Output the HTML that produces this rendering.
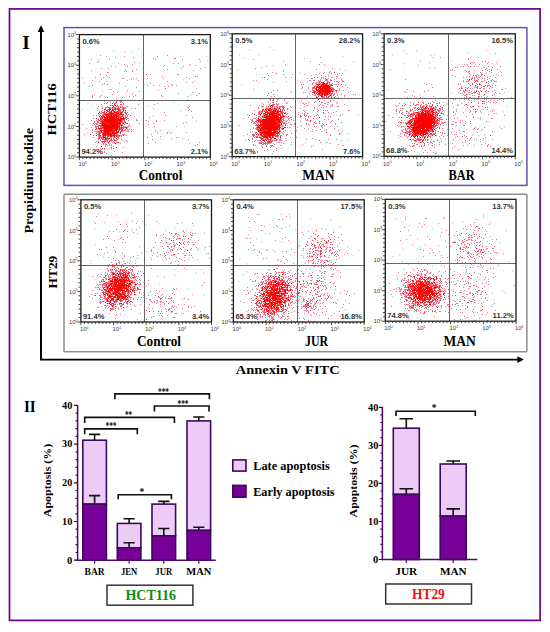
<!DOCTYPE html>
<html><head><meta charset="utf-8"><title>Apoptosis figure</title>
<style>html,body{margin:0;padding:0;background:#fff;}svg{display:block;}</style>
</head><body>
<svg width="550" height="632" viewBox="0 0 550 632"><defs><filter id="bl" x="-5%" y="-5%" width="110%" height="110%"><feGaussianBlur stdDeviation="0.35"/></filter></defs>
<rect x="9.5" y="8.9" width="530.6" height="611.5" fill="none" stroke="#6a0094" stroke-width="1.7"/>
<rect x="64" y="27.6" width="462.9" height="157.8" fill="none" stroke="#6650b5" stroke-width="1.5"/>
<rect x="64" y="194.3" width="462.9" height="157.5" fill="none" stroke="#8e8e8e" stroke-width="1.5" rx="0.8"/>
<line x1="41" y1="30" x2="41" y2="359.5" stroke="#000" stroke-width="2"/>
<polygon points="41,25.3 37.7,31.9 44.3,31.9" fill="#000"/>
<line x1="40" y1="359.6" x2="518" y2="359.6" stroke="#000" stroke-width="1.9"/>
<polygon points="523.9,359.6 517.3,356.3 517.3,362.9" fill="#000"/>
<text x="26.1" y="48.9" font-size="19.5" font-family="Liberation Serif" font-weight="bold" fill="#000" text-anchor="middle" >I</text>
<text transform="translate(33.2,180.8) rotate(-90)" x="0" y="0" font-size="13.5" font-family="Liberation Serif" font-weight="bold" fill="#000" text-anchor="middle" textLength="105.6" lengthAdjust="spacingAndGlyphs">Propidium iodide</text>
<text transform="translate(55.6,109.4) rotate(-90)" x="0" y="0" font-size="13.3" font-family="Liberation Serif" font-weight="bold" fill="#000" text-anchor="middle" textLength="52.0" lengthAdjust="spacingAndGlyphs">HCT116</text>
<text transform="translate(57.0,272.1) rotate(-90)" x="0" y="0" font-size="13.5" font-family="Liberation Serif" font-weight="bold" fill="#000" text-anchor="middle" textLength="32.8" lengthAdjust="spacingAndGlyphs">HT29</text>
<text x="287.7" y="373.5" font-size="13.2" font-family="Liberation Serif" font-weight="bold" fill="#000" text-anchor="middle" textLength="103.8" lengthAdjust="spacingAndGlyphs" >Annexin V FITC</text>
<path fill="#e8183c" fill-opacity="0.6" filter="url(#bl)" d="M100 55h1v1h-1zM167 55h1v1h-1zM106 56h1v1h-1zM124 56h1v1h-1zM157 56h1v1h-1zM115 57h1v1h-1zM133 57h1v1h-1zM153 58h1v1h-1zM174 58h2v1h-2zM91 59h1v1h-1zM109 59h1v1h-1zM155 59h1v1h-1zM182 59h1v1h-1zM199 59h1v1h-1zM98 61h1v1h-1zM200 61h1v1h-1zM97 62h1v1h-1zM134 62h1v1h-1zM139 62h1v1h-1zM89 63h1v1h-1zM118 63h1v1h-1zM173 63h1v1h-1zM178 63h1v1h-1zM124 64h1v1h-1zM132 64h1v1h-1zM190 64h1v1h-1zM164 65h1v1h-1zM189 65h1v1h-1zM195 65h1v1h-1zM111 66h1v1h-1zM115 66h1v1h-1zM127 66h1v1h-1zM163 66h1v1h-1zM183 66h1v1h-1zM205 67h1v1h-1zM101 68h1v1h-1zM108 68h1v1h-1zM181 68h1v1h-1zM200 68h1v1h-1zM136 69h1v1h-1zM167 69h1v1h-1zM91 70h1v1h-1zM125 70h1v1h-1zM132 70h1v1h-1zM193 70h1v1h-1zM124 71h1v1h-1zM126 71h1v1h-1zM132 71h1v1h-1zM107 72h2v1h-2zM100 74h1v1h-1zM146 74h1v1h-1zM150 74h1v1h-1zM177 74h2v1h-2zM106 75h1v1h-1zM162 76h1v1h-1zM195 76h1v1h-1zM197 76h1v1h-1zM95 77h1v1h-1zM103 77h1v1h-1zM109 77h1v1h-1zM186 77h1v1h-1zM122 78h2v1h-2zM133 78h1v1h-1zM136 78h1v1h-1zM147 78h1v1h-1zM163 78h1v1h-1zM189 78h1v1h-1zM101 79h1v1h-1zM131 79h1v1h-1zM92 80h1v1h-1zM127 80h1v1h-1zM138 80h1v1h-1zM99 81h1v1h-1zM106 81h1v1h-1zM167 81h1v1h-1zM194 81h1v1h-1zM186 82h1v1h-1zM192 82h1v1h-1zM104 83h1v1h-1zM119 83h1v1h-1zM150 83h1v1h-1zM102 84h1v1h-1zM107 84h1v1h-1zM171 84h1v1h-1zM92 85h1v1h-1zM147 85h1v1h-1zM153 85h1v1h-1zM159 85h1v1h-1zM172 85h1v1h-1zM176 85h1v1h-1zM89 86h1v1h-1zM125 86h1v1h-1zM164 86h1v1h-1zM168 86h1v1h-1zM136 87h1v1h-1zM165 88h1v1h-1zM109 89h1v1h-1zM111 89h1v1h-1zM127 90h1v1h-1zM158 90h1v1h-1zM113 91h1v1h-1zM139 91h1v1h-1zM117 92h1v1h-1zM126 92h1v1h-1zM192 92h1v1h-1zM178 93h1v1h-1zM199 93h1v1h-1zM94 94h1v1h-1zM112 94h1v1h-1zM132 94h1v1h-1zM92 95h1v1h-1zM101 95h1v1h-1zM135 95h1v1h-1zM161 95h1v1h-1zM196 95h1v1h-1zM92 96h1v1h-1zM99 96h1v1h-1zM129 96h1v1h-1zM133 96h1v1h-1zM162 96h1v1h-1zM187 96h1v1h-1zM92 97h1v1h-1zM100 97h1v1h-1zM107 97h1v1h-1zM122 97h1v1h-1zM116 98h1v1h-1zM102 100h1v1h-1zM104 101h1v1h-1zM116 101h1v1h-1zM120 101h1v1h-1zM110 102h1v1h-1zM113 102h1v1h-1zM115 102h1v1h-1zM120 102h1v1h-1zM122 102h1v1h-1zM104 103h1v1h-1zM106 103h1v1h-1zM114 103h2v1h-2zM123 103h1v1h-1zM157 103h1v1h-1zM101 104h1v1h-1zM121 104h1v1h-1zM123 104h1v1h-1zM138 104h1v1h-1zM154 104h1v1h-1zM110 105h5v1h-5zM117 105h1v1h-1zM98 106h1v1h-1zM107 106h1v1h-1zM116 106h3v1h-3zM120 106h1v1h-1zM122 106h1v1h-1zM126 106h2v1h-2zM189 106h1v1h-1zM102 107h1v1h-1zM105 107h4v1h-4zM110 107h1v1h-1zM113 107h3v1h-3zM121 107h5v1h-5zM187 107h2v1h-2zM97 108h1v1h-1zM102 108h1v1h-1zM105 108h1v1h-1zM110 108h5v1h-5zM116 108h1v1h-1zM119 108h1v1h-1zM122 108h4v1h-4zM131 108h1v1h-1zM135 108h1v1h-1zM105 109h1v1h-1zM107 109h2v1h-2zM113 109h1v1h-1zM116 109h1v1h-1zM120 109h1v1h-1zM124 109h1v1h-1zM189 109h1v1h-1zM97 110h1v1h-1zM102 110h1v1h-1zM104 110h1v1h-1zM111 110h1v1h-1zM115 110h1v1h-1zM118 110h1v1h-1zM188 110h1v1h-1zM99 111h1v1h-1zM101 111h1v1h-1zM108 111h2v1h-2zM113 111h1v1h-1zM115 111h2v1h-2zM119 111h2v1h-2zM123 111h1v1h-1zM125 111h1v1h-1zM191 111h1v1h-1zM101 112h2v1h-2zM112 112h2v1h-2zM117 112h1v1h-1zM119 112h1v1h-1zM122 112h1v1h-1zM124 112h1v1h-1zM127 112h1v1h-1zM164 112h1v1h-1zM100 113h2v1h-2zM103 113h5v1h-5zM114 113h2v1h-2zM119 113h1v1h-1zM122 113h1v1h-1zM125 113h2v1h-2zM99 114h1v1h-1zM102 114h2v1h-2zM118 114h1v1h-1zM122 114h1v1h-1zM128 114h1v1h-1zM93 115h1v1h-1zM96 115h1v1h-1zM98 115h1v1h-1zM100 115h1v1h-1zM102 115h1v1h-1zM105 115h1v1h-1zM112 115h1v1h-1zM119 115h2v1h-2zM123 115h1v1h-1zM125 115h1v1h-1zM127 115h1v1h-1zM130 115h1v1h-1zM165 115h1v1h-1zM186 115h1v1h-1zM102 116h1v1h-1zM120 116h2v1h-2zM127 116h1v1h-1zM134 116h1v1h-1zM100 117h2v1h-2zM103 117h1v1h-1zM117 117h1v1h-1zM119 117h1v1h-1zM121 117h1v1h-1zM124 117h2v1h-2zM149 117h1v1h-1zM192 117h1v1h-1zM93 118h1v1h-1zM108 118h1v1h-1zM119 118h1v1h-1zM125 118h1v1h-1zM127 118h2v1h-2zM101 119h2v1h-2zM124 119h1v1h-1zM136 119h1v1h-1zM91 120h1v1h-1zM96 120h1v1h-1zM98 120h1v1h-1zM100 120h2v1h-2zM103 120h1v1h-1zM122 120h3v1h-3zM128 120h1v1h-1zM136 120h2v1h-2zM146 120h1v1h-1zM156 120h1v1h-1zM164 120h1v1h-1zM94 121h1v1h-1zM98 121h1v1h-1zM118 121h1v1h-1zM122 121h1v1h-1zM148 121h1v1h-1zM156 121h1v1h-1zM196 121h1v1h-1zM94 122h1v1h-1zM97 122h2v1h-2zM105 122h1v1h-1zM121 122h4v1h-4zM186 122h1v1h-1zM93 123h1v1h-1zM95 123h3v1h-3zM99 123h1v1h-1zM122 123h1v1h-1zM125 123h2v1h-2zM139 123h1v1h-1zM153 123h1v1h-1zM183 123h1v1h-1zM82 124h1v1h-1zM94 124h1v1h-1zM96 124h2v1h-2zM101 124h1v1h-1zM121 124h2v1h-2zM124 124h1v1h-1zM129 124h1v1h-1zM148 124h1v1h-1zM92 125h1v1h-1zM95 125h1v1h-1zM100 125h1v1h-1zM118 125h1v1h-1zM120 125h1v1h-1zM128 125h1v1h-1zM95 126h4v1h-4zM100 126h1v1h-1zM102 126h1v1h-1zM125 126h1v1h-1zM127 126h2v1h-2zM130 126h1v1h-1zM154 126h1v1h-1zM91 127h1v1h-1zM95 127h2v1h-2zM98 127h1v1h-1zM101 127h1v1h-1zM120 127h1v1h-1zM122 127h2v1h-2zM127 127h1v1h-1zM86 128h1v1h-1zM102 128h1v1h-1zM118 128h1v1h-1zM120 128h1v1h-1zM122 128h2v1h-2zM92 129h1v1h-1zM96 129h1v1h-1zM98 129h3v1h-3zM103 129h1v1h-1zM118 129h1v1h-1zM121 129h1v1h-1zM125 129h1v1h-1zM127 129h1v1h-1zM131 129h1v1h-1zM92 130h1v1h-1zM99 130h1v1h-1zM118 130h1v1h-1zM121 130h1v1h-1zM123 130h3v1h-3zM128 130h1v1h-1zM155 130h1v1h-1zM160 130h1v1h-1zM95 131h3v1h-3zM99 131h2v1h-2zM103 131h1v1h-1zM120 131h1v1h-1zM122 131h1v1h-1zM127 131h2v1h-2zM131 131h1v1h-1zM92 132h1v1h-1zM97 132h4v1h-4zM102 132h1v1h-1zM111 132h1v1h-1zM114 132h1v1h-1zM157 132h1v1h-1zM167 132h1v1h-1zM171 132h1v1h-1zM186 132h1v1h-1zM98 133h1v1h-1zM100 133h1v1h-1zM102 133h1v1h-1zM117 133h1v1h-1zM167 133h1v1h-1zM170 133h1v1h-1zM84 134h1v1h-1zM97 134h2v1h-2zM115 134h3v1h-3zM122 134h3v1h-3zM151 134h1v1h-1zM93 135h1v1h-1zM98 135h1v1h-1zM102 135h1v1h-1zM106 135h1v1h-1zM115 135h1v1h-1zM117 135h1v1h-1zM120 135h2v1h-2zM126 135h1v1h-1zM98 136h1v1h-1zM100 136h1v1h-1zM102 136h1v1h-1zM104 136h1v1h-1zM112 136h2v1h-2zM117 136h3v1h-3zM121 136h1v1h-1zM152 136h1v1h-1zM160 136h1v1h-1zM93 137h1v1h-1zM98 137h3v1h-3zM102 137h1v1h-1zM106 137h2v1h-2zM110 137h2v1h-2zM113 137h1v1h-1zM115 137h1v1h-1zM117 137h2v1h-2zM147 137h1v1h-1zM176 137h1v1h-1zM178 137h1v1h-1zM102 138h2v1h-2zM111 138h1v1h-1zM113 138h1v1h-1zM116 138h1v1h-1zM118 138h1v1h-1zM171 138h1v1h-1zM98 139h1v1h-1zM100 139h1v1h-1zM102 139h1v1h-1zM104 139h1v1h-1zM107 139h2v1h-2zM110 139h1v1h-1zM113 139h2v1h-2zM116 139h1v1h-1zM121 139h1v1h-1zM152 139h1v1h-1zM188 139h1v1h-1zM100 140h1v1h-1zM104 140h4v1h-4zM109 140h1v1h-1zM111 140h2v1h-2zM115 140h2v1h-2zM126 140h1v1h-1zM96 141h1v1h-1zM98 141h1v1h-1zM101 141h1v1h-1zM106 141h2v1h-2zM111 141h1v1h-1zM113 141h1v1h-1zM124 141h1v1h-1zM127 141h1v1h-1zM95 142h1v1h-1zM98 142h1v1h-1zM104 142h1v1h-1zM107 142h1v1h-1zM112 142h1v1h-1zM116 142h2v1h-2zM155 142h1v1h-1zM199 142h1v1h-1zM103 143h1v1h-1zM105 143h1v1h-1zM108 143h1v1h-1zM110 143h1v1h-1zM114 143h1v1h-1zM120 143h1v1h-1zM148 143h1v1h-1zM103 144h1v1h-1zM105 144h2v1h-2zM109 144h1v1h-1zM111 144h1v1h-1zM197 144h1v1h-1zM105 145h1v1h-1zM107 145h1v1h-1zM109 145h1v1h-1zM111 145h1v1h-1zM195 145h1v1h-1zM96 146h1v1h-1zM105 146h1v1h-1zM113 146h1v1h-1zM123 147h1v1h-1zM100 148h1v1h-1zM111 148h1v1h-1zM113 148h1v1h-1zM90 149h1v1h-1zM104 149h1v1h-1zM107 149h1v1h-1zM97 151h1v1h-1zM104 151h1v1h-1zM114 151h1v1h-1zM104 152h1v1h-1zM122 152h1v1h-1zM106 153h1v1h-1zM111 155h1v1h-1zM126 156h1v1h-1z"/>
<path fill="#ff0000" fill-opacity="0.85" filter="url(#bl)" d="M111 100h1v1h-1zM121 101h1v1h-1zM107 102h1v1h-1zM116 102h1v1h-1zM112 103h1v1h-1zM114 104h1v1h-1zM120 104h1v1h-1zM109 107h1v1h-1zM112 107h1v1h-1zM118 107h1v1h-1zM120 107h1v1h-1zM109 108h1v1h-1zM117 108h2v1h-2zM104 109h1v1h-1zM114 109h2v1h-2zM117 109h1v1h-1zM119 109h1v1h-1zM122 109h1v1h-1zM106 110h1v1h-1zM112 110h1v1h-1zM119 110h2v1h-2zM123 110h1v1h-1zM125 110h1v1h-1zM104 111h1v1h-1zM110 111h1v1h-1zM117 111h2v1h-2zM122 111h1v1h-1zM103 112h2v1h-2zM106 112h1v1h-1zM110 112h1v1h-1zM120 112h2v1h-2zM125 112h1v1h-1zM98 113h1v1h-1zM108 113h3v1h-3zM120 113h1v1h-1zM105 114h1v1h-1zM108 114h1v1h-1zM110 114h1v1h-1zM112 114h2v1h-2zM116 114h2v1h-2zM119 114h2v1h-2zM126 114h1v1h-1zM103 115h1v1h-1zM107 115h2v1h-2zM110 115h1v1h-1zM115 115h1v1h-1zM117 115h1v1h-1zM122 115h1v1h-1zM101 116h1v1h-1zM106 116h1v1h-1zM115 116h1v1h-1zM118 116h2v1h-2zM125 116h1v1h-1zM105 117h2v1h-2zM118 117h1v1h-1zM126 117h1v1h-1zM96 118h1v1h-1zM101 118h2v1h-2zM104 118h1v1h-1zM116 118h1v1h-1zM122 118h3v1h-3zM98 119h1v1h-1zM100 119h1v1h-1zM103 119h1v1h-1zM110 119h1v1h-1zM117 119h1v1h-1zM121 119h1v1h-1zM126 119h1v1h-1zM99 120h1v1h-1zM116 120h1v1h-1zM121 120h1v1h-1zM97 121h1v1h-1zM100 121h2v1h-2zM103 121h1v1h-1zM121 121h1v1h-1zM124 121h1v1h-1zM101 122h1v1h-1zM103 122h1v1h-1zM120 122h1v1h-1zM125 122h1v1h-1zM101 123h1v1h-1zM115 123h1v1h-1zM123 123h1v1h-1zM102 124h1v1h-1zM119 124h2v1h-2zM98 125h1v1h-1zM109 125h1v1h-1zM119 125h1v1h-1zM122 125h1v1h-1zM101 126h1v1h-1zM121 126h1v1h-1zM123 126h1v1h-1zM100 127h1v1h-1zM102 127h1v1h-1zM118 127h2v1h-2zM124 127h3v1h-3zM96 128h1v1h-1zM98 128h1v1h-1zM100 128h1v1h-1zM103 128h1v1h-1zM121 128h1v1h-1zM95 129h1v1h-1zM101 129h1v1h-1zM120 129h1v1h-1zM122 129h1v1h-1zM129 129h1v1h-1zM101 130h2v1h-2zM112 130h1v1h-1zM119 130h1v1h-1zM122 130h1v1h-1zM98 131h1v1h-1zM117 131h1v1h-1zM121 131h1v1h-1zM106 132h1v1h-1zM110 132h1v1h-1zM118 132h1v1h-1zM120 132h1v1h-1zM96 133h1v1h-1zM99 133h1v1h-1zM105 133h2v1h-2zM109 133h1v1h-1zM116 133h1v1h-1zM120 133h1v1h-1zM90 134h1v1h-1zM99 134h1v1h-1zM102 134h1v1h-1zM104 134h1v1h-1zM111 134h1v1h-1zM99 135h1v1h-1zM107 135h3v1h-3zM116 135h1v1h-1zM118 135h2v1h-2zM123 135h1v1h-1zM99 136h1v1h-1zM107 136h2v1h-2zM111 136h1v1h-1zM101 137h1v1h-1zM105 137h1v1h-1zM114 137h1v1h-1zM98 138h2v1h-2zM101 138h1v1h-1zM106 138h3v1h-3zM103 139h1v1h-1zM105 139h2v1h-2zM111 139h1v1h-1zM117 139h1v1h-1zM110 140h1v1h-1zM114 140h1v1h-1zM102 141h4v1h-4zM102 142h1v1h-1zM114 142h1v1h-1zM118 142h1v1h-1zM115 143h1v1h-1zM101 146h1v1h-1zM111 147h1v1h-1zM116 147h1v1h-1zM102 148h1v1h-1zM104 148h1v1h-1z"/>
<path fill="#ff0000" fill-opacity="1.0" filter="url(#bl)" d="M115 105h1v1h-1zM113 106h1v1h-1zM115 108h1v1h-1zM109 109h2v1h-2zM112 109h1v1h-1zM118 109h1v1h-1zM123 109h1v1h-1zM107 110h1v1h-1zM109 110h1v1h-1zM113 110h1v1h-1zM107 111h1v1h-1zM111 111h1v1h-1zM114 111h1v1h-1zM99 112h1v1h-1zM109 112h1v1h-1zM111 112h1v1h-1zM114 112h3v1h-3zM118 112h1v1h-1zM111 113h3v1h-3zM116 113h3v1h-3zM121 113h1v1h-1zM104 114h1v1h-1zM106 114h2v1h-2zM109 114h1v1h-1zM111 114h1v1h-1zM114 114h2v1h-2zM121 114h1v1h-1zM123 114h1v1h-1zM106 115h1v1h-1zM109 115h1v1h-1zM111 115h1v1h-1zM113 115h2v1h-2zM116 115h1v1h-1zM118 115h1v1h-1zM99 116h1v1h-1zM103 116h2v1h-2zM107 116h8v1h-8zM116 116h2v1h-2zM122 116h1v1h-1zM102 117h1v1h-1zM104 117h1v1h-1zM107 117h10v1h-10zM120 117h1v1h-1zM123 117h1v1h-1zM100 118h1v1h-1zM105 118h3v1h-3zM109 118h7v1h-7zM117 118h2v1h-2zM120 118h2v1h-2zM104 119h6v1h-6zM111 119h6v1h-6zM118 119h3v1h-3zM122 119h2v1h-2zM102 120h1v1h-1zM104 120h12v1h-12zM117 120h4v1h-4zM102 121h1v1h-1zM104 121h14v1h-14zM119 121h2v1h-2zM102 122h1v1h-1zM104 122h1v1h-1zM106 122h14v1h-14zM100 123h1v1h-1zM102 123h13v1h-13zM116 123h5v1h-5zM127 123h1v1h-1zM103 124h16v1h-16zM99 125h1v1h-1zM101 125h8v1h-8zM110 125h8v1h-8zM121 125h1v1h-1zM103 126h17v1h-17zM103 127h15v1h-15zM121 127h1v1h-1zM99 128h1v1h-1zM101 128h1v1h-1zM104 128h14v1h-14zM119 128h1v1h-1zM126 128h1v1h-1zM104 129h14v1h-14zM119 129h1v1h-1zM100 130h1v1h-1zM103 130h9v1h-9zM113 130h4v1h-4zM101 131h1v1h-1zM104 131h11v1h-11zM116 131h1v1h-1zM118 131h1v1h-1zM101 132h1v1h-1zM103 132h3v1h-3zM107 132h3v1h-3zM112 132h2v1h-2zM115 132h3v1h-3zM103 133h2v1h-2zM107 133h2v1h-2zM110 133h6v1h-6zM103 134h1v1h-1zM105 134h6v1h-6zM112 134h3v1h-3zM96 135h1v1h-1zM100 135h1v1h-1zM103 135h3v1h-3zM110 135h5v1h-5zM103 136h1v1h-1zM105 136h1v1h-1zM110 136h1v1h-1zM114 136h1v1h-1zM116 136h1v1h-1zM103 137h2v1h-2zM105 138h1v1h-1zM109 138h1v1h-1zM109 141h1v1h-1zM108 142h1v1h-1z"/>
<path fill="#b8b8b8" fill-opacity="0.55" filter="url(#bl)" d="M117 100h1.4v1.4h-1.4zM180 56h1.4v1.4h-1.4zM207 60h1.4v1.4h-1.4zM82 109h1.4v1.4h-1.4zM184 126h1.4v1.4h-1.4zM87 103h1.4v1.4h-1.4zM206 56h1.4v1.4h-1.4zM152 115h1.4v1.4h-1.4zM131 51h1.4v1.4h-1.4zM107 123h1.4v1.4h-1.4zM113 50h1.4v1.4h-1.4zM183 79h1.4v1.4h-1.4zM153 108h1.4v1.4h-1.4zM153 139h1.4v1.4h-1.4zM102 90h1.4v1.4h-1.4zM190 94h1.4v1.4h-1.4zM126 130h1.4v1.4h-1.4zM131 113h1.4v1.4h-1.4zM160 138h1.4v1.4h-1.4zM112 134h1.4v1.4h-1.4zM116 107h1.4v1.4h-1.4zM125 130h1.4v1.4h-1.4zM84 82h1.4v1.4h-1.4zM138 48h1.4v1.4h-1.4zM142 98h1.4v1.4h-1.4zM189 143h1.4v1.4h-1.4zM107 76h1.4v1.4h-1.4zM187 99h1.4v1.4h-1.4zM169 129h1.4v1.4h-1.4zM113 129h1.4v1.4h-1.4zM168 131h1.4v1.4h-1.4zM176 126h1.4v1.4h-1.4zM91 105h1.4v1.4h-1.4zM124 51h1.4v1.4h-1.4zM98 59h1.4v1.4h-1.4zM147 105h1.4v1.4h-1.4zM82 77h1.4v1.4h-1.4zM121 99h1.4v1.4h-1.4zM173 101h1.4v1.4h-1.4zM180 110h1.4v1.4h-1.4zM182 138h1.4v1.4h-1.4zM87 132h1.4v1.4h-1.4zM142 54h1.4v1.4h-1.4zM196 88h1.4v1.4h-1.4zM127 99h1.4v1.4h-1.4z"/>
<line x1="79.4" y1="100.5" x2="210.3" y2="100.5" stroke="#666" stroke-width="1"/>
<line x1="143.5" y1="34.6" x2="143.5" y2="157.1" stroke="#666" stroke-width="1"/>
<rect x="79.4" y="34.6" width="130.9" height="122.5" fill="none" stroke="#1a1a1a" stroke-width="1.3"/>
<path d="M75.8 34.6H79.4M77.0 39.0H79.4M77.0 43.4H79.4M77.0 47.7H79.4M77.0 52.1H79.4M77.0 56.5H79.4M77.0 60.9H79.4M79.4 157.1v3.0M83.0 157.1v1.9M86.7 157.1v1.9M90.3 157.1v1.9M93.9 157.1v1.9M97.6 157.1v1.9M101.2 157.1v1.9M104.9 157.1v1.9M108.5 157.1v1.9M75.8 65.2H79.4M77.0 69.6H79.4M77.0 74.0H79.4M77.0 78.3H79.4M77.0 82.7H79.4M77.0 87.1H79.4M77.0 91.5H79.4M112.1 157.1v3.0M115.8 157.1v1.9M119.4 157.1v1.9M123.0 157.1v1.9M126.7 157.1v1.9M130.3 157.1v1.9M133.9 157.1v1.9M137.6 157.1v1.9M141.2 157.1v1.9M75.8 95.8H79.4M77.0 100.2H79.4M77.0 104.6H79.4M77.0 109.0H79.4M77.0 113.3H79.4M77.0 117.7H79.4M77.0 122.1H79.4M144.9 157.1v3.0M148.5 157.1v1.9M152.1 157.1v1.9M155.8 157.1v1.9M159.4 157.1v1.9M163.0 157.1v1.9M166.7 157.1v1.9M170.3 157.1v1.9M173.9 157.1v1.9M75.8 126.5H79.4M77.0 130.8H79.4M77.0 135.2H79.4M77.0 139.6H79.4M77.0 144.0H79.4M77.0 148.3H79.4M77.0 152.7H79.4M177.6 157.1v3.0M181.2 157.1v1.9M184.8 157.1v1.9M188.5 157.1v1.9M192.1 157.1v1.9M195.8 157.1v1.9M199.4 157.1v1.9M203.0 157.1v1.9M206.7 157.1v1.9M75.80000000000001 157.1H79.4M210.3 157.1v3" stroke="#333" stroke-width="0.9" fill="none"/>
<text x="76.0" y="36.7" font-size="5.9" font-family="Liberation Sans" fill="#3c3c3c" text-anchor="end">10<tspan font-size="3.5" dy="-2.6">4</tspan></text>
<text x="78.4" y="166.3" font-size="5.9" font-family="Liberation Sans" fill="#3c3c3c">10<tspan font-size="3.5" dy="-2.6">0</tspan></text>
<text x="76.0" y="67.3" font-size="5.9" font-family="Liberation Sans" fill="#3c3c3c" text-anchor="end">10<tspan font-size="3.5" dy="-2.6">3</tspan></text>
<text x="111.1" y="166.3" font-size="5.9" font-family="Liberation Sans" fill="#3c3c3c">10<tspan font-size="3.5" dy="-2.6">1</tspan></text>
<text x="76.0" y="97.9" font-size="5.9" font-family="Liberation Sans" fill="#3c3c3c" text-anchor="end">10<tspan font-size="3.5" dy="-2.6">2</tspan></text>
<text x="143.9" y="166.3" font-size="5.9" font-family="Liberation Sans" fill="#3c3c3c">10<tspan font-size="3.5" dy="-2.6">2</tspan></text>
<text x="76.0" y="128.6" font-size="5.9" font-family="Liberation Sans" fill="#3c3c3c" text-anchor="end">10<tspan font-size="3.5" dy="-2.6">1</tspan></text>
<text x="176.6" y="166.3" font-size="5.9" font-family="Liberation Sans" fill="#3c3c3c">10<tspan font-size="3.5" dy="-2.6">3</tspan></text>
<text x="76.0" y="159.2" font-size="5.9" font-family="Liberation Sans" fill="#3c3c3c" text-anchor="end">10<tspan font-size="3.5" dy="-2.6">0</tspan></text>
<text x="209.3" y="166.3" font-size="5.9" font-family="Liberation Sans" fill="#3c3c3c">10<tspan font-size="3.5" dy="-2.6">4</tspan></text>
<text x="82.4" y="44.2" font-size="7.5" font-family="Liberation Sans" font-weight="bold" fill="#333" text-anchor="start" textLength="17.3" lengthAdjust="spacingAndGlyphs" >0.6%</text>
<text x="208.0" y="44.2" font-size="7.5" font-family="Liberation Sans" font-weight="bold" fill="#333" text-anchor="end" textLength="17.3" lengthAdjust="spacingAndGlyphs" >3.1%</text>
<text x="81.4" y="154.2" font-size="7.5" font-family="Liberation Sans" font-weight="bold" fill="#333" text-anchor="start" textLength="21.5" lengthAdjust="spacingAndGlyphs" >94.2%</text>
<text x="208.0" y="154.2" font-size="7.5" font-family="Liberation Sans" font-weight="bold" fill="#333" text-anchor="end" textLength="17.3" lengthAdjust="spacingAndGlyphs" >2.1%</text>
<text x="160.5" y="180.4" font-size="14.2" font-family="Liberation Serif" font-weight="bold" fill="#000" text-anchor="middle" textLength="43.7" lengthAdjust="spacingAndGlyphs" >Control</text>
<path fill="#e8183c" fill-opacity="0.6" filter="url(#bl)" d="M320 57h1v1h-1zM253 59h1v1h-1zM283 61h1v1h-1zM310 61h1v1h-1zM321 62h1v1h-1zM285 64h1v1h-1zM319 64h1v1h-1zM324 64h1v1h-1zM273 65h1v1h-1zM266 66h1v1h-1zM261 67h1v1h-1zM255 68h1v1h-1zM332 68h1v1h-1zM316 69h1v1h-1zM339 69h1v1h-1zM345 70h1v1h-1zM283 71h1v1h-1zM330 71h1v1h-1zM272 72h1v1h-1zM324 72h1v1h-1zM267 73h1v1h-1zM276 73h1v1h-1zM319 73h1v1h-1zM323 73h1v1h-1zM339 73h1v1h-1zM342 73h1v1h-1zM283 74h1v1h-1zM304 74h1v1h-1zM316 74h1v1h-1zM337 74h1v1h-1zM268 75h1v1h-1zM311 75h1v1h-1zM321 75h1v1h-1zM341 75h1v1h-1zM325 76h1v1h-1zM328 76h1v1h-1zM336 76h2v1h-2zM262 77h1v1h-1zM285 77h1v1h-1zM291 77h1v1h-1zM314 77h1v1h-1zM321 77h1v1h-1zM323 77h1v1h-1zM331 77h2v1h-2zM307 78h1v1h-1zM311 78h2v1h-2zM321 78h1v1h-1zM323 78h1v1h-1zM325 78h1v1h-1zM328 78h1v1h-1zM336 78h1v1h-1zM267 79h1v1h-1zM320 79h1v1h-1zM325 79h3v1h-3zM330 79h1v1h-1zM334 79h1v1h-1zM341 79h1v1h-1zM253 80h1v1h-1zM256 80h1v1h-1zM309 80h2v1h-2zM313 80h2v1h-2zM318 80h1v1h-1zM320 80h1v1h-1zM325 80h3v1h-3zM330 80h1v1h-1zM342 80h1v1h-1zM286 81h1v1h-1zM307 81h1v1h-1zM318 81h3v1h-3zM324 81h1v1h-1zM327 81h2v1h-2zM334 81h1v1h-1zM336 81h2v1h-2zM342 81h2v1h-2zM273 82h1v1h-1zM300 82h1v1h-1zM313 82h1v1h-1zM316 82h2v1h-2zM322 82h1v1h-1zM328 82h2v1h-2zM312 83h1v1h-1zM315 83h2v1h-2zM318 83h3v1h-3zM325 83h1v1h-1zM329 83h1v1h-1zM332 83h1v1h-1zM301 84h1v1h-1zM303 84h1v1h-1zM312 84h1v1h-1zM316 84h1v1h-1zM320 84h2v1h-2zM327 84h1v1h-1zM330 84h2v1h-2zM335 84h2v1h-2zM338 84h1v1h-1zM341 84h1v1h-1zM315 85h1v1h-1zM317 85h1v1h-1zM320 85h1v1h-1zM329 85h2v1h-2zM340 85h1v1h-1zM345 85h1v1h-1zM302 86h1v1h-1zM318 86h1v1h-1zM330 86h1v1h-1zM337 86h1v1h-1zM342 86h1v1h-1zM302 87h1v1h-1zM308 87h1v1h-1zM312 87h1v1h-1zM314 87h1v1h-1zM321 87h1v1h-1zM330 87h3v1h-3zM347 87h1v1h-1zM301 88h1v1h-1zM308 88h1v1h-1zM312 88h3v1h-3zM318 88h1v1h-1zM331 88h2v1h-2zM339 88h1v1h-1zM253 89h1v1h-1zM312 89h1v1h-1zM315 89h1v1h-1zM317 89h1v1h-1zM319 89h1v1h-1zM330 89h1v1h-1zM333 89h1v1h-1zM339 89h1v1h-1zM273 90h1v1h-1zM277 90h1v1h-1zM312 90h3v1h-3zM332 90h2v1h-2zM337 90h1v1h-1zM339 90h1v1h-1zM343 90h1v1h-1zM291 91h1v1h-1zM310 91h1v1h-1zM313 91h1v1h-1zM317 91h1v1h-1zM333 91h2v1h-2zM336 91h1v1h-1zM350 91h1v1h-1zM271 92h1v1h-1zM303 92h1v1h-1zM305 92h1v1h-1zM315 92h2v1h-2zM318 92h1v1h-1zM332 92h1v1h-1zM336 92h1v1h-1zM348 92h1v1h-1zM268 93h1v1h-1zM309 93h1v1h-1zM328 93h1v1h-1zM330 93h3v1h-3zM334 93h1v1h-1zM273 94h1v1h-1zM312 94h1v1h-1zM315 94h1v1h-1zM320 94h1v1h-1zM328 94h3v1h-3zM333 94h2v1h-2zM337 94h1v1h-1zM341 94h1v1h-1zM353 94h1v1h-1zM355 94h1v1h-1zM267 95h1v1h-1zM314 95h2v1h-2zM318 95h2v1h-2zM326 95h2v1h-2zM329 95h1v1h-1zM331 95h1v1h-1zM337 95h1v1h-1zM344 95h1v1h-1zM271 96h1v1h-1zM274 96h1v1h-1zM307 96h1v1h-1zM316 96h1v1h-1zM323 96h2v1h-2zM326 96h1v1h-1zM329 96h1v1h-1zM331 96h1v1h-1zM335 96h1v1h-1zM344 96h1v1h-1zM317 97h1v1h-1zM321 97h4v1h-4zM327 97h2v1h-2zM334 97h1v1h-1zM338 97h1v1h-1zM276 98h1v1h-1zM278 98h1v1h-1zM281 98h1v1h-1zM314 98h1v1h-1zM323 98h1v1h-1zM325 98h3v1h-3zM330 98h2v1h-2zM335 98h1v1h-1zM270 99h1v1h-1zM273 99h1v1h-1zM277 99h1v1h-1zM270 100h1v1h-1zM272 100h1v1h-1zM284 100h1v1h-1zM301 100h1v1h-1zM317 100h1v1h-1zM324 100h1v1h-1zM330 100h1v1h-1zM333 100h1v1h-1zM276 101h2v1h-2zM299 101h1v1h-1zM315 101h1v1h-1zM319 101h1v1h-1zM330 101h1v1h-1zM268 102h1v1h-1zM272 102h1v1h-1zM287 102h1v1h-1zM302 102h1v1h-1zM308 102h1v1h-1zM314 102h1v1h-1zM322 102h1v1h-1zM327 102h2v1h-2zM336 102h1v1h-1zM262 103h1v1h-1zM270 103h1v1h-1zM276 103h1v1h-1zM278 103h1v1h-1zM303 103h1v1h-1zM306 103h1v1h-1zM324 103h2v1h-2zM337 103h1v1h-1zM263 104h1v1h-1zM269 104h1v1h-1zM272 104h1v1h-1zM274 104h1v1h-1zM276 104h3v1h-3zM304 104h1v1h-1zM320 104h1v1h-1zM327 104h1v1h-1zM332 104h1v1h-1zM344 104h1v1h-1zM250 105h1v1h-1zM259 105h1v1h-1zM269 105h2v1h-2zM273 105h1v1h-1zM277 105h1v1h-1zM282 105h1v1h-1zM307 105h1v1h-1zM319 105h1v1h-1zM322 105h2v1h-2zM331 105h2v1h-2zM261 106h1v1h-1zM263 106h1v1h-1zM266 106h1v1h-1zM268 106h1v1h-1zM274 106h1v1h-1zM276 106h2v1h-2zM279 106h5v1h-5zM290 106h1v1h-1zM304 106h1v1h-1zM326 106h1v1h-1zM330 106h1v1h-1zM337 106h2v1h-2zM258 107h1v1h-1zM266 107h1v1h-1zM268 107h1v1h-1zM270 107h3v1h-3zM274 107h1v1h-1zM276 107h1v1h-1zM280 107h1v1h-1zM284 107h1v1h-1zM291 107h1v1h-1zM314 107h1v1h-1zM321 107h1v1h-1zM323 107h1v1h-1zM258 108h1v1h-1zM265 108h5v1h-5zM272 108h2v1h-2zM276 108h3v1h-3zM287 108h1v1h-1zM295 108h1v1h-1zM300 108h1v1h-1zM314 108h1v1h-1zM262 109h1v1h-1zM266 109h1v1h-1zM272 109h3v1h-3zM282 109h3v1h-3zM287 109h1v1h-1zM317 109h1v1h-1zM254 110h1v1h-1zM263 110h3v1h-3zM271 110h2v1h-2zM276 110h1v1h-1zM278 110h1v1h-1zM284 110h1v1h-1zM290 110h1v1h-1zM303 110h1v1h-1zM305 110h1v1h-1zM313 110h1v1h-1zM318 110h1v1h-1zM323 110h1v1h-1zM325 110h1v1h-1zM327 110h1v1h-1zM348 110h2v1h-2zM260 111h2v1h-2zM265 111h1v1h-1zM269 111h1v1h-1zM276 111h1v1h-1zM281 111h2v1h-2zM304 111h1v1h-1zM317 111h1v1h-1zM336 111h1v1h-1zM258 112h5v1h-5zM269 112h1v1h-1zM275 112h1v1h-1zM280 112h1v1h-1zM282 112h1v1h-1zM285 112h1v1h-1zM298 112h1v1h-1zM305 112h1v1h-1zM328 112h1v1h-1zM333 112h1v1h-1zM252 113h1v1h-1zM258 113h1v1h-1zM279 113h3v1h-3zM285 113h1v1h-1zM287 113h1v1h-1zM302 113h1v1h-1zM304 113h1v1h-1zM323 113h1v1h-1zM325 113h1v1h-1zM331 113h1v1h-1zM247 114h1v1h-1zM258 114h2v1h-2zM263 114h2v1h-2zM275 114h1v1h-1zM286 114h1v1h-1zM298 114h1v1h-1zM304 114h1v1h-1zM317 114h1v1h-1zM342 114h1v1h-1zM249 115h1v1h-1zM256 115h1v1h-1zM260 115h1v1h-1zM263 115h1v1h-1zM267 115h1v1h-1zM282 115h2v1h-2zM304 115h1v1h-1zM306 115h1v1h-1zM316 115h1v1h-1zM318 115h1v1h-1zM340 115h1v1h-1zM258 116h2v1h-2zM261 116h1v1h-1zM263 116h1v1h-1zM281 116h1v1h-1zM286 116h1v1h-1zM300 116h2v1h-2zM305 116h1v1h-1zM308 116h1v1h-1zM310 116h1v1h-1zM314 116h1v1h-1zM325 116h1v1h-1zM328 116h1v1h-1zM330 116h1v1h-1zM248 117h1v1h-1zM256 117h1v1h-1zM258 117h1v1h-1zM260 117h1v1h-1zM262 117h2v1h-2zM282 117h2v1h-2zM287 117h1v1h-1zM290 117h2v1h-2zM300 117h1v1h-1zM308 117h1v1h-1zM243 118h1v1h-1zM254 118h2v1h-2zM257 118h1v1h-1zM261 118h1v1h-1zM263 118h1v1h-1zM265 118h1v1h-1zM279 118h1v1h-1zM283 118h1v1h-1zM288 118h2v1h-2zM305 118h1v1h-1zM313 118h1v1h-1zM316 118h1v1h-1zM250 119h1v1h-1zM252 119h1v1h-1zM256 119h1v1h-1zM261 119h1v1h-1zM281 119h3v1h-3zM288 119h1v1h-1zM305 119h1v1h-1zM307 119h1v1h-1zM324 119h1v1h-1zM328 119h1v1h-1zM338 119h1v1h-1zM251 120h2v1h-2zM256 120h1v1h-1zM261 120h1v1h-1zM281 120h1v1h-1zM284 120h1v1h-1zM287 120h1v1h-1zM289 120h1v1h-1zM293 120h1v1h-1zM306 120h2v1h-2zM332 120h1v1h-1zM252 121h2v1h-2zM255 121h2v1h-2zM259 121h1v1h-1zM276 121h1v1h-1zM280 121h1v1h-1zM282 121h1v1h-1zM285 121h2v1h-2zM300 121h1v1h-1zM315 121h1v1h-1zM319 121h1v1h-1zM331 121h1v1h-1zM251 122h1v1h-1zM254 122h1v1h-1zM256 122h4v1h-4zM261 122h1v1h-1zM282 122h3v1h-3zM288 122h1v1h-1zM314 122h1v1h-1zM330 122h1v1h-1zM341 122h1v1h-1zM253 123h3v1h-3zM257 123h1v1h-1zM261 123h1v1h-1zM278 123h1v1h-1zM283 123h4v1h-4zM294 123h1v1h-1zM306 123h1v1h-1zM315 123h2v1h-2zM322 123h1v1h-1zM335 123h1v1h-1zM256 124h1v1h-1zM280 124h1v1h-1zM290 124h2v1h-2zM294 124h1v1h-1zM306 124h1v1h-1zM308 124h1v1h-1zM313 124h1v1h-1zM323 124h1v1h-1zM326 124h1v1h-1zM335 124h1v1h-1zM238 125h1v1h-1zM255 125h1v1h-1zM258 125h1v1h-1zM280 125h2v1h-2zM283 125h1v1h-1zM287 125h1v1h-1zM301 125h1v1h-1zM321 125h2v1h-2zM324 125h1v1h-1zM257 126h1v1h-1zM259 126h1v1h-1zM261 126h1v1h-1zM281 126h1v1h-1zM295 126h1v1h-1zM314 126h1v1h-1zM316 126h1v1h-1zM321 126h1v1h-1zM330 126h1v1h-1zM337 126h1v1h-1zM253 127h1v1h-1zM256 127h1v1h-1zM260 127h1v1h-1zM287 127h1v1h-1zM289 127h1v1h-1zM297 127h1v1h-1zM322 127h1v1h-1zM253 128h1v1h-1zM255 128h4v1h-4zM278 128h1v1h-1zM281 128h1v1h-1zM304 128h1v1h-1zM334 128h1v1h-1zM250 129h1v1h-1zM256 129h1v1h-1zM259 129h1v1h-1zM283 129h1v1h-1zM295 129h1v1h-1zM308 129h1v1h-1zM312 129h1v1h-1zM320 129h1v1h-1zM326 129h1v1h-1zM257 130h1v1h-1zM266 130h1v1h-1zM276 130h3v1h-3zM280 130h1v1h-1zM285 130h1v1h-1zM290 130h1v1h-1zM296 130h1v1h-1zM316 130h1v1h-1zM324 130h1v1h-1zM338 130h1v1h-1zM252 131h1v1h-1zM259 131h2v1h-2zM262 131h1v1h-1zM280 131h1v1h-1zM283 131h1v1h-1zM310 131h1v1h-1zM312 131h1v1h-1zM321 131h1v1h-1zM342 131h1v1h-1zM250 132h1v1h-1zM255 132h1v1h-1zM276 132h1v1h-1zM279 132h1v1h-1zM281 132h1v1h-1zM326 132h1v1h-1zM255 133h1v1h-1zM257 133h1v1h-1zM259 133h1v1h-1zM275 133h1v1h-1zM279 133h1v1h-1zM282 133h1v1h-1zM291 133h1v1h-1zM339 133h2v1h-2zM247 134h1v1h-1zM252 134h1v1h-1zM254 134h1v1h-1zM279 134h1v1h-1zM283 134h1v1h-1zM286 134h2v1h-2zM330 134h1v1h-1zM339 134h1v1h-1zM252 135h1v1h-1zM254 135h1v1h-1zM258 135h1v1h-1zM260 135h1v1h-1zM263 135h1v1h-1zM275 135h1v1h-1zM278 135h1v1h-1zM280 135h2v1h-2zM286 135h1v1h-1zM330 135h1v1h-1zM253 136h1v1h-1zM255 136h3v1h-3zM259 136h1v1h-1zM261 136h1v1h-1zM273 136h1v1h-1zM277 136h2v1h-2zM254 137h1v1h-1zM261 137h1v1h-1zM271 137h1v1h-1zM277 137h1v1h-1zM290 137h1v1h-1zM296 137h1v1h-1zM252 138h1v1h-1zM260 138h1v1h-1zM263 138h1v1h-1zM265 138h2v1h-2zM268 138h1v1h-1zM280 138h1v1h-1zM285 138h1v1h-1zM312 138h1v1h-1zM248 139h1v1h-1zM252 139h1v1h-1zM262 139h3v1h-3zM266 139h2v1h-2zM269 139h1v1h-1zM271 139h1v1h-1zM273 139h1v1h-1zM276 139h2v1h-2zM279 139h2v1h-2zM306 139h1v1h-1zM315 139h1v1h-1zM328 139h1v1h-1zM336 139h1v1h-1zM245 140h1v1h-1zM249 140h1v1h-1zM255 140h1v1h-1zM257 140h1v1h-1zM259 140h2v1h-2zM262 140h1v1h-1zM268 140h2v1h-2zM274 140h3v1h-3zM279 140h3v1h-3zM286 140h1v1h-1zM319 140h1v1h-1zM341 140h1v1h-1zM252 141h1v1h-1zM254 141h1v1h-1zM261 141h1v1h-1zM270 141h1v1h-1zM272 141h1v1h-1zM276 141h1v1h-1zM259 142h5v1h-5zM268 142h1v1h-1zM270 142h2v1h-2zM278 142h2v1h-2zM281 142h1v1h-1zM291 142h1v1h-1zM320 142h1v1h-1zM325 142h1v1h-1zM327 142h1v1h-1zM260 143h1v1h-1zM263 143h1v1h-1zM265 143h6v1h-6zM273 143h1v1h-1zM283 143h1v1h-1zM330 143h1v1h-1zM253 144h1v1h-1zM262 144h2v1h-2zM267 144h1v1h-1zM274 144h1v1h-1zM291 144h1v1h-1zM302 144h1v1h-1zM338 144h1v1h-1zM253 145h1v1h-1zM255 145h1v1h-1zM261 145h1v1h-1zM266 145h1v1h-1zM270 145h3v1h-3zM280 145h1v1h-1zM313 145h1v1h-1zM342 145h2v1h-2zM266 146h1v1h-1zM271 146h1v1h-1zM273 146h1v1h-1zM311 146h1v1h-1zM270 147h1v1h-1zM276 148h1v1h-1zM281 148h1v1h-1zM295 148h1v1h-1zM267 149h1v1h-1zM322 149h1v1h-1zM264 150h1v1h-1zM276 150h1v1h-1zM257 151h1v1h-1zM273 151h1v1h-1zM257 152h1v1h-1zM253 153h1v1h-1zM272 153h1v1h-1z"/>
<path fill="#ff0000" fill-opacity="0.85" filter="url(#bl)" d="M329 72h1v1h-1zM334 72h1v1h-1zM331 73h1v1h-1zM264 77h1v1h-1zM317 77h1v1h-1zM331 80h1v1h-1zM319 82h1v1h-1zM321 82h1v1h-1zM327 82h1v1h-1zM338 82h1v1h-1zM322 83h1v1h-1zM326 83h2v1h-2zM317 84h2v1h-2zM323 84h1v1h-1zM325 84h1v1h-1zM329 84h1v1h-1zM318 85h1v1h-1zM322 85h1v1h-1zM327 85h1v1h-1zM332 85h1v1h-1zM316 86h1v1h-1zM328 86h1v1h-1zM313 87h1v1h-1zM316 87h2v1h-2zM315 88h1v1h-1zM333 88h1v1h-1zM323 89h1v1h-1zM332 89h1v1h-1zM334 89h1v1h-1zM323 90h1v1h-1zM335 90h2v1h-2zM314 91h2v1h-2zM331 91h1v1h-1zM312 92h3v1h-3zM317 92h1v1h-1zM329 92h2v1h-2zM318 94h2v1h-2zM331 94h1v1h-1zM321 95h2v1h-2zM330 95h1v1h-1zM333 95h1v1h-1zM318 96h1v1h-1zM328 96h1v1h-1zM326 97h1v1h-1zM331 97h1v1h-1zM322 98h1v1h-1zM329 98h1v1h-1zM318 99h1v1h-1zM273 100h1v1h-1zM273 102h1v1h-1zM321 102h1v1h-1zM286 103h1v1h-1zM273 104h1v1h-1zM272 105h1v1h-1zM262 106h1v1h-1zM270 106h1v1h-1zM272 106h1v1h-1zM279 107h1v1h-1zM282 107h2v1h-2zM274 108h2v1h-2zM279 108h1v1h-1zM283 108h1v1h-1zM263 109h1v1h-1zM267 109h1v1h-1zM269 109h1v1h-1zM271 109h1v1h-1zM278 109h1v1h-1zM266 110h1v1h-1zM268 110h1v1h-1zM270 110h1v1h-1zM277 110h1v1h-1zM282 110h1v1h-1zM259 111h1v1h-1zM262 111h1v1h-1zM264 111h1v1h-1zM266 111h2v1h-2zM270 111h2v1h-2zM273 111h1v1h-1zM266 112h3v1h-3zM274 112h1v1h-1zM276 112h1v1h-1zM278 112h1v1h-1zM281 112h1v1h-1zM283 112h1v1h-1zM323 112h1v1h-1zM259 113h1v1h-1zM261 113h1v1h-1zM263 113h3v1h-3zM267 113h1v1h-1zM270 113h1v1h-1zM278 113h1v1h-1zM282 113h1v1h-1zM307 113h1v1h-1zM254 114h1v1h-1zM265 114h1v1h-1zM277 114h2v1h-2zM280 114h1v1h-1zM265 115h2v1h-2zM270 115h1v1h-1zM277 115h3v1h-3zM300 115h1v1h-1zM264 116h3v1h-3zM282 116h1v1h-1zM288 116h1v1h-1zM268 117h1v1h-1zM278 117h1v1h-1zM319 117h1v1h-1zM259 119h2v1h-2zM291 119h1v1h-1zM258 120h2v1h-2zM277 120h1v1h-1zM280 120h1v1h-1zM283 120h1v1h-1zM310 120h1v1h-1zM258 121h1v1h-1zM262 121h1v1h-1zM310 121h1v1h-1zM268 122h1v1h-1zM278 122h1v1h-1zM260 123h1v1h-1zM279 123h1v1h-1zM281 123h1v1h-1zM319 123h1v1h-1zM261 124h1v1h-1zM276 124h2v1h-2zM285 124h1v1h-1zM256 125h2v1h-2zM260 125h1v1h-1zM276 125h1v1h-1zM279 125h1v1h-1zM285 125h1v1h-1zM258 126h1v1h-1zM260 126h1v1h-1zM275 126h1v1h-1zM282 126h1v1h-1zM259 127h1v1h-1zM261 127h1v1h-1zM278 127h1v1h-1zM280 127h1v1h-1zM285 127h1v1h-1zM259 128h3v1h-3zM257 129h2v1h-2zM264 129h1v1h-1zM278 129h2v1h-2zM282 129h1v1h-1zM258 130h2v1h-2zM262 130h3v1h-3zM275 130h1v1h-1zM279 130h1v1h-1zM271 131h1v1h-1zM273 131h1v1h-1zM277 131h1v1h-1zM279 131h1v1h-1zM256 132h1v1h-1zM259 132h2v1h-2zM277 132h1v1h-1zM260 133h1v1h-1zM263 133h1v1h-1zM274 133h1v1h-1zM278 133h1v1h-1zM253 134h1v1h-1zM265 134h1v1h-1zM273 134h1v1h-1zM275 134h1v1h-1zM277 134h1v1h-1zM253 135h1v1h-1zM264 135h1v1h-1zM266 135h1v1h-1zM274 135h1v1h-1zM276 135h2v1h-2zM262 136h1v1h-1zM275 136h2v1h-2zM280 136h1v1h-1zM257 137h1v1h-1zM260 137h1v1h-1zM273 137h1v1h-1zM280 137h1v1h-1zM261 138h2v1h-2zM270 138h1v1h-1zM261 139h1v1h-1zM265 139h1v1h-1zM264 140h1v1h-1zM266 140h1v1h-1zM272 140h1v1h-1zM264 141h1v1h-1zM267 141h3v1h-3zM265 142h1v1h-1zM267 142h1v1h-1zM269 142h1v1h-1zM259 143h1v1h-1zM261 143h1v1h-1zM264 143h1v1h-1zM265 144h1v1h-1zM262 147h1v1h-1z"/>
<path fill="#ff0000" fill-opacity="1.0" filter="url(#bl)" d="M323 82h1v1h-1zM323 83h2v1h-2zM319 84h1v1h-1zM322 84h1v1h-1zM324 84h1v1h-1zM326 84h1v1h-1zM321 85h1v1h-1zM323 85h4v1h-4zM328 85h1v1h-1zM331 85h1v1h-1zM314 86h1v1h-1zM317 86h1v1h-1zM319 86h9v1h-9zM329 86h1v1h-1zM318 87h3v1h-3zM322 87h8v1h-8zM316 88h1v1h-1zM319 88h12v1h-12zM316 89h1v1h-1zM318 89h1v1h-1zM320 89h3v1h-3zM324 89h6v1h-6zM331 89h1v1h-1zM316 90h7v1h-7zM324 90h8v1h-8zM318 91h13v1h-13zM332 91h1v1h-1zM319 92h10v1h-10zM314 93h1v1h-1zM316 93h1v1h-1zM318 93h10v1h-10zM329 93h1v1h-1zM317 94h1v1h-1zM321 94h7v1h-7zM320 95h1v1h-1zM324 95h2v1h-2zM321 96h2v1h-2zM316 97h1v1h-1zM271 105h1v1h-1zM277 107h1v1h-1zM270 108h1v1h-1zM265 109h1v1h-1zM268 109h1v1h-1zM270 109h1v1h-1zM275 109h2v1h-2zM280 109h1v1h-1zM262 110h1v1h-1zM269 110h1v1h-1zM273 110h3v1h-3zM280 110h1v1h-1zM272 111h1v1h-1zM274 111h2v1h-2zM277 111h4v1h-4zM265 112h1v1h-1zM270 112h4v1h-4zM277 112h1v1h-1zM268 113h2v1h-2zM271 113h7v1h-7zM284 113h1v1h-1zM260 114h1v1h-1zM266 114h2v1h-2zM269 114h6v1h-6zM276 114h1v1h-1zM279 114h1v1h-1zM282 114h1v1h-1zM264 115h1v1h-1zM268 115h2v1h-2zM271 115h6v1h-6zM280 115h1v1h-1zM262 116h1v1h-1zM267 116h12v1h-12zM280 116h1v1h-1zM283 116h2v1h-2zM264 117h4v1h-4zM269 117h9v1h-9zM279 117h3v1h-3zM258 118h1v1h-1zM266 118h13v1h-13zM280 118h2v1h-2zM258 119h1v1h-1zM262 119h19v1h-19zM257 120h1v1h-1zM260 120h1v1h-1zM262 120h15v1h-15zM278 120h2v1h-2zM260 121h2v1h-2zM263 121h13v1h-13zM277 121h3v1h-3zM281 121h1v1h-1zM260 122h1v1h-1zM262 122h6v1h-6zM269 122h9v1h-9zM279 122h2v1h-2zM262 123h16v1h-16zM258 124h1v1h-1zM260 124h1v1h-1zM262 124h14v1h-14zM278 124h2v1h-2zM281 124h1v1h-1zM259 125h1v1h-1zM261 125h15v1h-15zM277 125h2v1h-2zM262 126h13v1h-13zM276 126h4v1h-4zM257 127h2v1h-2zM262 127h16v1h-16zM279 127h1v1h-1zM284 127h1v1h-1zM262 128h16v1h-16zM279 128h1v1h-1zM282 128h2v1h-2zM260 129h4v1h-4zM265 129h13v1h-13zM260 130h2v1h-2zM265 130h1v1h-1zM267 130h8v1h-8zM258 131h1v1h-1zM261 131h1v1h-1zM263 131h8v1h-8zM274 131h3v1h-3zM261 132h15v1h-15zM278 132h1v1h-1zM261 133h2v1h-2zM264 133h10v1h-10zM276 133h2v1h-2zM256 134h1v1h-1zM258 134h1v1h-1zM260 134h2v1h-2zM263 134h2v1h-2zM266 134h7v1h-7zM274 134h1v1h-1zM261 135h2v1h-2zM265 135h1v1h-1zM267 135h7v1h-7zM263 136h8v1h-8zM272 136h1v1h-1zM256 137h1v1h-1zM259 137h1v1h-1zM263 137h5v1h-5zM269 137h2v1h-2zM272 137h1v1h-1zM267 138h1v1h-1zM271 138h1v1h-1zM274 138h2v1h-2zM268 139h1v1h-1zM270 139h1v1h-1zM263 140h1v1h-1zM270 140h1v1h-1zM271 141h1v1h-1z"/>
<path fill="#b8b8b8" fill-opacity="0.55" filter="url(#bl)" d="M317 104h1.4v1.4h-1.4zM336 114h1.4v1.4h-1.4zM270 138h1.4v1.4h-1.4zM323 93h1.4v1.4h-1.4zM292 74h1.4v1.4h-1.4zM275 72h1.4v1.4h-1.4zM260 99h1.4v1.4h-1.4zM328 75h1.4v1.4h-1.4zM273 49h1.4v1.4h-1.4zM284 99h1.4v1.4h-1.4zM294 106h1.4v1.4h-1.4zM243 135h1.4v1.4h-1.4zM243 57h1.4v1.4h-1.4zM239 54h1.4v1.4h-1.4zM295 136h1.4v1.4h-1.4zM289 127h1.4v1.4h-1.4zM326 130h1.4v1.4h-1.4zM328 74h1.4v1.4h-1.4zM300 125h1.4v1.4h-1.4zM353 61h1.4v1.4h-1.4zM359 94h1.4v1.4h-1.4zM258 110h1.4v1.4h-1.4zM249 96h1.4v1.4h-1.4zM308 128h1.4v1.4h-1.4zM241 84h1.4v1.4h-1.4zM237 69h1.4v1.4h-1.4zM258 54h1.4v1.4h-1.4zM239 125h1.4v1.4h-1.4zM347 139h1.4v1.4h-1.4zM319 122h1.4v1.4h-1.4zM283 69h1.4v1.4h-1.4zM306 97h1.4v1.4h-1.4zM256 74h1.4v1.4h-1.4zM304 58h1.4v1.4h-1.4zM299 72h1.4v1.4h-1.4zM339 115h1.4v1.4h-1.4zM305 142h1.4v1.4h-1.4zM319 73h1.4v1.4h-1.4zM297 80h1.4v1.4h-1.4zM290 92h1.4v1.4h-1.4zM249 49h1.4v1.4h-1.4zM269 47h1.4v1.4h-1.4zM342 56h1.4v1.4h-1.4zM347 133h1.4v1.4h-1.4zM357 114h1.4v1.4h-1.4z"/>
<line x1="232.2" y1="98.5" x2="362.6" y2="98.5" stroke="#666" stroke-width="1"/>
<line x1="295.5" y1="33.8" x2="295.5" y2="156.6" stroke="#666" stroke-width="1"/>
<rect x="232.2" y="33.8" width="130.4" height="122.8" fill="none" stroke="#1a1a1a" stroke-width="1.3"/>
<path d="M228.6 33.8H232.2M229.8 38.2H232.2M229.8 42.6H232.2M229.8 47.0H232.2M229.8 51.3H232.2M229.8 55.7H232.2M229.8 60.1H232.2M232.2 156.6v3.0M235.8 156.6v1.9M239.4 156.6v1.9M243.1 156.6v1.9M246.7 156.6v1.9M250.3 156.6v1.9M253.9 156.6v1.9M257.6 156.6v1.9M261.2 156.6v1.9M228.6 64.5H232.2M229.8 68.9H232.2M229.8 73.3H232.2M229.8 77.7H232.2M229.8 82.0H232.2M229.8 86.4H232.2M229.8 90.8H232.2M264.8 156.6v3.0M268.4 156.6v1.9M272.0 156.6v1.9M275.7 156.6v1.9M279.3 156.6v1.9M282.9 156.6v1.9M286.5 156.6v1.9M290.2 156.6v1.9M293.8 156.6v1.9M228.6 95.2H232.2M229.8 99.6H232.2M229.8 104.0H232.2M229.8 108.4H232.2M229.8 112.7H232.2M229.8 117.1H232.2M229.8 121.5H232.2M297.4 156.6v3.0M301.0 156.6v1.9M304.6 156.6v1.9M308.3 156.6v1.9M311.9 156.6v1.9M315.5 156.6v1.9M319.1 156.6v1.9M322.8 156.6v1.9M326.4 156.6v1.9M228.6 125.9H232.2M229.8 130.3H232.2M229.8 134.7H232.2M229.8 139.1H232.2M229.8 143.4H232.2M229.8 147.8H232.2M229.8 152.2H232.2M330.0 156.6v3.0M333.6 156.6v1.9M337.2 156.6v1.9M340.9 156.6v1.9M344.5 156.6v1.9M348.1 156.6v1.9M351.7 156.6v1.9M355.4 156.6v1.9M359.0 156.6v1.9M228.6 156.6H232.2M362.6 156.6v3" stroke="#333" stroke-width="0.9" fill="none"/>
<text x="228.8" y="35.9" font-size="5.9" font-family="Liberation Sans" fill="#3c3c3c" text-anchor="end">10<tspan font-size="3.5" dy="-2.6">4</tspan></text>
<text x="231.2" y="165.8" font-size="5.9" font-family="Liberation Sans" fill="#3c3c3c">10<tspan font-size="3.5" dy="-2.6">0</tspan></text>
<text x="228.8" y="66.6" font-size="5.9" font-family="Liberation Sans" fill="#3c3c3c" text-anchor="end">10<tspan font-size="3.5" dy="-2.6">3</tspan></text>
<text x="263.8" y="165.8" font-size="5.9" font-family="Liberation Sans" fill="#3c3c3c">10<tspan font-size="3.5" dy="-2.6">1</tspan></text>
<text x="228.8" y="97.3" font-size="5.9" font-family="Liberation Sans" fill="#3c3c3c" text-anchor="end">10<tspan font-size="3.5" dy="-2.6">2</tspan></text>
<text x="296.4" y="165.8" font-size="5.9" font-family="Liberation Sans" fill="#3c3c3c">10<tspan font-size="3.5" dy="-2.6">2</tspan></text>
<text x="228.8" y="128.0" font-size="5.9" font-family="Liberation Sans" fill="#3c3c3c" text-anchor="end">10<tspan font-size="3.5" dy="-2.6">1</tspan></text>
<text x="329.0" y="165.8" font-size="5.9" font-family="Liberation Sans" fill="#3c3c3c">10<tspan font-size="3.5" dy="-2.6">3</tspan></text>
<text x="228.8" y="158.7" font-size="5.9" font-family="Liberation Sans" fill="#3c3c3c" text-anchor="end">10<tspan font-size="3.5" dy="-2.6">0</tspan></text>
<text x="361.6" y="165.8" font-size="5.9" font-family="Liberation Sans" fill="#3c3c3c">10<tspan font-size="3.5" dy="-2.6">4</tspan></text>
<text x="235.2" y="43.4" font-size="7.5" font-family="Liberation Sans" font-weight="bold" fill="#333" text-anchor="start" textLength="17.3" lengthAdjust="spacingAndGlyphs" >0.5%</text>
<text x="360.3" y="43.4" font-size="7.5" font-family="Liberation Sans" font-weight="bold" fill="#333" text-anchor="end" textLength="21.5" lengthAdjust="spacingAndGlyphs" >28.2%</text>
<text x="234.2" y="153.7" font-size="7.5" font-family="Liberation Sans" font-weight="bold" fill="#333" text-anchor="start" textLength="21.5" lengthAdjust="spacingAndGlyphs" >63.7%</text>
<text x="360.3" y="153.7" font-size="7.5" font-family="Liberation Sans" font-weight="bold" fill="#333" text-anchor="end" textLength="17.3" lengthAdjust="spacingAndGlyphs" >7.6%</text>
<text x="318.4" y="180.2" font-size="14.2" font-family="Liberation Serif" font-weight="bold" fill="#000" text-anchor="middle" textLength="32.5" lengthAdjust="spacingAndGlyphs" >MAN</text>
<path fill="#e8183c" fill-opacity="0.6" filter="url(#bl)" d="M486 50h1v1h-1zM495 53h1v1h-1zM433 57h1v1h-1zM440 57h1v1h-1zM478 57h1v1h-1zM468 58h1v1h-1zM468 59h1v1h-1zM420 61h1v1h-1zM482 61h1v1h-1zM485 61h1v1h-1zM429 62h1v1h-1zM471 62h2v1h-2zM474 62h1v1h-1zM488 62h1v1h-1zM496 62h1v1h-1zM473 63h1v1h-1zM487 63h1v1h-1zM464 64h1v1h-1zM467 64h1v1h-1zM479 64h1v1h-1zM418 65h1v1h-1zM460 66h1v1h-1zM463 66h1v1h-1zM468 66h1v1h-1zM470 66h1v1h-1zM474 66h1v1h-1zM478 66h1v1h-1zM488 66h1v1h-1zM500 66h1v1h-1zM455 67h1v1h-1zM457 67h1v1h-1zM484 67h1v1h-1zM492 67h1v1h-1zM486 68h1v1h-1zM452 69h1v1h-1zM485 69h1v1h-1zM489 69h1v1h-1zM491 69h1v1h-1zM497 69h1v1h-1zM450 70h1v1h-1zM454 70h1v1h-1zM465 70h1v1h-1zM474 70h1v1h-1zM482 70h1v1h-1zM487 70h1v1h-1zM491 70h1v1h-1zM466 71h1v1h-1zM468 71h2v1h-2zM489 71h1v1h-1zM500 71h1v1h-1zM468 72h1v1h-1zM480 72h1v1h-1zM491 72h1v1h-1zM501 72h1v1h-1zM469 73h1v1h-1zM481 73h1v1h-1zM486 73h1v1h-1zM470 74h1v1h-1zM477 74h1v1h-1zM481 74h2v1h-2zM496 74h1v1h-1zM452 75h1v1h-1zM473 75h1v1h-1zM475 75h2v1h-2zM478 75h1v1h-1zM481 75h1v1h-1zM484 75h1v1h-1zM493 75h1v1h-1zM498 75h1v1h-1zM501 75h1v1h-1zM455 76h1v1h-1zM469 76h1v1h-1zM476 76h1v1h-1zM478 76h1v1h-1zM480 76h1v1h-1zM490 76h1v1h-1zM463 77h1v1h-1zM466 77h1v1h-1zM472 77h1v1h-1zM474 77h1v1h-1zM476 77h1v1h-1zM487 77h1v1h-1zM495 77h1v1h-1zM471 78h2v1h-2zM474 78h1v1h-1zM477 78h1v1h-1zM482 78h1v1h-1zM484 78h1v1h-1zM489 78h1v1h-1zM405 79h1v1h-1zM467 79h1v1h-1zM474 79h1v1h-1zM478 79h1v1h-1zM487 79h1v1h-1zM492 79h1v1h-1zM463 80h1v1h-1zM468 80h2v1h-2zM474 80h1v1h-1zM477 80h1v1h-1zM484 80h1v1h-1zM491 80h1v1h-1zM493 80h1v1h-1zM463 81h1v1h-1zM466 81h3v1h-3zM481 81h2v1h-2zM488 81h1v1h-1zM491 81h1v1h-1zM494 81h3v1h-3zM474 82h1v1h-1zM424 83h1v1h-1zM458 83h1v1h-1zM468 83h1v1h-1zM476 83h1v1h-1zM479 83h1v1h-1zM488 83h1v1h-1zM493 83h1v1h-1zM426 84h1v1h-1zM458 84h1v1h-1zM460 84h1v1h-1zM469 84h1v1h-1zM472 84h1v1h-1zM477 84h1v1h-1zM480 84h1v1h-1zM470 85h1v1h-1zM481 85h1v1h-1zM485 85h1v1h-1zM487 85h3v1h-3zM495 85h1v1h-1zM461 86h1v1h-1zM475 86h1v1h-1zM477 86h1v1h-1zM484 86h1v1h-1zM487 86h1v1h-1zM490 86h1v1h-1zM432 87h1v1h-1zM461 87h1v1h-1zM465 87h1v1h-1zM468 87h1v1h-1zM474 87h1v1h-1zM476 87h2v1h-2zM481 87h1v1h-1zM492 87h1v1h-1zM459 88h1v1h-1zM461 88h2v1h-2zM470 88h1v1h-1zM472 88h1v1h-1zM477 88h1v1h-1zM479 88h2v1h-2zM483 88h2v1h-2zM489 88h1v1h-1zM505 88h1v1h-1zM407 89h1v1h-1zM465 89h1v1h-1zM501 89h2v1h-2zM428 90h1v1h-1zM460 90h1v1h-1zM463 90h1v1h-1zM465 90h3v1h-3zM469 90h1v1h-1zM476 90h1v1h-1zM480 90h1v1h-1zM486 90h1v1h-1zM494 90h1v1h-1zM413 91h1v1h-1zM424 91h1v1h-1zM463 91h2v1h-2zM471 91h1v1h-1zM474 91h1v1h-1zM485 91h1v1h-1zM488 91h1v1h-1zM492 91h1v1h-1zM406 92h1v1h-1zM458 92h1v1h-1zM464 92h1v1h-1zM468 92h2v1h-2zM473 92h2v1h-2zM479 92h1v1h-1zM485 92h1v1h-1zM495 92h1v1h-1zM460 93h1v1h-1zM462 93h1v1h-1zM471 93h2v1h-2zM474 93h1v1h-1zM477 93h1v1h-1zM479 93h1v1h-1zM499 93h1v1h-1zM419 94h1v1h-1zM463 94h1v1h-1zM469 94h1v1h-1zM478 94h2v1h-2zM494 94h1v1h-1zM412 95h1v1h-1zM464 95h2v1h-2zM472 95h1v1h-1zM474 95h1v1h-1zM483 95h1v1h-1zM492 95h1v1h-1zM414 96h1v1h-1zM433 96h1v1h-1zM466 96h1v1h-1zM478 96h2v1h-2zM481 96h1v1h-1zM487 96h1v1h-1zM407 97h1v1h-1zM420 97h1v1h-1zM464 97h1v1h-1zM466 97h1v1h-1zM469 97h2v1h-2zM474 97h1v1h-1zM484 97h1v1h-1zM486 97h1v1h-1zM511 97h1v1h-1zM462 98h1v1h-1zM470 98h1v1h-1zM472 98h1v1h-1zM480 98h1v1h-1zM486 98h1v1h-1zM491 98h1v1h-1zM453 99h1v1h-1zM455 99h1v1h-1zM464 99h1v1h-1zM468 99h1v1h-1zM474 99h1v1h-1zM476 99h1v1h-1zM478 99h1v1h-1zM484 99h1v1h-1zM486 99h1v1h-1zM499 99h1v1h-1zM503 99h1v1h-1zM422 100h1v1h-1zM435 100h1v1h-1zM448 100h1v1h-1zM459 100h1v1h-1zM469 100h1v1h-1zM471 100h1v1h-1zM480 100h1v1h-1zM490 100h1v1h-1zM494 100h1v1h-1zM497 100h1v1h-1zM432 101h1v1h-1zM474 101h1v1h-1zM483 101h2v1h-2zM488 101h1v1h-1zM503 101h1v1h-1zM410 102h1v1h-1zM422 102h2v1h-2zM433 102h1v1h-1zM439 102h1v1h-1zM443 102h1v1h-1zM468 102h1v1h-1zM478 102h1v1h-1zM486 102h1v1h-1zM490 102h1v1h-1zM493 102h1v1h-1zM496 102h1v1h-1zM399 103h1v1h-1zM404 103h1v1h-1zM413 103h1v1h-1zM423 103h1v1h-1zM430 103h1v1h-1zM436 103h2v1h-2zM439 103h1v1h-1zM452 103h1v1h-1zM461 103h1v1h-1zM478 103h1v1h-1zM482 103h3v1h-3zM405 104h1v1h-1zM413 104h1v1h-1zM416 104h3v1h-3zM421 104h1v1h-1zM425 104h2v1h-2zM458 104h1v1h-1zM465 104h1v1h-1zM395 105h1v1h-1zM398 105h1v1h-1zM402 105h1v1h-1zM404 105h1v1h-1zM410 105h1v1h-1zM416 105h1v1h-1zM420 105h1v1h-1zM423 105h1v1h-1zM426 105h2v1h-2zM429 105h1v1h-1zM443 105h1v1h-1zM457 105h1v1h-1zM464 105h1v1h-1zM467 105h1v1h-1zM396 106h1v1h-1zM420 106h1v1h-1zM423 106h2v1h-2zM429 106h2v1h-2zM435 106h1v1h-1zM440 106h1v1h-1zM470 106h1v1h-1zM472 106h1v1h-1zM482 106h1v1h-1zM414 107h1v1h-1zM418 107h1v1h-1zM420 107h2v1h-2zM423 107h1v1h-1zM426 107h2v1h-2zM430 107h2v1h-2zM435 107h2v1h-2zM441 107h2v1h-2zM453 107h1v1h-1zM467 107h1v1h-1zM471 107h1v1h-1zM487 107h1v1h-1zM400 108h1v1h-1zM402 108h2v1h-2zM419 108h1v1h-1zM423 108h1v1h-1zM431 108h1v1h-1zM434 108h2v1h-2zM439 108h2v1h-2zM442 108h1v1h-1zM448 108h1v1h-1zM396 109h1v1h-1zM410 109h1v1h-1zM412 109h1v1h-1zM416 109h1v1h-1zM419 109h2v1h-2zM424 109h2v1h-2zM428 109h1v1h-1zM434 109h1v1h-1zM439 109h2v1h-2zM442 109h1v1h-1zM473 109h1v1h-1zM475 109h1v1h-1zM477 109h1v1h-1zM487 109h1v1h-1zM396 110h1v1h-1zM400 110h1v1h-1zM411 110h1v1h-1zM415 110h1v1h-1zM417 110h1v1h-1zM421 110h1v1h-1zM424 110h1v1h-1zM428 110h1v1h-1zM430 110h2v1h-2zM434 110h2v1h-2zM437 110h4v1h-4zM443 110h1v1h-1zM470 110h1v1h-1zM396 111h1v1h-1zM399 111h1v1h-1zM407 111h1v1h-1zM410 111h1v1h-1zM413 111h1v1h-1zM418 111h1v1h-1zM421 111h1v1h-1zM430 111h1v1h-1zM433 111h1v1h-1zM435 111h2v1h-2zM439 111h1v1h-1zM442 111h1v1h-1zM453 111h1v1h-1zM456 111h1v1h-1zM470 111h1v1h-1zM475 111h2v1h-2zM480 111h1v1h-1zM490 111h1v1h-1zM399 112h1v1h-1zM402 112h1v1h-1zM408 112h1v1h-1zM413 112h3v1h-3zM419 112h1v1h-1zM426 112h1v1h-1zM435 112h1v1h-1zM437 112h1v1h-1zM439 112h1v1h-1zM441 112h1v1h-1zM453 112h1v1h-1zM463 112h1v1h-1zM469 112h1v1h-1zM475 112h1v1h-1zM481 112h1v1h-1zM396 113h1v1h-1zM401 113h1v1h-1zM406 113h1v1h-1zM408 113h2v1h-2zM411 113h2v1h-2zM414 113h4v1h-4zM433 113h1v1h-1zM437 113h1v1h-1zM440 113h1v1h-1zM442 113h2v1h-2zM494 113h1v1h-1zM496 113h1v1h-1zM402 114h1v1h-1zM413 114h1v1h-1zM416 114h1v1h-1zM420 114h1v1h-1zM434 114h3v1h-3zM443 114h1v1h-1zM455 114h1v1h-1zM472 114h1v1h-1zM488 114h1v1h-1zM388 115h1v1h-1zM404 115h2v1h-2zM407 115h3v1h-3zM412 115h2v1h-2zM417 115h1v1h-1zM433 115h1v1h-1zM436 115h1v1h-1zM440 115h1v1h-1zM447 115h1v1h-1zM453 115h1v1h-1zM504 115h1v1h-1zM410 116h3v1h-3zM416 116h2v1h-2zM434 116h3v1h-3zM466 116h1v1h-1zM473 116h1v1h-1zM392 117h1v1h-1zM399 117h1v1h-1zM406 117h2v1h-2zM410 117h1v1h-1zM412 117h1v1h-1zM432 117h1v1h-1zM439 117h3v1h-3zM448 117h1v1h-1zM473 117h1v1h-1zM480 117h1v1h-1zM409 118h1v1h-1zM434 118h1v1h-1zM436 118h1v1h-1zM438 118h3v1h-3zM454 118h1v1h-1zM457 118h1v1h-1zM491 118h2v1h-2zM410 119h1v1h-1zM413 119h2v1h-2zM435 119h1v1h-1zM439 119h4v1h-4zM446 119h1v1h-1zM480 119h1v1h-1zM401 120h1v1h-1zM411 120h3v1h-3zM433 120h1v1h-1zM435 120h1v1h-1zM438 120h2v1h-2zM460 120h1v1h-1zM462 120h1v1h-1zM385 121h1v1h-1zM399 121h1v1h-1zM407 121h1v1h-1zM410 121h1v1h-1zM436 121h2v1h-2zM439 121h1v1h-1zM441 121h1v1h-1zM453 121h1v1h-1zM486 121h1v1h-1zM489 121h1v1h-1zM398 122h1v1h-1zM401 122h1v1h-1zM403 122h1v1h-1zM405 122h1v1h-1zM407 122h1v1h-1zM413 122h1v1h-1zM437 122h2v1h-2zM442 122h4v1h-4zM455 122h2v1h-2zM460 122h1v1h-1zM401 123h1v1h-1zM405 123h1v1h-1zM408 123h1v1h-1zM412 123h1v1h-1zM435 123h2v1h-2zM438 123h2v1h-2zM441 123h3v1h-3zM465 123h1v1h-1zM470 123h1v1h-1zM408 124h2v1h-2zM412 124h1v1h-1zM436 124h1v1h-1zM438 124h1v1h-1zM446 124h1v1h-1zM451 124h3v1h-3zM397 125h1v1h-1zM407 125h1v1h-1zM434 125h1v1h-1zM443 125h1v1h-1zM456 125h1v1h-1zM463 125h2v1h-2zM398 126h1v1h-1zM401 126h1v1h-1zM403 126h2v1h-2zM409 126h1v1h-1zM411 126h3v1h-3zM432 126h1v1h-1zM499 126h1v1h-1zM401 127h1v1h-1zM408 127h1v1h-1zM433 127h2v1h-2zM439 127h1v1h-1zM475 127h1v1h-1zM484 127h1v1h-1zM405 128h1v1h-1zM407 128h2v1h-2zM410 128h1v1h-1zM432 128h1v1h-1zM435 128h2v1h-2zM442 128h1v1h-1zM452 128h1v1h-1zM474 128h1v1h-1zM478 128h1v1h-1zM501 128h1v1h-1zM403 129h1v1h-1zM407 129h1v1h-1zM410 129h1v1h-1zM429 129h1v1h-1zM447 129h1v1h-1zM466 129h1v1h-1zM473 129h1v1h-1zM477 129h1v1h-1zM482 129h1v1h-1zM401 130h2v1h-2zM405 130h2v1h-2zM411 130h1v1h-1zM430 130h1v1h-1zM433 130h1v1h-1zM435 130h1v1h-1zM459 130h1v1h-1zM481 130h1v1h-1zM390 131h1v1h-1zM402 131h1v1h-1zM406 131h4v1h-4zM411 131h2v1h-2zM427 131h1v1h-1zM430 131h2v1h-2zM435 131h1v1h-1zM438 131h1v1h-1zM454 131h1v1h-1zM463 131h2v1h-2zM492 131h1v1h-1zM403 132h2v1h-2zM406 132h3v1h-3zM410 132h1v1h-1zM413 132h1v1h-1zM432 132h1v1h-1zM435 132h1v1h-1zM440 132h1v1h-1zM442 132h1v1h-1zM448 132h1v1h-1zM451 132h1v1h-1zM456 132h1v1h-1zM477 132h1v1h-1zM400 133h1v1h-1zM406 133h1v1h-1zM409 133h3v1h-3zM424 133h1v1h-1zM428 133h1v1h-1zM433 133h2v1h-2zM442 133h1v1h-1zM444 133h1v1h-1zM404 134h1v1h-1zM408 134h1v1h-1zM410 134h1v1h-1zM413 134h1v1h-1zM417 134h1v1h-1zM421 134h1v1h-1zM426 134h5v1h-5zM432 134h1v1h-1zM434 134h1v1h-1zM454 134h1v1h-1zM456 134h1v1h-1zM484 134h1v1h-1zM398 135h1v1h-1zM404 135h1v1h-1zM406 135h1v1h-1zM411 135h1v1h-1zM414 135h1v1h-1zM418 135h1v1h-1zM422 135h1v1h-1zM426 135h1v1h-1zM430 135h1v1h-1zM436 135h1v1h-1zM441 135h1v1h-1zM447 135h1v1h-1zM464 135h1v1h-1zM400 136h1v1h-1zM406 136h1v1h-1zM408 136h1v1h-1zM419 136h1v1h-1zM421 136h4v1h-4zM427 136h4v1h-4zM439 136h1v1h-1zM443 136h1v1h-1zM457 136h1v1h-1zM462 136h1v1h-1zM466 136h1v1h-1zM398 137h1v1h-1zM407 137h1v1h-1zM410 137h1v1h-1zM419 137h1v1h-1zM425 137h1v1h-1zM430 137h1v1h-1zM455 137h1v1h-1zM471 137h1v1h-1zM485 137h1v1h-1zM415 138h1v1h-1zM417 138h3v1h-3zM440 138h1v1h-1zM448 138h1v1h-1zM467 138h1v1h-1zM470 138h1v1h-1zM483 138h1v1h-1zM409 139h1v1h-1zM412 139h2v1h-2zM416 139h1v1h-1zM419 139h1v1h-1zM427 139h2v1h-2zM431 139h1v1h-1zM437 139h1v1h-1zM445 139h1v1h-1zM453 139h1v1h-1zM459 139h1v1h-1zM474 139h1v1h-1zM476 139h1v1h-1zM480 139h1v1h-1zM492 139h1v1h-1zM411 140h1v1h-1zM415 140h2v1h-2zM418 140h1v1h-1zM420 140h1v1h-1zM425 140h1v1h-1zM437 140h1v1h-1zM465 140h1v1h-1zM469 140h1v1h-1zM416 141h1v1h-1zM433 141h2v1h-2zM441 141h1v1h-1zM480 141h1v1h-1zM418 142h1v1h-1zM421 142h1v1h-1zM430 142h2v1h-2zM439 142h1v1h-1zM462 142h1v1h-1zM412 143h1v1h-1zM424 143h1v1h-1zM432 143h1v1h-1zM452 143h1v1h-1zM469 143h1v1h-1zM485 143h1v1h-1zM416 144h2v1h-2zM424 144h1v1h-1zM428 144h1v1h-1zM434 144h1v1h-1zM439 144h1v1h-1zM445 144h1v1h-1zM481 144h1v1h-1zM488 144h1v1h-1zM409 145h1v1h-1zM413 145h2v1h-2zM421 145h1v1h-1zM463 145h1v1h-1zM467 145h1v1h-1zM474 145h1v1h-1zM487 145h1v1h-1zM401 146h1v1h-1zM410 146h1v1h-1zM413 146h1v1h-1zM419 146h1v1h-1zM421 146h1v1h-1zM423 146h1v1h-1zM454 146h1v1h-1zM487 146h1v1h-1zM490 146h1v1h-1zM403 147h1v1h-1zM434 147h1v1h-1zM500 147h1v1h-1zM422 148h1v1h-1zM452 148h1v1h-1zM458 149h1v1h-1zM411 150h1v1h-1zM425 150h1v1h-1zM430 150h1v1h-1zM408 151h1v1h-1zM414 151h1v1h-1zM397 152h1v1h-1zM423 152h1v1h-1zM427 152h1v1h-1zM433 152h1v1h-1zM435 153h2v1h-2zM408 155h1v1h-1zM427 155h1v1h-1z"/>
<path fill="#ff0000" fill-opacity="0.85" filter="url(#bl)" d="M470 63h1v1h-1zM479 77h1v1h-1zM471 79h1v1h-1zM476 80h1v1h-1zM475 81h1v1h-1zM477 81h1v1h-1zM486 82h1v1h-1zM492 85h1v1h-1zM483 86h1v1h-1zM467 88h1v1h-1zM476 91h1v1h-1zM478 91h1v1h-1zM481 91h1v1h-1zM475 92h1v1h-1zM466 94h1v1h-1zM484 94h1v1h-1zM478 97h1v1h-1zM426 98h1v1h-1zM482 101h1v1h-1zM418 102h1v1h-1zM471 102h1v1h-1zM428 103h1v1h-1zM432 104h1v1h-1zM466 104h1v1h-1zM415 105h1v1h-1zM432 105h1v1h-1zM437 105h1v1h-1zM422 106h1v1h-1zM426 106h1v1h-1zM473 106h1v1h-1zM478 106h1v1h-1zM415 107h1v1h-1zM422 107h1v1h-1zM433 107h1v1h-1zM485 107h1v1h-1zM414 108h1v1h-1zM421 108h1v1h-1zM425 108h2v1h-2zM433 108h1v1h-1zM418 109h1v1h-1zM421 109h3v1h-3zM435 109h1v1h-1zM456 109h1v1h-1zM410 110h1v1h-1zM423 110h1v1h-1zM426 110h2v1h-2zM429 110h1v1h-1zM432 110h2v1h-2zM492 110h1v1h-1zM406 111h1v1h-1zM424 111h1v1h-1zM426 111h1v1h-1zM428 111h2v1h-2zM438 111h1v1h-1zM416 112h1v1h-1zM418 112h1v1h-1zM428 112h3v1h-3zM432 112h1v1h-1zM434 112h1v1h-1zM436 112h1v1h-1zM413 113h1v1h-1zM418 113h2v1h-2zM422 113h1v1h-1zM427 113h1v1h-1zM429 113h1v1h-1zM435 113h1v1h-1zM438 113h1v1h-1zM441 113h1v1h-1zM411 114h2v1h-2zM414 114h1v1h-1zM432 114h1v1h-1zM437 114h1v1h-1zM410 115h1v1h-1zM415 115h2v1h-2zM419 115h1v1h-1zM427 115h1v1h-1zM437 115h1v1h-1zM439 115h1v1h-1zM408 116h1v1h-1zM422 116h1v1h-1zM401 117h1v1h-1zM415 117h1v1h-1zM417 117h1v1h-1zM437 117h1v1h-1zM412 118h1v1h-1zM411 119h2v1h-2zM415 119h2v1h-2zM433 119h1v1h-1zM415 120h1v1h-1zM436 120h2v1h-2zM408 121h2v1h-2zM412 121h1v1h-1zM435 121h1v1h-1zM470 121h1v1h-1zM400 122h1v1h-1zM409 122h3v1h-3zM435 122h2v1h-2zM420 123h1v1h-1zM433 123h1v1h-1zM406 124h1v1h-1zM410 124h1v1h-1zM413 124h1v1h-1zM416 124h1v1h-1zM433 124h1v1h-1zM440 124h1v1h-1zM416 125h1v1h-1zM433 125h1v1h-1zM435 125h3v1h-3zM408 126h1v1h-1zM410 126h1v1h-1zM434 126h2v1h-2zM409 127h1v1h-1zM427 127h1v1h-1zM437 127h1v1h-1zM409 128h1v1h-1zM412 128h1v1h-1zM433 128h1v1h-1zM439 128h1v1h-1zM405 129h1v1h-1zM412 129h1v1h-1zM430 129h2v1h-2zM409 130h1v1h-1zM416 130h1v1h-1zM423 130h1v1h-1zM428 130h2v1h-2zM431 130h1v1h-1zM410 131h1v1h-1zM429 131h1v1h-1zM432 131h1v1h-1zM405 132h1v1h-1zM409 132h1v1h-1zM412 132h1v1h-1zM416 132h1v1h-1zM420 132h1v1h-1zM422 132h1v1h-1zM425 132h3v1h-3zM429 132h1v1h-1zM407 133h1v1h-1zM414 133h1v1h-1zM419 133h1v1h-1zM422 133h1v1h-1zM430 133h2v1h-2zM435 133h1v1h-1zM412 134h1v1h-1zM414 134h1v1h-1zM416 134h1v1h-1zM418 134h1v1h-1zM424 134h1v1h-1zM431 134h1v1h-1zM433 134h1v1h-1zM409 135h1v1h-1zM413 135h1v1h-1zM417 135h1v1h-1zM420 135h1v1h-1zM428 135h1v1h-1zM432 135h1v1h-1zM435 135h1v1h-1zM490 135h1v1h-1zM413 136h2v1h-2zM425 136h1v1h-1zM414 137h1v1h-1zM417 137h1v1h-1zM420 137h1v1h-1zM422 137h1v1h-1zM427 137h1v1h-1zM424 138h1v1h-1zM410 139h1v1h-1zM418 139h1v1h-1zM421 139h1v1h-1zM423 139h1v1h-1zM425 139h1v1h-1zM414 140h1v1h-1zM419 140h1v1h-1zM422 140h2v1h-2zM427 140h1v1h-1zM415 141h1v1h-1zM422 141h1v1h-1zM430 141h1v1h-1zM420 142h1v1h-1zM423 142h1v1h-1zM427 142h1v1h-1zM414 143h1v1h-1zM424 145h1v1h-1zM432 145h1v1h-1zM412 146h1v1h-1z"/>
<path fill="#ff0000" fill-opacity="1.0" filter="url(#bl)" d="M469 79h1v1h-1zM472 83h1v1h-1zM479 84h1v1h-1zM475 85h1v1h-1zM431 106h1v1h-1zM425 107h1v1h-1zM417 108h1v1h-1zM424 108h1v1h-1zM428 108h1v1h-1zM430 108h1v1h-1zM432 108h1v1h-1zM430 109h3v1h-3zM437 109h1v1h-1zM422 110h1v1h-1zM425 110h1v1h-1zM420 111h1v1h-1zM422 111h1v1h-1zM425 111h1v1h-1zM427 111h1v1h-1zM431 111h2v1h-2zM417 112h1v1h-1zM421 112h3v1h-3zM425 112h1v1h-1zM427 112h1v1h-1zM431 112h1v1h-1zM433 112h1v1h-1zM420 113h2v1h-2zM423 113h4v1h-4zM428 113h1v1h-1zM430 113h1v1h-1zM432 113h1v1h-1zM410 114h1v1h-1zM417 114h3v1h-3zM421 114h11v1h-11zM433 114h1v1h-1zM418 115h1v1h-1zM420 115h7v1h-7zM428 115h5v1h-5zM435 115h1v1h-1zM415 116h1v1h-1zM418 116h4v1h-4zM423 116h11v1h-11zM416 117h1v1h-1zM418 117h14v1h-14zM433 117h3v1h-3zM413 118h21v1h-21zM435 118h1v1h-1zM417 119h16v1h-16zM434 119h1v1h-1zM437 119h1v1h-1zM409 120h2v1h-2zM414 120h1v1h-1zM416 120h17v1h-17zM434 120h1v1h-1zM411 121h1v1h-1zM414 121h21v1h-21zM408 122h1v1h-1zM414 122h21v1h-21zM406 123h2v1h-2zM409 123h2v1h-2zM413 123h7v1h-7zM421 123h12v1h-12zM434 123h1v1h-1zM437 123h1v1h-1zM411 124h1v1h-1zM414 124h2v1h-2zM417 124h15v1h-15zM434 124h1v1h-1zM410 125h6v1h-6zM417 125h16v1h-16zM407 126h1v1h-1zM414 126h18v1h-18zM433 126h1v1h-1zM411 127h16v1h-16zM428 127h5v1h-5zM413 128h12v1h-12zM426 128h6v1h-6zM411 129h1v1h-1zM413 129h8v1h-8zM422 129h7v1h-7zM432 129h1v1h-1zM434 129h1v1h-1zM412 130h4v1h-4zM417 130h6v1h-6zM424 130h4v1h-4zM432 130h1v1h-1zM413 131h14v1h-14zM428 131h1v1h-1zM433 131h1v1h-1zM414 132h2v1h-2zM417 132h3v1h-3zM421 132h1v1h-1zM423 132h2v1h-2zM413 133h1v1h-1zM415 133h4v1h-4zM420 133h2v1h-2zM423 133h1v1h-1zM425 133h3v1h-3zM409 134h1v1h-1zM415 134h1v1h-1zM419 134h2v1h-2zM422 134h2v1h-2zM425 134h1v1h-1zM412 135h1v1h-1zM415 135h2v1h-2zM421 135h1v1h-1zM423 135h1v1h-1zM411 136h1v1h-1zM415 136h1v1h-1zM417 136h1v1h-1zM424 137h1v1h-1zM417 139h1v1h-1zM420 139h1v1h-1z"/>
<path fill="#b8b8b8" fill-opacity="0.55" filter="url(#bl)" d="M422 96h1.4v1.4h-1.4zM434 67h1.4v1.4h-1.4zM431 55h1.4v1.4h-1.4zM431 84h1.4v1.4h-1.4zM387 89h1.4v1.4h-1.4zM504 126h1.4v1.4h-1.4zM404 91h1.4v1.4h-1.4zM451 60h1.4v1.4h-1.4zM502 111h1.4v1.4h-1.4zM504 92h1.4v1.4h-1.4zM484 134h1.4v1.4h-1.4zM430 112h1.4v1.4h-1.4zM434 54h1.4v1.4h-1.4zM467 52h1.4v1.4h-1.4zM472 134h1.4v1.4h-1.4zM481 68h1.4v1.4h-1.4zM506 106h1.4v1.4h-1.4zM387 131h1.4v1.4h-1.4zM472 76h1.4v1.4h-1.4zM429 67h1.4v1.4h-1.4zM478 135h1.4v1.4h-1.4zM406 53h1.4v1.4h-1.4zM403 50h1.4v1.4h-1.4zM450 117h1.4v1.4h-1.4zM438 98h1.4v1.4h-1.4zM458 64h1.4v1.4h-1.4zM491 63h1.4v1.4h-1.4zM392 54h1.4v1.4h-1.4zM484 78h1.4v1.4h-1.4zM430 54h1.4v1.4h-1.4zM462 123h1.4v1.4h-1.4zM455 126h1.4v1.4h-1.4zM390 69h1.4v1.4h-1.4zM403 63h1.4v1.4h-1.4zM485 100h1.4v1.4h-1.4zM400 124h1.4v1.4h-1.4zM481 109h1.4v1.4h-1.4zM459 129h1.4v1.4h-1.4zM416 50h1.4v1.4h-1.4zM452 92h1.4v1.4h-1.4zM477 117h1.4v1.4h-1.4zM410 124h1.4v1.4h-1.4zM446 103h1.4v1.4h-1.4zM410 102h1.4v1.4h-1.4zM408 113h1.4v1.4h-1.4z"/>
<line x1="384.1" y1="98.5" x2="515.3" y2="98.5" stroke="#666" stroke-width="1"/>
<line x1="448.5" y1="33.8" x2="448.5" y2="156.3" stroke="#666" stroke-width="1"/>
<rect x="384.1" y="33.8" width="131.2" height="122.5" fill="none" stroke="#1a1a1a" stroke-width="1.3"/>
<path d="M380.5 33.8H384.1M381.7 38.2H384.1M381.7 42.5H384.1M381.7 46.9H384.1M381.7 51.3H384.1M381.7 55.7H384.1M381.7 60.0H384.1M384.1 156.3v3.0M387.7 156.3v1.9M391.4 156.3v1.9M395.0 156.3v1.9M398.7 156.3v1.9M402.3 156.3v1.9M406.0 156.3v1.9M409.6 156.3v1.9M413.3 156.3v1.9M380.5 64.4H384.1M381.7 68.8H384.1M381.7 73.2H384.1M381.7 77.5H384.1M381.7 81.9H384.1M381.7 86.3H384.1M381.7 90.7H384.1M416.9 156.3v3.0M420.5 156.3v1.9M424.2 156.3v1.9M427.8 156.3v1.9M431.5 156.3v1.9M435.1 156.3v1.9M438.8 156.3v1.9M442.4 156.3v1.9M446.1 156.3v1.9M380.5 95.1H384.1M381.7 99.4H384.1M381.7 103.8H384.1M381.7 108.2H384.1M381.7 112.6H384.1M381.7 116.9H384.1M381.7 121.3H384.1M449.7 156.3v3.0M453.3 156.3v1.9M457.0 156.3v1.9M460.6 156.3v1.9M464.3 156.3v1.9M467.9 156.3v1.9M471.6 156.3v1.9M475.2 156.3v1.9M478.9 156.3v1.9M380.5 125.7H384.1M381.7 130.1H384.1M381.7 134.4H384.1M381.7 138.8H384.1M381.7 143.2H384.1M381.7 147.6H384.1M381.7 151.9H384.1M482.5 156.3v3.0M486.1 156.3v1.9M489.8 156.3v1.9M493.4 156.3v1.9M497.1 156.3v1.9M500.7 156.3v1.9M504.4 156.3v1.9M508.0 156.3v1.9M511.7 156.3v1.9M380.5 156.3H384.1M515.3 156.3v3" stroke="#333" stroke-width="0.9" fill="none"/>
<text x="380.7" y="35.9" font-size="5.9" font-family="Liberation Sans" fill="#3c3c3c" text-anchor="end">10<tspan font-size="3.5" dy="-2.6">4</tspan></text>
<text x="383.1" y="165.5" font-size="5.9" font-family="Liberation Sans" fill="#3c3c3c">10<tspan font-size="3.5" dy="-2.6">0</tspan></text>
<text x="380.7" y="66.5" font-size="5.9" font-family="Liberation Sans" fill="#3c3c3c" text-anchor="end">10<tspan font-size="3.5" dy="-2.6">3</tspan></text>
<text x="415.9" y="165.5" font-size="5.9" font-family="Liberation Sans" fill="#3c3c3c">10<tspan font-size="3.5" dy="-2.6">1</tspan></text>
<text x="380.7" y="97.2" font-size="5.9" font-family="Liberation Sans" fill="#3c3c3c" text-anchor="end">10<tspan font-size="3.5" dy="-2.6">2</tspan></text>
<text x="448.7" y="165.5" font-size="5.9" font-family="Liberation Sans" fill="#3c3c3c">10<tspan font-size="3.5" dy="-2.6">2</tspan></text>
<text x="380.7" y="127.8" font-size="5.9" font-family="Liberation Sans" fill="#3c3c3c" text-anchor="end">10<tspan font-size="3.5" dy="-2.6">1</tspan></text>
<text x="481.5" y="165.5" font-size="5.9" font-family="Liberation Sans" fill="#3c3c3c">10<tspan font-size="3.5" dy="-2.6">3</tspan></text>
<text x="380.7" y="158.4" font-size="5.9" font-family="Liberation Sans" fill="#3c3c3c" text-anchor="end">10<tspan font-size="3.5" dy="-2.6">0</tspan></text>
<text x="514.3" y="165.5" font-size="5.9" font-family="Liberation Sans" fill="#3c3c3c">10<tspan font-size="3.5" dy="-2.6">4</tspan></text>
<text x="387.1" y="43.4" font-size="7.5" font-family="Liberation Sans" font-weight="bold" fill="#333" text-anchor="start" textLength="17.3" lengthAdjust="spacingAndGlyphs" >0.3%</text>
<text x="513.0" y="43.4" font-size="7.5" font-family="Liberation Sans" font-weight="bold" fill="#333" text-anchor="end" textLength="21.5" lengthAdjust="spacingAndGlyphs" >16.5%</text>
<text x="386.1" y="153.4" font-size="7.5" font-family="Liberation Sans" font-weight="bold" fill="#333" text-anchor="start" textLength="21.5" lengthAdjust="spacingAndGlyphs" >68.8%</text>
<text x="513.0" y="153.4" font-size="7.5" font-family="Liberation Sans" font-weight="bold" fill="#333" text-anchor="end" textLength="21.5" lengthAdjust="spacingAndGlyphs" >14.4%</text>
<text x="461.6" y="180.2" font-size="14.2" font-family="Liberation Serif" font-weight="bold" fill="#000" text-anchor="middle" textLength="26.2" lengthAdjust="spacingAndGlyphs" >BAR</text>
<path fill="#e8183c" fill-opacity="0.6" filter="url(#bl)" d="M98 213h1v1h-1zM131 213h1v1h-1zM116 214h1v1h-1zM107 215h1v1h-1zM96 216h1v1h-1zM118 221h1v1h-1zM132 221h1v1h-1zM137 221h1v1h-1zM156 221h1v1h-1zM104 222h1v1h-1zM126 222h1v1h-1zM95 223h1v1h-1zM136 223h1v1h-1zM177 223h1v1h-1zM192 223h1v1h-1zM120 224h1v1h-1zM126 224h1v1h-1zM193 225h1v1h-1zM127 226h1v1h-1zM139 227h1v1h-1zM116 229h1v1h-1zM125 229h1v1h-1zM136 229h1v1h-1zM124 230h1v1h-1zM165 230h1v1h-1zM183 230h1v1h-1zM186 230h1v1h-1zM109 231h1v1h-1zM113 231h1v1h-1zM123 231h1v1h-1zM127 231h1v1h-1zM183 231h1v1h-1zM133 232h1v1h-1zM169 232h1v1h-1zM184 232h1v1h-1zM190 232h1v1h-1zM137 233h1v1h-1zM171 233h1v1h-1zM175 233h2v1h-2zM192 233h1v1h-1zM195 233h1v1h-1zM204 233h1v1h-1zM156 234h1v1h-1zM163 234h1v1h-1zM175 234h1v1h-1zM178 234h1v1h-1zM190 234h1v1h-1zM156 235h1v1h-1zM160 235h1v1h-1zM179 235h1v1h-1zM183 235h1v1h-1zM191 235h2v1h-2zM173 236h1v1h-1zM177 236h1v1h-1zM183 236h1v1h-1zM185 236h1v1h-1zM121 237h1v1h-1zM127 237h1v1h-1zM163 237h1v1h-1zM165 237h1v1h-1zM174 237h1v1h-1zM191 237h1v1h-1zM108 238h1v1h-1zM120 238h1v1h-1zM166 238h1v1h-1zM169 238h1v1h-1zM173 238h1v1h-1zM177 238h2v1h-2zM180 238h1v1h-1zM103 239h1v1h-1zM118 239h1v1h-1zM123 239h1v1h-1zM169 239h1v1h-1zM182 239h1v1h-1zM184 239h1v1h-1zM190 239h1v1h-1zM114 240h1v1h-1zM161 240h1v1h-1zM182 240h1v1h-1zM198 240h1v1h-1zM184 241h1v1h-1zM188 241h1v1h-1zM122 242h1v1h-1zM125 242h1v1h-1zM155 242h1v1h-1zM160 242h1v1h-1zM173 242h1v1h-1zM183 242h1v1h-1zM187 242h1v1h-1zM189 242h1v1h-1zM192 242h1v1h-1zM195 242h1v1h-1zM170 243h1v1h-1zM176 243h1v1h-1zM180 243h1v1h-1zM169 244h1v1h-1zM173 244h1v1h-1zM177 244h1v1h-1zM181 244h1v1h-1zM184 244h1v1h-1zM188 244h1v1h-1zM193 244h2v1h-2zM174 245h2v1h-2zM179 245h1v1h-1zM139 246h1v1h-1zM162 246h1v1h-1zM168 246h1v1h-1zM171 246h1v1h-1zM173 246h2v1h-2zM209 246h1v1h-1zM106 247h1v1h-1zM113 247h1v1h-1zM153 247h1v1h-1zM171 247h1v1h-1zM183 247h1v1h-1zM196 247h1v1h-1zM205 247h1v1h-1zM163 248h1v1h-1zM169 248h1v1h-1zM173 248h1v1h-1zM180 248h1v1h-1zM191 248h1v1h-1zM99 249h1v1h-1zM101 249h1v1h-1zM151 249h1v1h-1zM171 249h2v1h-2zM177 249h1v1h-1zM181 249h1v1h-1zM185 249h1v1h-1zM190 249h1v1h-1zM197 249h1v1h-1zM204 249h1v1h-1zM114 250h1v1h-1zM151 250h1v1h-1zM170 250h1v1h-1zM172 250h1v1h-1zM115 251h1v1h-1zM146 251h1v1h-1zM151 251h1v1h-1zM163 251h1v1h-1zM170 251h1v1h-1zM184 251h1v1h-1zM107 252h1v1h-1zM115 252h1v1h-1zM157 252h1v1h-1zM166 252h1v1h-1zM168 252h1v1h-1zM189 252h1v1h-1zM104 253h1v1h-1zM122 253h1v1h-1zM153 253h1v1h-1zM164 253h1v1h-1zM178 253h1v1h-1zM183 253h1v1h-1zM186 253h1v1h-1zM208 253h1v1h-1zM97 254h1v1h-1zM160 254h1v1h-1zM173 254h1v1h-1zM124 255h1v1h-1zM137 255h1v1h-1zM152 255h1v1h-1zM165 255h1v1h-1zM171 255h1v1h-1zM173 255h1v1h-1zM184 255h2v1h-2zM189 255h1v1h-1zM191 255h1v1h-1zM124 256h1v1h-1zM133 256h1v1h-1zM157 256h1v1h-1zM164 256h1v1h-1zM108 257h1v1h-1zM130 257h1v1h-1zM150 257h1v1h-1zM165 257h1v1h-1zM176 257h1v1h-1zM184 257h1v1h-1zM192 257h1v1h-1zM113 258h1v1h-1zM122 258h1v1h-1zM137 258h1v1h-1zM169 258h1v1h-1zM179 258h1v1h-1zM151 259h1v1h-1zM166 259h1v1h-1zM181 259h1v1h-1zM115 260h1v1h-1zM118 260h1v1h-1zM184 260h1v1h-1zM119 261h1v1h-1zM123 261h1v1h-1zM130 261h1v1h-1zM175 261h1v1h-1zM178 261h1v1h-1zM111 262h1v1h-1zM119 262h1v1h-1zM127 262h1v1h-1zM171 262h1v1h-1zM119 263h1v1h-1zM124 263h2v1h-2zM129 263h1v1h-1zM135 263h1v1h-1zM170 263h1v1h-1zM109 264h1v1h-1zM112 264h1v1h-1zM122 264h1v1h-1zM178 264h1v1h-1zM120 265h1v1h-1zM125 265h1v1h-1zM169 265h1v1h-1zM173 265h2v1h-2zM108 266h1v1h-1zM113 266h2v1h-2zM121 266h1v1h-1zM132 266h1v1h-1zM136 266h1v1h-1zM114 267h1v1h-1zM116 267h2v1h-2zM121 267h1v1h-1zM127 267h1v1h-1zM133 267h1v1h-1zM107 268h1v1h-1zM115 268h1v1h-1zM118 268h1v1h-1zM125 268h1v1h-1zM130 268h1v1h-1zM151 268h1v1h-1zM184 268h1v1h-1zM107 269h1v1h-1zM110 269h2v1h-2zM116 269h1v1h-1zM118 269h1v1h-1zM121 269h5v1h-5zM128 269h2v1h-2zM131 269h1v1h-1zM174 269h1v1h-1zM201 269h1v1h-1zM108 270h1v1h-1zM110 270h1v1h-1zM112 270h1v1h-1zM115 270h2v1h-2zM121 270h1v1h-1zM123 270h1v1h-1zM130 270h1v1h-1zM132 270h1v1h-1zM108 271h1v1h-1zM111 271h1v1h-1zM115 271h2v1h-2zM119 271h2v1h-2zM122 271h2v1h-2zM125 271h1v1h-1zM128 271h1v1h-1zM132 271h1v1h-1zM138 271h1v1h-1zM140 271h1v1h-1zM105 272h1v1h-1zM110 272h2v1h-2zM113 272h1v1h-1zM115 272h1v1h-1zM117 272h1v1h-1zM119 272h3v1h-3zM125 272h2v1h-2zM131 272h1v1h-1zM107 273h1v1h-1zM116 273h1v1h-1zM123 273h1v1h-1zM129 273h1v1h-1zM131 273h1v1h-1zM133 273h1v1h-1zM137 273h1v1h-1zM143 273h1v1h-1zM203 273h1v1h-1zM98 274h1v1h-1zM101 274h1v1h-1zM107 274h1v1h-1zM109 274h1v1h-1zM111 274h2v1h-2zM114 274h3v1h-3zM119 274h1v1h-1zM121 274h2v1h-2zM126 274h3v1h-3zM131 274h2v1h-2zM134 274h1v1h-1zM97 275h1v1h-1zM105 275h2v1h-2zM108 275h1v1h-1zM110 275h1v1h-1zM112 275h1v1h-1zM116 275h2v1h-2zM124 275h1v1h-1zM126 275h1v1h-1zM128 275h1v1h-1zM132 275h3v1h-3zM141 275h1v1h-1zM174 275h1v1h-1zM92 276h1v1h-1zM100 276h1v1h-1zM105 276h1v1h-1zM108 276h1v1h-1zM110 276h1v1h-1zM112 276h2v1h-2zM117 276h1v1h-1zM119 276h2v1h-2zM124 276h1v1h-1zM127 276h1v1h-1zM129 276h1v1h-1zM131 276h1v1h-1zM136 276h1v1h-1zM138 276h1v1h-1zM157 276h1v1h-1zM103 277h3v1h-3zM108 277h2v1h-2zM120 277h1v1h-1zM134 277h2v1h-2zM164 277h1v1h-1zM105 278h2v1h-2zM109 278h1v1h-1zM111 278h4v1h-4zM116 278h1v1h-1zM118 278h3v1h-3zM123 278h1v1h-1zM125 278h1v1h-1zM127 278h1v1h-1zM133 278h2v1h-2zM137 278h1v1h-1zM102 279h1v1h-1zM113 279h1v1h-1zM118 279h1v1h-1zM129 279h1v1h-1zM135 279h1v1h-1zM139 279h1v1h-1zM101 280h1v1h-1zM103 280h1v1h-1zM109 280h1v1h-1zM129 280h1v1h-1zM131 280h2v1h-2zM134 280h1v1h-1zM136 280h1v1h-1zM140 280h1v1h-1zM148 280h1v1h-1zM99 281h1v1h-1zM102 281h2v1h-2zM108 281h2v1h-2zM119 281h1v1h-1zM126 281h1v1h-1zM130 281h4v1h-4zM100 282h1v1h-1zM105 282h1v1h-1zM107 282h5v1h-5zM113 282h1v1h-1zM119 282h1v1h-1zM126 282h2v1h-2zM133 282h1v1h-1zM139 282h1v1h-1zM143 282h1v1h-1zM204 282h1v1h-1zM103 283h2v1h-2zM106 283h2v1h-2zM109 283h1v1h-1zM113 283h1v1h-1zM126 283h1v1h-1zM128 283h1v1h-1zM132 283h1v1h-1zM135 283h1v1h-1zM137 283h1v1h-1zM140 283h1v1h-1zM97 284h1v1h-1zM99 284h2v1h-2zM102 284h4v1h-4zM108 284h1v1h-1zM112 284h1v1h-1zM126 284h1v1h-1zM131 284h1v1h-1zM134 284h1v1h-1zM136 284h1v1h-1zM138 284h3v1h-3zM148 284h1v1h-1zM98 285h1v1h-1zM102 285h4v1h-4zM110 285h1v1h-1zM112 285h1v1h-1zM131 285h1v1h-1zM135 285h1v1h-1zM202 285h1v1h-1zM102 286h1v1h-1zM105 286h1v1h-1zM109 286h2v1h-2zM125 286h1v1h-1zM127 286h1v1h-1zM130 286h1v1h-1zM132 286h2v1h-2zM146 286h1v1h-1zM95 287h1v1h-1zM97 287h2v1h-2zM100 287h1v1h-1zM102 287h2v1h-2zM105 287h2v1h-2zM113 287h1v1h-1zM115 287h1v1h-1zM125 287h1v1h-1zM127 287h1v1h-1zM134 287h1v1h-1zM99 288h1v1h-1zM106 288h1v1h-1zM108 288h1v1h-1zM128 288h4v1h-4zM134 288h2v1h-2zM138 288h1v1h-1zM162 288h1v1h-1zM173 288h1v1h-1zM176 288h1v1h-1zM97 289h1v1h-1zM99 289h2v1h-2zM103 289h1v1h-1zM105 289h1v1h-1zM107 289h2v1h-2zM124 289h1v1h-1zM128 289h1v1h-1zM132 289h1v1h-1zM135 289h1v1h-1zM138 289h3v1h-3zM174 289h1v1h-1zM188 289h1v1h-1zM92 290h1v1h-1zM101 290h2v1h-2zM104 290h1v1h-1zM107 290h1v1h-1zM127 290h1v1h-1zM129 290h2v1h-2zM133 290h1v1h-1zM136 290h1v1h-1zM144 290h1v1h-1zM156 290h1v1h-1zM103 291h1v1h-1zM105 291h1v1h-1zM110 291h5v1h-5zM119 291h1v1h-1zM123 291h2v1h-2zM129 291h1v1h-1zM132 291h3v1h-3zM150 291h1v1h-1zM159 291h1v1h-1zM102 292h1v1h-1zM104 292h1v1h-1zM107 292h1v1h-1zM112 292h1v1h-1zM121 292h1v1h-1zM125 292h1v1h-1zM127 292h1v1h-1zM129 292h1v1h-1zM139 292h1v1h-1zM143 292h1v1h-1zM173 292h1v1h-1zM95 293h1v1h-1zM97 293h1v1h-1zM105 293h1v1h-1zM108 293h1v1h-1zM111 293h1v1h-1zM117 293h1v1h-1zM122 293h1v1h-1zM124 293h1v1h-1zM127 293h3v1h-3zM131 293h1v1h-1zM139 293h1v1h-1zM157 293h1v1h-1zM172 293h1v1h-1zM91 294h1v1h-1zM103 294h1v1h-1zM108 294h1v1h-1zM110 294h1v1h-1zM112 294h1v1h-1zM118 294h1v1h-1zM125 294h1v1h-1zM127 294h1v1h-1zM130 294h2v1h-2zM135 294h1v1h-1zM162 294h1v1h-1zM174 294h1v1h-1zM192 294h1v1h-1zM94 295h1v1h-1zM99 295h2v1h-2zM103 295h1v1h-1zM108 295h1v1h-1zM111 295h2v1h-2zM122 295h1v1h-1zM126 295h1v1h-1zM128 295h1v1h-1zM130 295h1v1h-1zM143 295h1v1h-1zM148 295h1v1h-1zM155 295h1v1h-1zM161 295h1v1h-1zM89 296h1v1h-1zM100 296h1v1h-1zM105 296h1v1h-1zM128 296h1v1h-1zM158 296h1v1h-1zM169 296h1v1h-1zM100 297h2v1h-2zM104 297h2v1h-2zM107 297h1v1h-1zM111 297h1v1h-1zM113 297h1v1h-1zM116 297h1v1h-1zM120 297h1v1h-1zM129 297h1v1h-1zM131 297h1v1h-1zM138 297h1v1h-1zM141 297h1v1h-1zM143 297h1v1h-1zM158 297h2v1h-2zM162 297h1v1h-1zM171 297h1v1h-1zM92 298h1v1h-1zM99 298h1v1h-1zM103 298h3v1h-3zM107 298h1v1h-1zM110 298h1v1h-1zM116 298h1v1h-1zM119 298h2v1h-2zM125 298h2v1h-2zM128 298h1v1h-1zM133 298h1v1h-1zM146 298h1v1h-1zM160 298h2v1h-2zM165 298h1v1h-1zM168 298h4v1h-4zM184 298h1v1h-1zM100 299h1v1h-1zM102 299h1v1h-1zM105 299h2v1h-2zM109 299h1v1h-1zM114 299h2v1h-2zM119 299h1v1h-1zM121 299h1v1h-1zM124 299h1v1h-1zM127 299h2v1h-2zM130 299h1v1h-1zM133 299h1v1h-1zM137 299h1v1h-1zM140 299h1v1h-1zM149 299h2v1h-2zM160 299h1v1h-1zM182 299h1v1h-1zM188 299h1v1h-1zM104 300h1v1h-1zM106 300h1v1h-1zM108 300h1v1h-1zM112 300h1v1h-1zM116 300h2v1h-2zM119 300h1v1h-1zM121 300h2v1h-2zM125 300h1v1h-1zM128 300h2v1h-2zM150 300h1v1h-1zM156 300h2v1h-2zM171 300h1v1h-1zM173 300h1v1h-1zM100 301h1v1h-1zM102 301h1v1h-1zM106 301h1v1h-1zM108 301h1v1h-1zM115 301h1v1h-1zM117 301h1v1h-1zM121 301h2v1h-2zM125 301h2v1h-2zM128 301h1v1h-1zM151 301h1v1h-1zM154 301h1v1h-1zM160 301h2v1h-2zM166 301h1v1h-1zM99 302h3v1h-3zM109 302h1v1h-1zM115 302h2v1h-2zM124 302h1v1h-1zM126 302h2v1h-2zM129 302h1v1h-1zM132 302h1v1h-1zM152 302h1v1h-1zM154 302h1v1h-1zM157 302h1v1h-1zM160 302h1v1h-1zM162 302h2v1h-2zM100 303h1v1h-1zM108 303h1v1h-1zM111 303h1v1h-1zM123 303h1v1h-1zM126 303h1v1h-1zM156 303h1v1h-1zM164 303h1v1h-1zM168 303h1v1h-1zM114 304h1v1h-1zM117 304h1v1h-1zM119 304h1v1h-1zM121 304h2v1h-2zM127 304h1v1h-1zM130 304h1v1h-1zM140 304h1v1h-1zM149 304h1v1h-1zM160 304h1v1h-1zM164 304h1v1h-1zM178 304h1v1h-1zM184 304h1v1h-1zM104 305h1v1h-1zM107 305h1v1h-1zM113 305h1v1h-1zM120 305h2v1h-2zM134 305h1v1h-1zM172 305h1v1h-1zM101 306h1v1h-1zM106 306h1v1h-1zM109 306h1v1h-1zM113 306h1v1h-1zM115 306h2v1h-2zM120 306h2v1h-2zM127 306h1v1h-1zM135 306h1v1h-1zM160 306h1v1h-1zM171 306h2v1h-2zM174 306h1v1h-1zM188 306h1v1h-1zM194 306h1v1h-1zM97 307h2v1h-2zM105 307h1v1h-1zM108 307h1v1h-1zM113 307h2v1h-2zM126 307h1v1h-1zM173 307h1v1h-1zM176 307h1v1h-1zM188 307h1v1h-1zM191 307h1v1h-1zM105 308h1v1h-1zM107 308h1v1h-1zM110 308h4v1h-4zM115 308h1v1h-1zM118 308h1v1h-1zM121 308h1v1h-1zM149 308h1v1h-1zM152 308h1v1h-1zM165 308h1v1h-1zM169 308h1v1h-1zM171 308h1v1h-1zM182 308h1v1h-1zM110 309h4v1h-4zM118 309h1v1h-1zM131 309h1v1h-1zM166 309h1v1h-1zM168 309h2v1h-2zM174 309h1v1h-1zM103 310h1v1h-1zM115 310h1v1h-1zM123 310h1v1h-1zM168 310h1v1h-1zM153 311h1v1h-1zM161 311h1v1h-1zM166 311h1v1h-1zM171 311h2v1h-2zM200 311h1v1h-1zM171 312h1v1h-1zM109 313h1v1h-1zM140 313h1v1h-1zM158 313h1v1h-1zM160 313h1v1h-1zM162 313h1v1h-1zM175 313h2v1h-2zM181 313h1v1h-1zM183 313h1v1h-1zM120 314h1v1h-1zM103 315h1v1h-1zM159 315h1v1h-1zM161 315h1v1h-1zM167 315h1v1h-1zM153 316h1v1h-1zM162 316h1v1h-1zM203 316h1v1h-1zM151 317h1v1h-1zM173 317h2v1h-2zM115 318h1v1h-1zM137 319h1v1h-1zM185 321h1v1h-1z"/>
<path fill="#ff0000" fill-opacity="0.85" filter="url(#bl)" d="M107 236h1v1h-1zM179 238h1v1h-1zM188 238h1v1h-1zM176 239h1v1h-1zM171 240h1v1h-1zM173 240h1v1h-1zM166 242h1v1h-1zM183 243h1v1h-1zM167 246h1v1h-1zM187 250h1v1h-1zM174 254h1v1h-1zM116 263h1v1h-1zM116 264h1v1h-1zM115 265h1v1h-1zM112 266h1v1h-1zM123 266h1v1h-1zM126 267h1v1h-1zM112 269h1v1h-1zM114 269h1v1h-1zM120 269h1v1h-1zM132 269h1v1h-1zM120 270h1v1h-1zM122 270h1v1h-1zM124 270h1v1h-1zM118 271h1v1h-1zM112 272h1v1h-1zM123 272h2v1h-2zM128 272h2v1h-2zM112 273h1v1h-1zM120 273h3v1h-3zM125 273h1v1h-1zM127 273h1v1h-1zM120 274h1v1h-1zM124 274h1v1h-1zM115 275h1v1h-1zM118 275h1v1h-1zM122 275h2v1h-2zM129 275h1v1h-1zM114 276h2v1h-2zM118 276h1v1h-1zM134 276h1v1h-1zM112 277h1v1h-1zM115 277h2v1h-2zM123 277h1v1h-1zM125 277h1v1h-1zM127 277h2v1h-2zM130 277h1v1h-1zM132 277h2v1h-2zM110 278h1v1h-1zM115 278h1v1h-1zM121 278h2v1h-2zM124 278h1v1h-1zM126 278h1v1h-1zM131 278h1v1h-1zM103 279h1v1h-1zM106 279h1v1h-1zM109 279h1v1h-1zM121 279h2v1h-2zM124 279h2v1h-2zM110 280h2v1h-2zM117 280h1v1h-1zM122 280h1v1h-1zM130 280h1v1h-1zM101 281h1v1h-1zM114 281h1v1h-1zM116 281h1v1h-1zM125 281h1v1h-1zM127 281h2v1h-2zM106 282h1v1h-1zM112 282h1v1h-1zM121 282h3v1h-3zM125 282h1v1h-1zM129 282h2v1h-2zM132 282h1v1h-1zM134 282h1v1h-1zM108 283h1v1h-1zM121 283h1v1h-1zM127 283h1v1h-1zM129 283h1v1h-1zM110 284h1v1h-1zM113 284h1v1h-1zM120 284h1v1h-1zM123 284h1v1h-1zM125 284h1v1h-1zM128 284h2v1h-2zM106 285h1v1h-1zM108 285h1v1h-1zM111 285h1v1h-1zM116 285h2v1h-2zM129 285h1v1h-1zM106 286h3v1h-3zM112 286h1v1h-1zM114 286h1v1h-1zM118 286h1v1h-1zM122 286h1v1h-1zM129 286h1v1h-1zM134 286h1v1h-1zM108 287h1v1h-1zM110 287h1v1h-1zM114 287h1v1h-1zM122 287h1v1h-1zM126 287h1v1h-1zM132 287h1v1h-1zM137 287h1v1h-1zM103 288h1v1h-1zM111 288h1v1h-1zM115 288h1v1h-1zM121 288h1v1h-1zM123 288h1v1h-1zM127 288h1v1h-1zM133 288h1v1h-1zM137 288h1v1h-1zM106 289h1v1h-1zM112 289h2v1h-2zM117 289h1v1h-1zM122 289h1v1h-1zM126 289h1v1h-1zM130 289h2v1h-2zM137 289h1v1h-1zM105 290h2v1h-2zM109 290h3v1h-3zM116 290h1v1h-1zM120 290h1v1h-1zM132 290h1v1h-1zM134 290h1v1h-1zM106 291h2v1h-2zM115 291h1v1h-1zM126 291h2v1h-2zM103 292h1v1h-1zM105 292h1v1h-1zM110 292h1v1h-1zM118 292h1v1h-1zM124 292h1v1h-1zM128 292h1v1h-1zM131 292h1v1h-1zM134 292h1v1h-1zM116 293h1v1h-1zM120 293h2v1h-2zM125 293h1v1h-1zM105 294h1v1h-1zM109 294h1v1h-1zM114 294h1v1h-1zM128 294h1v1h-1zM95 295h1v1h-1zM105 295h1v1h-1zM110 295h1v1h-1zM118 295h3v1h-3zM125 295h1v1h-1zM104 296h1v1h-1zM112 296h2v1h-2zM123 296h2v1h-2zM129 296h1v1h-1zM108 297h3v1h-3zM118 297h1v1h-1zM121 297h1v1h-1zM125 297h1v1h-1zM127 297h1v1h-1zM130 297h1v1h-1zM106 298h1v1h-1zM108 298h1v1h-1zM111 298h3v1h-3zM123 298h2v1h-2zM127 298h1v1h-1zM116 299h1v1h-1zM123 299h1v1h-1zM125 299h2v1h-2zM111 300h1v1h-1zM113 300h1v1h-1zM115 300h1v1h-1zM120 300h1v1h-1zM103 301h1v1h-1zM107 301h1v1h-1zM109 301h1v1h-1zM113 301h1v1h-1zM116 301h1v1h-1zM120 301h1v1h-1zM130 301h2v1h-2zM105 302h1v1h-1zM173 302h1v1h-1zM112 303h1v1h-1zM119 303h1v1h-1zM127 303h1v1h-1zM111 304h1v1h-1zM113 304h1v1h-1zM115 304h1v1h-1zM123 304h1v1h-1zM105 305h1v1h-1zM111 305h1v1h-1zM123 307h1v1h-1zM110 310h1v1h-1zM146 310h1v1h-1zM149 311h1v1h-1zM158 311h1v1h-1zM116 314h1v1h-1zM146 319h1v1h-1z"/>
<path fill="#ff0000" fill-opacity="1.0" filter="url(#bl)" d="M179 242h1v1h-1zM126 270h1v1h-1zM113 273h2v1h-2zM117 273h1v1h-1zM119 273h1v1h-1zM128 273h1v1h-1zM113 274h1v1h-1zM118 274h1v1h-1zM123 274h1v1h-1zM125 274h1v1h-1zM120 275h1v1h-1zM125 275h1v1h-1zM127 275h1v1h-1zM121 276h1v1h-1zM123 276h1v1h-1zM125 276h2v1h-2zM113 277h2v1h-2zM117 277h1v1h-1zM119 277h1v1h-1zM121 277h2v1h-2zM124 277h1v1h-1zM126 277h1v1h-1zM117 278h1v1h-1zM128 278h1v1h-1zM108 279h1v1h-1zM112 279h1v1h-1zM114 279h4v1h-4zM119 279h2v1h-2zM123 279h1v1h-1zM126 279h1v1h-1zM128 279h1v1h-1zM112 280h1v1h-1zM114 280h3v1h-3zM118 280h4v1h-4zM123 280h6v1h-6zM104 281h1v1h-1zM110 281h4v1h-4zM115 281h1v1h-1zM117 281h2v1h-2zM120 281h5v1h-5zM129 281h1v1h-1zM114 282h5v1h-5zM120 282h1v1h-1zM124 282h1v1h-1zM131 282h1v1h-1zM105 283h1v1h-1zM110 283h3v1h-3zM114 283h3v1h-3zM118 283h3v1h-3zM122 283h3v1h-3zM130 283h1v1h-1zM106 284h1v1h-1zM109 284h1v1h-1zM111 284h1v1h-1zM114 284h6v1h-6zM121 284h2v1h-2zM124 284h1v1h-1zM130 284h1v1h-1zM135 284h1v1h-1zM109 285h1v1h-1zM113 285h3v1h-3zM118 285h11v1h-11zM111 286h1v1h-1zM113 286h1v1h-1zM115 286h3v1h-3zM119 286h3v1h-3zM123 286h2v1h-2zM126 286h1v1h-1zM128 286h1v1h-1zM104 287h1v1h-1zM107 287h1v1h-1zM112 287h1v1h-1zM116 287h6v1h-6zM123 287h2v1h-2zM128 287h1v1h-1zM130 287h1v1h-1zM107 288h1v1h-1zM109 288h2v1h-2zM112 288h3v1h-3zM116 288h5v1h-5zM122 288h1v1h-1zM124 288h3v1h-3zM104 289h1v1h-1zM109 289h3v1h-3zM114 289h3v1h-3zM118 289h4v1h-4zM127 289h1v1h-1zM133 289h1v1h-1zM108 290h1v1h-1zM112 290h1v1h-1zM114 290h2v1h-2zM117 290h3v1h-3zM121 290h4v1h-4zM126 290h1v1h-1zM128 290h1v1h-1zM108 291h2v1h-2zM116 291h3v1h-3zM120 291h1v1h-1zM122 291h1v1h-1zM125 291h1v1h-1zM128 291h1v1h-1zM130 291h1v1h-1zM108 292h2v1h-2zM113 292h5v1h-5zM119 292h1v1h-1zM122 292h2v1h-2zM103 293h1v1h-1zM106 293h2v1h-2zM110 293h1v1h-1zM112 293h4v1h-4zM118 293h2v1h-2zM123 293h1v1h-1zM104 294h1v1h-1zM107 294h1v1h-1zM111 294h1v1h-1zM113 294h1v1h-1zM115 294h3v1h-3zM119 294h6v1h-6zM134 294h1v1h-1zM107 295h1v1h-1zM109 295h1v1h-1zM115 295h3v1h-3zM121 295h1v1h-1zM124 295h1v1h-1zM127 295h1v1h-1zM108 296h4v1h-4zM114 296h2v1h-2zM117 296h6v1h-6zM125 296h2v1h-2zM114 297h2v1h-2zM117 297h1v1h-1zM119 297h1v1h-1zM122 297h3v1h-3zM117 298h2v1h-2zM121 298h2v1h-2zM107 299h1v1h-1zM111 299h3v1h-3zM117 299h2v1h-2zM120 299h1v1h-1zM107 300h1v1h-1zM110 300h1v1h-1zM110 301h1v1h-1zM114 301h1v1h-1zM127 301h1v1h-1zM110 302h1v1h-1zM114 302h1v1h-1zM107 303h1v1h-1zM109 303h1v1h-1zM113 303h1v1h-1zM120 303h2v1h-2zM110 304h1v1h-1zM112 305h1v1h-1zM112 306h1v1h-1z"/>
<path fill="#b8b8b8" fill-opacity="0.55" filter="url(#bl)" d="M111 270h1.4v1.4h-1.4zM90 260h1.4v1.4h-1.4zM129 259h1.4v1.4h-1.4zM178 271h1.4v1.4h-1.4zM127 281h1.4v1.4h-1.4zM148 215h1.4v1.4h-1.4zM94 279h1.4v1.4h-1.4zM181 222h1.4v1.4h-1.4zM95 244h1.4v1.4h-1.4zM148 307h1.4v1.4h-1.4zM148 292h1.4v1.4h-1.4zM208 257h1.4v1.4h-1.4zM131 229h1.4v1.4h-1.4zM131 230h1.4v1.4h-1.4zM99 300h1.4v1.4h-1.4zM177 253h1.4v1.4h-1.4zM142 221h1.4v1.4h-1.4zM197 259h1.4v1.4h-1.4zM141 252h1.4v1.4h-1.4zM113 264h1.4v1.4h-1.4zM107 265h1.4v1.4h-1.4zM159 283h1.4v1.4h-1.4zM188 259h1.4v1.4h-1.4zM183 253h1.4v1.4h-1.4zM167 249h1.4v1.4h-1.4zM206 253h1.4v1.4h-1.4zM203 294h1.4v1.4h-1.4zM135 260h1.4v1.4h-1.4zM99 268h1.4v1.4h-1.4zM103 256h1.4v1.4h-1.4zM119 231h1.4v1.4h-1.4zM93 221h1.4v1.4h-1.4zM145 224h1.4v1.4h-1.4zM165 240h1.4v1.4h-1.4zM132 287h1.4v1.4h-1.4zM186 269h1.4v1.4h-1.4zM198 248h1.4v1.4h-1.4zM94 228h1.4v1.4h-1.4zM158 223h1.4v1.4h-1.4zM175 228h1.4v1.4h-1.4zM162 235h1.4v1.4h-1.4zM195 272h1.4v1.4h-1.4zM99 282h1.4v1.4h-1.4zM174 243h1.4v1.4h-1.4zM90 263h1.4v1.4h-1.4z"/>
<line x1="80.9" y1="265.5" x2="211.5" y2="265.5" stroke="#666" stroke-width="1"/>
<line x1="144.5" y1="199.8" x2="144.5" y2="322.0" stroke="#666" stroke-width="1"/>
<rect x="80.9" y="199.8" width="130.6" height="122.2" fill="none" stroke="#1a1a1a" stroke-width="1.3"/>
<path d="M77.3 199.8H80.9M78.5 204.2H80.9M78.5 208.5H80.9M78.5 212.9H80.9M78.5 217.3H80.9M78.5 221.6H80.9M78.5 226.0H80.9M80.9 322.0v3.0M84.5 322.0v1.9M88.2 322.0v1.9M91.8 322.0v1.9M95.4 322.0v1.9M99.0 322.0v1.9M102.7 322.0v1.9M106.3 322.0v1.9M109.9 322.0v1.9M77.3 230.4H80.9M78.5 234.7H80.9M78.5 239.1H80.9M78.5 243.4H80.9M78.5 247.8H80.9M78.5 252.2H80.9M78.5 256.5H80.9M113.6 322.0v3.0M117.2 322.0v1.9M120.8 322.0v1.9M124.4 322.0v1.9M128.1 322.0v1.9M131.7 322.0v1.9M135.3 322.0v1.9M138.9 322.0v1.9M142.6 322.0v1.9M77.3 260.9H80.9M78.5 265.3H80.9M78.5 269.6H80.9M78.5 274.0H80.9M78.5 278.4H80.9M78.5 282.7H80.9M78.5 287.1H80.9M146.2 322.0v3.0M149.8 322.0v1.9M153.5 322.0v1.9M157.1 322.0v1.9M160.7 322.0v1.9M164.3 322.0v1.9M168.0 322.0v1.9M171.6 322.0v1.9M175.2 322.0v1.9M77.3 291.4H80.9M78.5 295.8H80.9M78.5 300.2H80.9M78.5 304.5H80.9M78.5 308.9H80.9M78.5 313.3H80.9M78.5 317.6H80.9M178.8 322.0v3.0M182.5 322.0v1.9M186.1 322.0v1.9M189.7 322.0v1.9M193.4 322.0v1.9M197.0 322.0v1.9M200.6 322.0v1.9M204.2 322.0v1.9M207.9 322.0v1.9M77.30000000000001 322.0H80.9M211.5 322.0v3" stroke="#333" stroke-width="0.9" fill="none"/>
<text x="77.5" y="201.9" font-size="5.9" font-family="Liberation Sans" fill="#3c3c3c" text-anchor="end">10<tspan font-size="3.5" dy="-2.6">4</tspan></text>
<text x="79.9" y="331.2" font-size="5.9" font-family="Liberation Sans" fill="#3c3c3c">10<tspan font-size="3.5" dy="-2.6">0</tspan></text>
<text x="77.5" y="232.5" font-size="5.9" font-family="Liberation Sans" fill="#3c3c3c" text-anchor="end">10<tspan font-size="3.5" dy="-2.6">3</tspan></text>
<text x="112.6" y="331.2" font-size="5.9" font-family="Liberation Sans" fill="#3c3c3c">10<tspan font-size="3.5" dy="-2.6">1</tspan></text>
<text x="77.5" y="263.0" font-size="5.9" font-family="Liberation Sans" fill="#3c3c3c" text-anchor="end">10<tspan font-size="3.5" dy="-2.6">2</tspan></text>
<text x="145.2" y="331.2" font-size="5.9" font-family="Liberation Sans" fill="#3c3c3c">10<tspan font-size="3.5" dy="-2.6">2</tspan></text>
<text x="77.5" y="293.6" font-size="5.9" font-family="Liberation Sans" fill="#3c3c3c" text-anchor="end">10<tspan font-size="3.5" dy="-2.6">1</tspan></text>
<text x="177.8" y="331.2" font-size="5.9" font-family="Liberation Sans" fill="#3c3c3c">10<tspan font-size="3.5" dy="-2.6">3</tspan></text>
<text x="77.5" y="324.1" font-size="5.9" font-family="Liberation Sans" fill="#3c3c3c" text-anchor="end">10<tspan font-size="3.5" dy="-2.6">0</tspan></text>
<text x="210.5" y="331.2" font-size="5.9" font-family="Liberation Sans" fill="#3c3c3c">10<tspan font-size="3.5" dy="-2.6">4</tspan></text>
<text x="83.9" y="209.4" font-size="7.5" font-family="Liberation Sans" font-weight="bold" fill="#333" text-anchor="start" textLength="17.3" lengthAdjust="spacingAndGlyphs" >0.5%</text>
<text x="209.2" y="209.4" font-size="7.5" font-family="Liberation Sans" font-weight="bold" fill="#333" text-anchor="end" textLength="17.3" lengthAdjust="spacingAndGlyphs" >3.7%</text>
<text x="82.9" y="319.1" font-size="7.5" font-family="Liberation Sans" font-weight="bold" fill="#333" text-anchor="start" textLength="21.5" lengthAdjust="spacingAndGlyphs" >91.4%</text>
<text x="209.2" y="319.1" font-size="7.5" font-family="Liberation Sans" font-weight="bold" fill="#333" text-anchor="end" textLength="17.3" lengthAdjust="spacingAndGlyphs" >3.4%</text>
<text x="159.0" y="345.5" font-size="14.2" font-family="Liberation Serif" font-weight="bold" fill="#000" text-anchor="middle" textLength="43.9" lengthAdjust="spacingAndGlyphs" >Control</text>
<path fill="#e8183c" fill-opacity="0.6" filter="url(#bl)" d="M257 214h1v1h-1zM259 214h1v1h-1zM281 214h1v1h-1zM289 214h1v1h-1zM286 216h1v1h-1zM248 217h1v1h-1zM290 217h1v1h-1zM278 219h2v1h-2zM282 219h1v1h-1zM249 221h1v1h-1zM254 221h1v1h-1zM261 225h1v1h-1zM276 225h1v1h-1zM289 225h1v1h-1zM264 226h1v1h-1zM277 226h1v1h-1zM249 227h1v1h-1zM273 227h1v1h-1zM281 228h1v1h-1zM321 228h1v1h-1zM325 229h1v1h-1zM250 230h1v1h-1zM261 230h1v1h-1zM333 230h1v1h-1zM308 231h1v1h-1zM302 232h1v1h-1zM333 232h1v1h-1zM269 233h1v1h-1zM313 233h1v1h-1zM328 233h1v1h-1zM303 234h1v1h-1zM315 234h1v1h-1zM331 234h1v1h-1zM341 234h1v1h-1zM318 235h1v1h-1zM311 236h1v1h-1zM317 236h1v1h-1zM328 236h1v1h-1zM334 236h1v1h-1zM285 237h1v1h-1zM329 237h1v1h-1zM338 237h1v1h-1zM247 238h1v1h-1zM250 238h1v1h-1zM282 238h1v1h-1zM309 238h1v1h-1zM315 238h1v1h-1zM322 238h2v1h-2zM315 239h1v1h-1zM321 239h1v1h-1zM334 239h1v1h-1zM275 240h1v1h-1zM288 240h1v1h-1zM312 240h2v1h-2zM317 240h1v1h-1zM342 240h1v1h-1zM299 241h1v1h-1zM307 241h1v1h-1zM321 241h1v1h-1zM326 241h1v1h-1zM328 241h1v1h-1zM333 241h1v1h-1zM250 242h1v1h-1zM307 242h1v1h-1zM318 242h1v1h-1zM327 242h1v1h-1zM330 242h2v1h-2zM311 243h1v1h-1zM313 243h1v1h-1zM320 243h1v1h-1zM325 243h2v1h-2zM339 243h1v1h-1zM306 244h1v1h-1zM312 244h1v1h-1zM314 244h1v1h-1zM319 244h1v1h-1zM322 244h2v1h-2zM330 244h1v1h-1zM332 244h1v1h-1zM253 245h1v1h-1zM299 245h1v1h-1zM307 245h1v1h-1zM311 245h1v1h-1zM315 245h1v1h-1zM319 245h1v1h-1zM321 245h1v1h-1zM323 245h1v1h-1zM305 246h1v1h-1zM314 246h1v1h-1zM318 246h1v1h-1zM320 246h1v1h-1zM323 246h2v1h-2zM326 246h1v1h-1zM337 246h1v1h-1zM347 246h1v1h-1zM314 247h3v1h-3zM318 247h1v1h-1zM327 247h1v1h-1zM329 247h2v1h-2zM332 247h1v1h-1zM334 247h1v1h-1zM303 248h1v1h-1zM313 248h1v1h-1zM315 248h1v1h-1zM318 248h1v1h-1zM326 248h1v1h-1zM332 248h1v1h-1zM248 249h1v1h-1zM254 249h1v1h-1zM267 249h1v1h-1zM291 249h1v1h-1zM309 249h1v1h-1zM312 249h1v1h-1zM325 249h2v1h-2zM330 249h1v1h-1zM333 249h1v1h-1zM253 250h1v1h-1zM266 250h1v1h-1zM303 250h1v1h-1zM315 250h4v1h-4zM320 250h2v1h-2zM324 250h1v1h-1zM329 250h2v1h-2zM339 250h1v1h-1zM259 251h1v1h-1zM274 251h1v1h-1zM282 251h1v1h-1zM286 251h1v1h-1zM297 251h1v1h-1zM309 251h1v1h-1zM318 251h1v1h-1zM321 251h1v1h-1zM329 251h1v1h-1zM335 251h1v1h-1zM337 251h1v1h-1zM259 252h1v1h-1zM294 252h1v1h-1zM312 252h1v1h-1zM315 252h1v1h-1zM320 252h1v1h-1zM325 252h1v1h-1zM332 252h1v1h-1zM334 252h1v1h-1zM345 252h1v1h-1zM261 253h1v1h-1zM307 253h1v1h-1zM309 253h2v1h-2zM316 253h1v1h-1zM321 253h1v1h-1zM331 253h2v1h-2zM336 253h1v1h-1zM347 253h1v1h-1zM314 254h1v1h-1zM317 254h2v1h-2zM331 254h1v1h-1zM337 254h1v1h-1zM344 254h1v1h-1zM257 255h1v1h-1zM301 255h1v1h-1zM309 255h1v1h-1zM315 255h1v1h-1zM317 255h1v1h-1zM329 255h1v1h-1zM334 255h1v1h-1zM338 255h1v1h-1zM283 256h1v1h-1zM307 256h1v1h-1zM309 256h3v1h-3zM320 256h2v1h-2zM324 256h2v1h-2zM336 256h1v1h-1zM303 257h1v1h-1zM308 257h1v1h-1zM315 257h1v1h-1zM317 257h1v1h-1zM320 257h1v1h-1zM328 257h1v1h-1zM263 258h1v1h-1zM266 258h1v1h-1zM316 258h1v1h-1zM339 258h1v1h-1zM277 259h1v1h-1zM286 259h1v1h-1zM313 259h1v1h-1zM318 259h2v1h-2zM336 259h1v1h-1zM278 260h1v1h-1zM287 260h1v1h-1zM310 260h1v1h-1zM312 260h1v1h-1zM320 260h1v1h-1zM322 260h1v1h-1zM325 260h3v1h-3zM329 260h1v1h-1zM280 261h1v1h-1zM318 261h1v1h-1zM321 261h1v1h-1zM327 261h2v1h-2zM308 262h1v1h-1zM313 262h1v1h-1zM320 262h1v1h-1zM331 262h1v1h-1zM335 262h1v1h-1zM284 263h1v1h-1zM293 263h1v1h-1zM305 263h1v1h-1zM312 263h2v1h-2zM315 263h1v1h-1zM317 263h1v1h-1zM323 263h1v1h-1zM333 263h1v1h-1zM321 264h1v1h-1zM325 264h1v1h-1zM328 264h1v1h-1zM332 264h1v1h-1zM301 265h1v1h-1zM303 265h1v1h-1zM310 265h1v1h-1zM331 265h1v1h-1zM278 266h1v1h-1zM299 266h1v1h-1zM314 266h1v1h-1zM318 266h1v1h-1zM321 266h1v1h-1zM323 266h1v1h-1zM324 267h1v1h-1zM331 267h1v1h-1zM276 268h2v1h-2zM306 268h1v1h-1zM321 268h1v1h-1zM330 268h1v1h-1zM335 268h1v1h-1zM268 269h1v1h-1zM273 269h1v1h-1zM284 269h1v1h-1zM298 269h1v1h-1zM310 269h1v1h-1zM331 269h1v1h-1zM333 269h1v1h-1zM269 270h1v1h-1zM282 270h1v1h-1zM290 270h1v1h-1zM319 270h1v1h-1zM338 270h1v1h-1zM275 271h1v1h-1zM283 271h1v1h-1zM288 271h1v1h-1zM301 271h1v1h-1zM320 271h1v1h-1zM324 271h2v1h-2zM267 272h1v1h-1zM276 272h1v1h-1zM278 272h2v1h-2zM281 272h1v1h-1zM283 272h3v1h-3zM289 272h1v1h-1zM312 272h1v1h-1zM322 272h1v1h-1zM340 272h1v1h-1zM255 273h1v1h-1zM257 273h1v1h-1zM266 273h1v1h-1zM270 273h2v1h-2zM283 273h1v1h-1zM287 273h1v1h-1zM295 273h1v1h-1zM298 273h1v1h-1zM302 273h2v1h-2zM309 273h1v1h-1zM321 273h1v1h-1zM324 273h1v1h-1zM333 273h1v1h-1zM254 274h1v1h-1zM262 274h1v1h-1zM275 274h1v1h-1zM279 274h1v1h-1zM283 274h1v1h-1zM294 274h1v1h-1zM303 274h1v1h-1zM332 274h1v1h-1zM266 275h1v1h-1zM268 275h1v1h-1zM270 275h2v1h-2zM274 275h1v1h-1zM290 275h1v1h-1zM292 275h1v1h-1zM310 275h1v1h-1zM317 275h2v1h-2zM321 275h1v1h-1zM263 276h2v1h-2zM267 276h2v1h-2zM272 276h2v1h-2zM276 276h1v1h-1zM278 276h1v1h-1zM282 276h1v1h-1zM286 276h1v1h-1zM288 276h1v1h-1zM292 276h1v1h-1zM297 276h1v1h-1zM300 276h1v1h-1zM303 276h1v1h-1zM308 276h1v1h-1zM331 276h2v1h-2zM340 276h1v1h-1zM258 277h1v1h-1zM263 277h1v1h-1zM265 277h1v1h-1zM268 277h1v1h-1zM271 277h1v1h-1zM273 277h2v1h-2zM283 277h1v1h-1zM285 277h1v1h-1zM290 277h1v1h-1zM311 277h2v1h-2zM319 277h1v1h-1zM323 277h1v1h-1zM264 278h1v1h-1zM273 278h1v1h-1zM276 278h1v1h-1zM279 278h1v1h-1zM281 278h1v1h-1zM283 278h1v1h-1zM288 278h2v1h-2zM295 278h1v1h-1zM317 278h1v1h-1zM321 278h1v1h-1zM250 279h1v1h-1zM267 279h1v1h-1zM269 279h2v1h-2zM274 279h1v1h-1zM276 279h1v1h-1zM278 279h1v1h-1zM281 279h1v1h-1zM288 279h1v1h-1zM291 279h1v1h-1zM324 279h1v1h-1zM255 280h1v1h-1zM265 280h2v1h-2zM268 280h1v1h-1zM270 280h1v1h-1zM274 280h1v1h-1zM276 280h1v1h-1zM278 280h2v1h-2zM283 280h2v1h-2zM287 280h1v1h-1zM289 280h1v1h-1zM295 280h1v1h-1zM303 280h1v1h-1zM310 280h2v1h-2zM316 280h2v1h-2zM252 281h2v1h-2zM255 281h1v1h-1zM261 281h1v1h-1zM263 281h1v1h-1zM265 281h1v1h-1zM267 281h1v1h-1zM272 281h2v1h-2zM277 281h2v1h-2zM280 281h2v1h-2zM284 281h1v1h-1zM286 281h2v1h-2zM295 281h1v1h-1zM298 281h2v1h-2zM306 281h1v1h-1zM317 281h2v1h-2zM320 281h4v1h-4zM260 282h4v1h-4zM266 282h1v1h-1zM270 282h1v1h-1zM272 282h1v1h-1zM274 282h1v1h-1zM279 282h3v1h-3zM284 282h1v1h-1zM287 282h1v1h-1zM289 282h2v1h-2zM292 282h2v1h-2zM299 282h1v1h-1zM307 282h1v1h-1zM316 282h1v1h-1zM325 282h1v1h-1zM330 282h1v1h-1zM334 282h1v1h-1zM258 283h1v1h-1zM264 283h2v1h-2zM269 283h2v1h-2zM273 283h1v1h-1zM297 283h1v1h-1zM303 283h2v1h-2zM307 283h1v1h-1zM309 283h2v1h-2zM314 283h1v1h-1zM321 283h1v1h-1zM333 283h1v1h-1zM259 284h1v1h-1zM262 284h1v1h-1zM266 284h2v1h-2zM269 284h1v1h-1zM277 284h1v1h-1zM285 284h1v1h-1zM287 284h2v1h-2zM297 284h1v1h-1zM301 284h1v1h-1zM311 284h1v1h-1zM314 284h2v1h-2zM317 284h1v1h-1zM256 285h1v1h-1zM260 285h1v1h-1zM265 285h1v1h-1zM267 285h1v1h-1zM269 285h4v1h-4zM279 285h1v1h-1zM285 285h1v1h-1zM290 285h1v1h-1zM293 285h1v1h-1zM303 285h1v1h-1zM308 285h1v1h-1zM320 285h1v1h-1zM322 285h1v1h-1zM324 285h2v1h-2zM255 286h1v1h-1zM258 286h1v1h-1zM262 286h2v1h-2zM266 286h1v1h-1zM269 286h1v1h-1zM278 286h2v1h-2zM284 286h1v1h-1zM290 286h1v1h-1zM294 286h1v1h-1zM296 286h1v1h-1zM301 286h2v1h-2zM304 286h1v1h-1zM318 286h1v1h-1zM323 286h1v1h-1zM247 287h1v1h-1zM261 287h1v1h-1zM265 287h2v1h-2zM268 287h1v1h-1zM272 287h1v1h-1zM275 287h1v1h-1zM285 287h1v1h-1zM289 287h1v1h-1zM291 287h1v1h-1zM293 287h1v1h-1zM296 287h1v1h-1zM300 287h1v1h-1zM305 287h2v1h-2zM310 287h1v1h-1zM313 287h1v1h-1zM318 287h1v1h-1zM326 287h1v1h-1zM330 287h1v1h-1zM256 288h1v1h-1zM261 288h1v1h-1zM263 288h2v1h-2zM266 288h1v1h-1zM270 288h1v1h-1zM273 288h1v1h-1zM275 288h1v1h-1zM278 288h1v1h-1zM280 288h1v1h-1zM283 288h1v1h-1zM286 288h2v1h-2zM290 288h1v1h-1zM295 288h2v1h-2zM300 288h1v1h-1zM313 288h1v1h-1zM318 288h1v1h-1zM326 288h1v1h-1zM252 289h1v1h-1zM263 289h3v1h-3zM268 289h1v1h-1zM278 289h1v1h-1zM281 289h1v1h-1zM302 289h1v1h-1zM322 289h1v1h-1zM325 289h1v1h-1zM335 289h1v1h-1zM244 290h1v1h-1zM247 290h1v1h-1zM259 290h1v1h-1zM265 290h1v1h-1zM268 290h1v1h-1zM282 290h2v1h-2zM286 290h1v1h-1zM289 290h1v1h-1zM291 290h2v1h-2zM295 290h1v1h-1zM307 290h1v1h-1zM311 290h1v1h-1zM314 290h1v1h-1zM321 290h1v1h-1zM344 290h1v1h-1zM250 291h1v1h-1zM260 291h1v1h-1zM263 291h1v1h-1zM265 291h2v1h-2zM272 291h1v1h-1zM288 291h2v1h-2zM297 291h1v1h-1zM305 291h1v1h-1zM317 291h1v1h-1zM319 291h1v1h-1zM347 291h1v1h-1zM248 292h1v1h-1zM255 292h1v1h-1zM258 292h1v1h-1zM263 292h1v1h-1zM280 292h2v1h-2zM286 292h2v1h-2zM294 292h1v1h-1zM298 292h2v1h-2zM306 292h1v1h-1zM310 292h1v1h-1zM317 292h1v1h-1zM248 293h1v1h-1zM260 293h2v1h-2zM269 293h1v1h-1zM286 293h1v1h-1zM291 293h1v1h-1zM296 293h1v1h-1zM299 293h1v1h-1zM315 293h1v1h-1zM327 293h1v1h-1zM334 293h1v1h-1zM340 293h1v1h-1zM354 293h1v1h-1zM246 294h1v1h-1zM261 294h1v1h-1zM267 294h1v1h-1zM276 294h2v1h-2zM290 294h1v1h-1zM309 294h1v1h-1zM315 294h3v1h-3zM321 294h1v1h-1zM324 294h1v1h-1zM346 294h1v1h-1zM254 295h2v1h-2zM259 295h1v1h-1zM262 295h4v1h-4zM270 295h1v1h-1zM282 295h1v1h-1zM286 295h1v1h-1zM290 295h2v1h-2zM294 295h1v1h-1zM298 295h1v1h-1zM312 295h1v1h-1zM320 295h1v1h-1zM323 295h1v1h-1zM327 295h1v1h-1zM329 295h1v1h-1zM349 295h1v1h-1zM257 296h1v1h-1zM259 296h1v1h-1zM261 296h2v1h-2zM267 296h1v1h-1zM276 296h1v1h-1zM282 296h4v1h-4zM288 296h1v1h-1zM291 296h1v1h-1zM293 296h1v1h-1zM295 296h1v1h-1zM297 296h1v1h-1zM300 296h1v1h-1zM318 296h3v1h-3zM257 297h1v1h-1zM260 297h1v1h-1zM264 297h1v1h-1zM270 297h2v1h-2zM278 297h1v1h-1zM281 297h1v1h-1zM283 297h5v1h-5zM289 297h1v1h-1zM297 297h1v1h-1zM313 297h1v1h-1zM316 297h1v1h-1zM328 297h1v1h-1zM332 297h1v1h-1zM251 298h1v1h-1zM255 298h1v1h-1zM260 298h1v1h-1zM268 298h1v1h-1zM270 298h2v1h-2zM277 298h1v1h-1zM283 298h3v1h-3zM287 298h2v1h-2zM290 298h1v1h-1zM303 298h1v1h-1zM308 298h1v1h-1zM313 298h1v1h-1zM321 298h1v1h-1zM331 298h1v1h-1zM254 299h1v1h-1zM257 299h1v1h-1zM262 299h1v1h-1zM268 299h1v1h-1zM282 299h1v1h-1zM286 299h2v1h-2zM290 299h1v1h-1zM292 299h1v1h-1zM299 299h1v1h-1zM303 299h2v1h-2zM310 299h1v1h-1zM314 299h1v1h-1zM326 299h1v1h-1zM337 299h1v1h-1zM252 300h2v1h-2zM256 300h1v1h-1zM259 300h1v1h-1zM272 300h1v1h-1zM276 300h1v1h-1zM279 300h1v1h-1zM283 300h1v1h-1zM286 300h2v1h-2zM296 300h1v1h-1zM298 300h1v1h-1zM303 300h1v1h-1zM306 300h1v1h-1zM310 300h2v1h-2zM319 300h2v1h-2zM345 300h1v1h-1zM240 301h1v1h-1zM258 301h1v1h-1zM261 301h2v1h-2zM266 301h1v1h-1zM268 301h1v1h-1zM273 301h1v1h-1zM275 301h1v1h-1zM282 301h1v1h-1zM286 301h1v1h-1zM289 301h1v1h-1zM292 301h1v1h-1zM303 301h2v1h-2zM307 301h2v1h-2zM310 301h1v1h-1zM312 301h1v1h-1zM244 302h1v1h-1zM251 302h1v1h-1zM257 302h1v1h-1zM263 302h2v1h-2zM276 302h1v1h-1zM282 302h1v1h-1zM290 302h3v1h-3zM295 302h1v1h-1zM301 302h1v1h-1zM306 302h1v1h-1zM309 302h1v1h-1zM314 302h1v1h-1zM316 302h1v1h-1zM323 302h1v1h-1zM335 302h1v1h-1zM258 303h2v1h-2zM261 303h1v1h-1zM263 303h2v1h-2zM281 303h1v1h-1zM284 303h2v1h-2zM288 303h1v1h-1zM290 303h1v1h-1zM294 303h1v1h-1zM306 303h2v1h-2zM310 303h2v1h-2zM320 303h1v1h-1zM322 303h1v1h-1zM336 303h1v1h-1zM349 303h1v1h-1zM256 304h2v1h-2zM260 304h1v1h-1zM262 304h1v1h-1zM268 304h1v1h-1zM279 304h1v1h-1zM285 304h1v1h-1zM301 304h1v1h-1zM306 304h1v1h-1zM308 304h1v1h-1zM314 304h1v1h-1zM343 304h1v1h-1zM251 305h1v1h-1zM256 305h3v1h-3zM266 305h1v1h-1zM268 305h1v1h-1zM277 305h1v1h-1zM280 305h1v1h-1zM288 305h2v1h-2zM291 305h1v1h-1zM303 305h4v1h-4zM308 305h1v1h-1zM310 305h1v1h-1zM313 305h1v1h-1zM258 306h2v1h-2zM262 306h1v1h-1zM264 306h1v1h-1zM275 306h1v1h-1zM277 306h1v1h-1zM282 306h1v1h-1zM297 306h2v1h-2zM301 306h1v1h-1zM304 306h4v1h-4zM313 306h1v1h-1zM315 306h1v1h-1zM320 306h1v1h-1zM325 306h1v1h-1zM254 307h1v1h-1zM256 307h1v1h-1zM258 307h2v1h-2zM261 307h1v1h-1zM265 307h1v1h-1zM269 307h2v1h-2zM272 307h1v1h-1zM280 307h1v1h-1zM283 307h1v1h-1zM287 307h1v1h-1zM289 307h1v1h-1zM293 307h1v1h-1zM302 307h1v1h-1zM305 307h1v1h-1zM307 307h2v1h-2zM311 307h1v1h-1zM313 307h1v1h-1zM316 307h1v1h-1zM342 307h1v1h-1zM251 308h1v1h-1zM256 308h1v1h-1zM264 308h1v1h-1zM269 308h2v1h-2zM273 308h1v1h-1zM275 308h1v1h-1zM282 308h2v1h-2zM287 308h1v1h-1zM292 308h1v1h-1zM301 308h1v1h-1zM306 308h1v1h-1zM311 308h2v1h-2zM315 308h1v1h-1zM322 308h1v1h-1zM252 309h1v1h-1zM256 309h2v1h-2zM260 309h1v1h-1zM265 309h1v1h-1zM267 309h1v1h-1zM275 309h1v1h-1zM279 309h1v1h-1zM282 309h3v1h-3zM286 309h1v1h-1zM306 309h1v1h-1zM314 309h1v1h-1zM318 309h1v1h-1zM345 309h1v1h-1zM248 310h1v1h-1zM253 310h1v1h-1zM255 310h1v1h-1zM257 310h1v1h-1zM262 310h1v1h-1zM269 310h2v1h-2zM273 310h1v1h-1zM275 310h1v1h-1zM278 310h2v1h-2zM283 310h1v1h-1zM286 310h1v1h-1zM304 310h1v1h-1zM306 310h2v1h-2zM246 311h1v1h-1zM257 311h2v1h-2zM262 311h3v1h-3zM266 311h1v1h-1zM269 311h2v1h-2zM272 311h1v1h-1zM278 311h2v1h-2zM282 311h1v1h-1zM285 311h1v1h-1zM288 311h1v1h-1zM294 311h1v1h-1zM297 311h1v1h-1zM306 311h1v1h-1zM308 311h1v1h-1zM326 311h1v1h-1zM339 311h1v1h-1zM255 312h1v1h-1zM259 312h1v1h-1zM261 312h1v1h-1zM263 312h1v1h-1zM265 312h1v1h-1zM269 312h2v1h-2zM275 312h2v1h-2zM283 312h2v1h-2zM291 312h1v1h-1zM298 312h1v1h-1zM308 312h1v1h-1zM313 312h1v1h-1zM322 312h1v1h-1zM257 313h1v1h-1zM264 313h1v1h-1zM268 313h1v1h-1zM271 313h1v1h-1zM273 313h1v1h-1zM283 313h1v1h-1zM288 313h1v1h-1zM304 313h1v1h-1zM314 313h1v1h-1zM334 313h1v1h-1zM256 314h3v1h-3zM260 314h1v1h-1zM263 314h2v1h-2zM267 314h1v1h-1zM271 314h4v1h-4zM277 314h1v1h-1zM284 314h1v1h-1zM310 314h1v1h-1zM316 314h1v1h-1zM325 314h1v1h-1zM250 315h1v1h-1zM254 315h1v1h-1zM256 315h1v1h-1zM260 315h1v1h-1zM269 315h1v1h-1zM274 315h1v1h-1zM278 315h1v1h-1zM282 315h1v1h-1zM311 315h1v1h-1zM319 315h1v1h-1zM331 315h1v1h-1zM257 316h1v1h-1zM260 316h1v1h-1zM268 316h2v1h-2zM271 316h1v1h-1zM273 316h1v1h-1zM278 316h1v1h-1zM282 316h2v1h-2zM287 316h2v1h-2zM340 316h1v1h-1zM252 317h1v1h-1zM257 317h1v1h-1zM260 317h1v1h-1zM265 317h1v1h-1zM269 317h1v1h-1zM271 317h3v1h-3zM258 318h1v1h-1zM271 318h3v1h-3zM280 318h1v1h-1zM285 318h1v1h-1zM288 318h1v1h-1zM297 318h1v1h-1zM299 318h1v1h-1zM303 318h1v1h-1zM328 318h1v1h-1zM257 319h1v1h-1zM267 319h1v1h-1zM270 319h1v1h-1zM272 319h3v1h-3zM284 319h1v1h-1zM287 319h1v1h-1zM304 319h1v1h-1zM265 320h2v1h-2zM271 320h2v1h-2zM277 320h1v1h-1zM291 320h1v1h-1zM308 320h1v1h-1zM255 321h1v1h-1zM265 321h1v1h-1zM270 321h1v1h-1zM283 321h2v1h-2zM314 321h1v1h-1z"/>
<path fill="#ff0000" fill-opacity="0.85" filter="url(#bl)" d="M316 230h1v1h-1zM314 238h1v1h-1zM330 239h1v1h-1zM324 240h1v1h-1zM328 240h1v1h-1zM317 242h1v1h-1zM326 242h1v1h-1zM314 245h1v1h-1zM320 247h1v1h-1zM310 248h1v1h-1zM321 248h1v1h-1zM313 251h1v1h-1zM320 251h1v1h-1zM326 251h1v1h-1zM320 253h1v1h-1zM313 254h1v1h-1zM335 254h1v1h-1zM324 255h1v1h-1zM308 260h1v1h-1zM324 262h1v1h-1zM274 269h1v1h-1zM282 272h1v1h-1zM276 273h1v1h-1zM282 274h1v1h-1zM285 274h1v1h-1zM279 275h1v1h-1zM311 275h1v1h-1zM270 276h1v1h-1zM275 276h1v1h-1zM281 276h1v1h-1zM269 277h1v1h-1zM278 277h2v1h-2zM268 278h1v1h-1zM277 278h1v1h-1zM296 278h1v1h-1zM262 279h1v1h-1zM268 279h1v1h-1zM277 279h1v1h-1zM290 279h1v1h-1zM272 280h1v1h-1zM275 280h1v1h-1zM280 280h3v1h-3zM319 280h1v1h-1zM270 281h2v1h-2zM276 281h1v1h-1zM283 281h1v1h-1zM297 281h1v1h-1zM303 281h1v1h-1zM268 282h2v1h-2zM273 282h1v1h-1zM277 282h2v1h-2zM285 282h1v1h-1zM262 283h1v1h-1zM266 283h1v1h-1zM271 283h1v1h-1zM279 283h1v1h-1zM285 283h1v1h-1zM291 283h1v1h-1zM311 283h1v1h-1zM261 284h1v1h-1zM268 284h1v1h-1zM270 284h5v1h-5zM276 284h1v1h-1zM281 284h1v1h-1zM286 284h1v1h-1zM300 284h1v1h-1zM316 284h1v1h-1zM258 285h1v1h-1zM273 285h2v1h-2zM277 285h1v1h-1zM284 285h1v1h-1zM286 285h4v1h-4zM265 286h1v1h-1zM270 286h1v1h-1zM274 286h4v1h-4zM280 286h1v1h-1zM335 286h1v1h-1zM262 287h1v1h-1zM274 287h1v1h-1zM284 287h1v1h-1zM286 287h2v1h-2zM317 287h1v1h-1zM262 288h1v1h-1zM265 288h1v1h-1zM269 288h1v1h-1zM282 288h1v1h-1zM257 289h1v1h-1zM262 289h1v1h-1zM274 289h1v1h-1zM282 289h2v1h-2zM285 289h2v1h-2zM291 289h1v1h-1zM315 289h1v1h-1zM261 290h2v1h-2zM266 290h1v1h-1zM269 290h1v1h-1zM272 290h3v1h-3zM277 290h1v1h-1zM280 290h1v1h-1zM287 290h2v1h-2zM290 290h1v1h-1zM299 290h1v1h-1zM264 291h1v1h-1zM276 291h2v1h-2zM279 291h3v1h-3zM284 291h1v1h-1zM302 291h1v1h-1zM259 292h1v1h-1zM268 292h1v1h-1zM273 292h1v1h-1zM279 292h1v1h-1zM284 292h1v1h-1zM291 292h1v1h-1zM272 293h1v1h-1zM279 293h2v1h-2zM284 293h2v1h-2zM287 293h1v1h-1zM298 293h1v1h-1zM257 294h1v1h-1zM266 294h1v1h-1zM268 294h1v1h-1zM279 294h1v1h-1zM281 294h2v1h-2zM292 294h1v1h-1zM266 295h2v1h-2zM281 295h1v1h-1zM285 295h1v1h-1zM288 295h1v1h-1zM256 296h1v1h-1zM265 296h1v1h-1zM268 296h2v1h-2zM278 296h1v1h-1zM281 296h1v1h-1zM290 296h1v1h-1zM292 296h1v1h-1zM328 296h1v1h-1zM262 297h1v1h-1zM279 297h1v1h-1zM282 297h1v1h-1zM288 297h1v1h-1zM294 297h1v1h-1zM256 298h1v1h-1zM261 298h1v1h-1zM264 298h1v1h-1zM267 298h1v1h-1zM279 298h1v1h-1zM297 298h1v1h-1zM325 298h1v1h-1zM327 298h1v1h-1zM264 299h2v1h-2zM273 299h1v1h-1zM278 299h1v1h-1zM283 299h1v1h-1zM312 299h1v1h-1zM258 300h1v1h-1zM260 300h1v1h-1zM270 300h1v1h-1zM277 300h2v1h-2zM280 300h1v1h-1zM284 300h2v1h-2zM289 300h1v1h-1zM317 300h1v1h-1zM265 301h1v1h-1zM270 301h1v1h-1zM272 301h1v1h-1zM281 301h1v1h-1zM284 301h1v1h-1zM256 302h1v1h-1zM261 302h1v1h-1zM272 302h1v1h-1zM283 302h1v1h-1zM285 302h1v1h-1zM333 302h1v1h-1zM255 303h2v1h-2zM260 303h1v1h-1zM265 303h1v1h-1zM270 303h1v1h-1zM279 303h2v1h-2zM315 303h1v1h-1zM266 304h1v1h-1zM270 304h1v1h-1zM274 304h1v1h-1zM277 304h2v1h-2zM280 304h1v1h-1zM282 304h1v1h-1zM288 304h1v1h-1zM305 304h1v1h-1zM307 304h1v1h-1zM260 305h1v1h-1zM262 305h1v1h-1zM265 305h1v1h-1zM269 305h2v1h-2zM275 305h2v1h-2zM279 305h1v1h-1zM285 305h1v1h-1zM307 305h1v1h-1zM260 306h1v1h-1zM263 306h1v1h-1zM267 306h1v1h-1zM269 306h2v1h-2zM273 306h2v1h-2zM276 306h1v1h-1zM280 306h1v1h-1zM283 306h1v1h-1zM285 306h1v1h-1zM303 306h1v1h-1zM309 306h2v1h-2zM273 307h1v1h-1zM278 307h1v1h-1zM281 307h1v1h-1zM268 308h1v1h-1zM272 308h1v1h-1zM274 308h1v1h-1zM276 308h1v1h-1zM278 308h1v1h-1zM261 309h1v1h-1zM264 309h1v1h-1zM269 309h1v1h-1zM274 309h1v1h-1zM276 309h1v1h-1zM278 309h1v1h-1zM285 309h1v1h-1zM258 310h1v1h-1zM264 310h1v1h-1zM266 310h2v1h-2zM282 310h1v1h-1zM310 310h1v1h-1zM268 311h1v1h-1zM274 311h1v1h-1zM276 311h2v1h-2zM280 311h2v1h-2zM264 312h1v1h-1zM268 312h1v1h-1zM271 312h1v1h-1zM273 312h2v1h-2zM270 313h1v1h-1zM272 313h1v1h-1zM274 313h1v1h-1zM268 314h1v1h-1zM265 315h1v1h-1zM270 315h1v1h-1zM262 316h1v1h-1zM281 317h1v1h-1zM269 320h1v1h-1zM272 321h1v1h-1z"/>
<path fill="#ff0000" fill-opacity="1.0" filter="url(#bl)" d="M320 254h1v1h-1zM312 256h1v1h-1zM274 278h1v1h-1zM279 279h1v1h-1zM282 279h1v1h-1zM273 280h1v1h-1zM274 281h2v1h-2zM271 282h1v1h-1zM275 282h1v1h-1zM282 282h2v1h-2zM268 283h1v1h-1zM276 283h3v1h-3zM281 283h2v1h-2zM288 283h1v1h-1zM275 284h1v1h-1zM278 284h3v1h-3zM282 284h3v1h-3zM275 285h2v1h-2zM278 285h1v1h-1zM282 285h1v1h-1zM267 286h2v1h-2zM272 286h2v1h-2zM281 286h1v1h-1zM285 286h1v1h-1zM287 286h1v1h-1zM264 287h1v1h-1zM267 287h1v1h-1zM270 287h2v1h-2zM273 287h1v1h-1zM277 287h1v1h-1zM279 287h1v1h-1zM281 287h3v1h-3zM267 288h1v1h-1zM271 288h2v1h-2zM274 288h1v1h-1zM276 288h2v1h-2zM279 288h1v1h-1zM281 288h1v1h-1zM266 289h1v1h-1zM271 289h3v1h-3zM275 289h3v1h-3zM279 289h2v1h-2zM284 289h1v1h-1zM287 289h1v1h-1zM290 289h1v1h-1zM267 290h1v1h-1zM270 290h2v1h-2zM275 290h2v1h-2zM279 290h1v1h-1zM284 290h2v1h-2zM267 291h1v1h-1zM270 291h2v1h-2zM273 291h2v1h-2zM278 291h1v1h-1zM282 291h2v1h-2zM285 291h1v1h-1zM265 292h3v1h-3zM269 292h4v1h-4zM274 292h5v1h-5zM285 292h1v1h-1zM263 293h2v1h-2zM267 293h2v1h-2zM270 293h2v1h-2zM273 293h6v1h-6zM281 293h3v1h-3zM262 294h3v1h-3zM269 294h7v1h-7zM283 294h2v1h-2zM260 295h1v1h-1zM268 295h2v1h-2zM271 295h10v1h-10zM284 295h1v1h-1zM263 296h1v1h-1zM270 296h1v1h-1zM272 296h4v1h-4zM277 296h1v1h-1zM279 296h2v1h-2zM265 297h3v1h-3zM269 297h1v1h-1zM272 297h6v1h-6zM263 298h1v1h-1zM266 298h1v1h-1zM269 298h1v1h-1zM272 298h5v1h-5zM278 298h1v1h-1zM280 298h3v1h-3zM286 298h1v1h-1zM263 299h1v1h-1zM266 299h2v1h-2zM269 299h2v1h-2zM272 299h1v1h-1zM274 299h4v1h-4zM279 299h2v1h-2zM288 299h1v1h-1zM264 300h6v1h-6zM271 300h1v1h-1zM273 300h3v1h-3zM281 300h1v1h-1zM288 300h1v1h-1zM257 301h1v1h-1zM263 301h2v1h-2zM267 301h1v1h-1zM269 301h1v1h-1zM276 301h5v1h-5zM285 301h1v1h-1zM316 301h1v1h-1zM259 302h1v1h-1zM265 302h1v1h-1zM269 302h3v1h-3zM273 302h3v1h-3zM277 302h5v1h-5zM284 302h1v1h-1zM266 303h4v1h-4zM271 303h2v1h-2zM274 303h4v1h-4zM308 303h1v1h-1zM264 304h2v1h-2zM267 304h1v1h-1zM269 304h1v1h-1zM271 304h3v1h-3zM275 304h1v1h-1zM281 304h1v1h-1zM263 305h2v1h-2zM271 305h2v1h-2zM274 305h1v1h-1zM278 305h1v1h-1zM283 305h1v1h-1zM265 306h2v1h-2zM268 306h1v1h-1zM271 306h1v1h-1zM281 306h1v1h-1zM267 307h2v1h-2zM271 307h1v1h-1zM274 307h1v1h-1zM276 307h2v1h-2zM262 308h1v1h-1zM266 308h1v1h-1zM271 308h1v1h-1zM277 308h1v1h-1zM266 309h1v1h-1zM271 309h1v1h-1zM277 309h1v1h-1zM281 309h1v1h-1zM268 310h1v1h-1zM272 310h1v1h-1zM276 310h1v1h-1zM267 311h1v1h-1zM273 311h1v1h-1zM267 313h1v1h-1z"/>
<path fill="#b8b8b8" fill-opacity="0.55" filter="url(#bl)" d="M269 303h1.4v1.4h-1.4zM340 226h1.4v1.4h-1.4zM272 220h1.4v1.4h-1.4zM358 250h1.4v1.4h-1.4zM295 229h1.4v1.4h-1.4zM271 290h1.4v1.4h-1.4zM262 230h1.4v1.4h-1.4zM265 233h1.4v1.4h-1.4zM330 219h1.4v1.4h-1.4zM263 302h1.4v1.4h-1.4zM297 301h1.4v1.4h-1.4zM269 224h1.4v1.4h-1.4zM272 249h1.4v1.4h-1.4zM279 231h1.4v1.4h-1.4zM248 234h1.4v1.4h-1.4zM285 226h1.4v1.4h-1.4zM353 255h1.4v1.4h-1.4zM239 258h1.4v1.4h-1.4zM246 271h1.4v1.4h-1.4zM256 238h1.4v1.4h-1.4zM302 226h1.4v1.4h-1.4zM310 218h1.4v1.4h-1.4zM290 285h1.4v1.4h-1.4zM325 286h1.4v1.4h-1.4zM261 241h1.4v1.4h-1.4zM242 274h1.4v1.4h-1.4zM330 296h1.4v1.4h-1.4zM238 281h1.4v1.4h-1.4zM280 274h1.4v1.4h-1.4zM273 222h1.4v1.4h-1.4zM327 284h1.4v1.4h-1.4zM255 222h1.4v1.4h-1.4zM246 263h1.4v1.4h-1.4zM281 241h1.4v1.4h-1.4zM269 265h1.4v1.4h-1.4zM260 291h1.4v1.4h-1.4zM298 246h1.4v1.4h-1.4zM245 237h1.4v1.4h-1.4zM280 272h1.4v1.4h-1.4zM306 285h1.4v1.4h-1.4zM302 248h1.4v1.4h-1.4zM290 254h1.4v1.4h-1.4zM336 270h1.4v1.4h-1.4zM262 309h1.4v1.4h-1.4zM313 231h1.4v1.4h-1.4z"/>
<line x1="233.4" y1="265.5" x2="364.2" y2="265.5" stroke="#666" stroke-width="1"/>
<line x1="297.5" y1="199.8" x2="297.5" y2="322.0" stroke="#666" stroke-width="1"/>
<rect x="233.4" y="199.8" width="130.8" height="122.2" fill="none" stroke="#1a1a1a" stroke-width="1.3"/>
<path d="M229.8 199.8H233.4M231.0 204.2H233.4M231.0 208.5H233.4M231.0 212.9H233.4M231.0 217.3H233.4M231.0 221.6H233.4M231.0 226.0H233.4M233.4 322.0v3.0M237.0 322.0v1.9M240.7 322.0v1.9M244.3 322.0v1.9M247.9 322.0v1.9M251.6 322.0v1.9M255.2 322.0v1.9M258.8 322.0v1.9M262.5 322.0v1.9M229.8 230.4H233.4M231.0 234.7H233.4M231.0 239.1H233.4M231.0 243.4H233.4M231.0 247.8H233.4M231.0 252.2H233.4M231.0 256.5H233.4M266.1 322.0v3.0M269.7 322.0v1.9M273.4 322.0v1.9M277.0 322.0v1.9M280.6 322.0v1.9M284.3 322.0v1.9M287.9 322.0v1.9M291.5 322.0v1.9M295.2 322.0v1.9M229.8 260.9H233.4M231.0 265.3H233.4M231.0 269.6H233.4M231.0 274.0H233.4M231.0 278.4H233.4M231.0 282.7H233.4M231.0 287.1H233.4M298.8 322.0v3.0M302.4 322.0v1.9M306.1 322.0v1.9M309.7 322.0v1.9M313.3 322.0v1.9M317.0 322.0v1.9M320.6 322.0v1.9M324.2 322.0v1.9M327.9 322.0v1.9M229.8 291.4H233.4M231.0 295.8H233.4M231.0 300.2H233.4M231.0 304.5H233.4M231.0 308.9H233.4M231.0 313.3H233.4M231.0 317.6H233.4M331.5 322.0v3.0M335.1 322.0v1.9M338.8 322.0v1.9M342.4 322.0v1.9M346.0 322.0v1.9M349.7 322.0v1.9M353.3 322.0v1.9M356.9 322.0v1.9M360.6 322.0v1.9M229.8 322.0H233.4M364.2 322.0v3" stroke="#333" stroke-width="0.9" fill="none"/>
<text x="230.0" y="201.9" font-size="5.9" font-family="Liberation Sans" fill="#3c3c3c" text-anchor="end">10<tspan font-size="3.5" dy="-2.6">4</tspan></text>
<text x="232.4" y="331.2" font-size="5.9" font-family="Liberation Sans" fill="#3c3c3c">10<tspan font-size="3.5" dy="-2.6">0</tspan></text>
<text x="230.0" y="232.5" font-size="5.9" font-family="Liberation Sans" fill="#3c3c3c" text-anchor="end">10<tspan font-size="3.5" dy="-2.6">3</tspan></text>
<text x="265.1" y="331.2" font-size="5.9" font-family="Liberation Sans" fill="#3c3c3c">10<tspan font-size="3.5" dy="-2.6">1</tspan></text>
<text x="230.0" y="263.0" font-size="5.9" font-family="Liberation Sans" fill="#3c3c3c" text-anchor="end">10<tspan font-size="3.5" dy="-2.6">2</tspan></text>
<text x="297.8" y="331.2" font-size="5.9" font-family="Liberation Sans" fill="#3c3c3c">10<tspan font-size="3.5" dy="-2.6">2</tspan></text>
<text x="230.0" y="293.6" font-size="5.9" font-family="Liberation Sans" fill="#3c3c3c" text-anchor="end">10<tspan font-size="3.5" dy="-2.6">1</tspan></text>
<text x="330.5" y="331.2" font-size="5.9" font-family="Liberation Sans" fill="#3c3c3c">10<tspan font-size="3.5" dy="-2.6">3</tspan></text>
<text x="230.0" y="324.1" font-size="5.9" font-family="Liberation Sans" fill="#3c3c3c" text-anchor="end">10<tspan font-size="3.5" dy="-2.6">0</tspan></text>
<text x="363.2" y="331.2" font-size="5.9" font-family="Liberation Sans" fill="#3c3c3c">10<tspan font-size="3.5" dy="-2.6">4</tspan></text>
<text x="236.4" y="209.4" font-size="7.5" font-family="Liberation Sans" font-weight="bold" fill="#333" text-anchor="start" textLength="17.3" lengthAdjust="spacingAndGlyphs" >0.4%</text>
<text x="361.9" y="209.4" font-size="7.5" font-family="Liberation Sans" font-weight="bold" fill="#333" text-anchor="end" textLength="21.5" lengthAdjust="spacingAndGlyphs" >17.5%</text>
<text x="235.4" y="319.1" font-size="7.5" font-family="Liberation Sans" font-weight="bold" fill="#333" text-anchor="start" textLength="21.5" lengthAdjust="spacingAndGlyphs" >65.3%</text>
<text x="361.9" y="319.1" font-size="7.5" font-family="Liberation Sans" font-weight="bold" fill="#333" text-anchor="end" textLength="21.5" lengthAdjust="spacingAndGlyphs" >16.8%</text>
<text x="316.5" y="345.7" font-size="14.2" font-family="Liberation Serif" font-weight="bold" fill="#000" text-anchor="middle" textLength="23.1" lengthAdjust="spacingAndGlyphs" >JUR</text>
<path fill="#e8183c" fill-opacity="0.6" filter="url(#bl)" d="M483 214h1v1h-1zM405 217h1v1h-1zM443 217h1v1h-1zM483 217h1v1h-1zM425 218h2v1h-2zM444 218h1v1h-1zM405 219h1v1h-1zM476 219h1v1h-1zM474 222h1v1h-1zM490 222h1v1h-1zM419 223h1v1h-1zM438 223h1v1h-1zM424 224h1v1h-1zM470 224h1v1h-1zM489 224h1v1h-1zM422 226h1v1h-1zM465 226h1v1h-1zM471 226h1v1h-1zM476 226h2v1h-2zM404 227h1v1h-1zM418 227h1v1h-1zM475 227h1v1h-1zM482 227h1v1h-1zM463 228h1v1h-1zM478 228h2v1h-2zM466 229h1v1h-1zM470 229h1v1h-1zM485 229h1v1h-1zM408 230h1v1h-1zM446 230h1v1h-1zM474 230h1v1h-1zM478 230h1v1h-1zM506 230h1v1h-1zM400 231h1v1h-1zM456 231h1v1h-1zM486 231h1v1h-1zM441 232h1v1h-1zM473 232h1v1h-1zM466 233h1v1h-1zM448 234h1v1h-1zM459 234h1v1h-1zM465 234h1v1h-1zM469 234h1v1h-1zM476 234h1v1h-1zM479 234h1v1h-1zM485 234h1v1h-1zM410 235h1v1h-1zM454 235h1v1h-1zM457 235h1v1h-1zM460 235h1v1h-1zM468 235h1v1h-1zM471 235h1v1h-1zM427 236h1v1h-1zM440 236h1v1h-1zM474 236h1v1h-1zM479 236h1v1h-1zM468 237h2v1h-2zM471 237h2v1h-2zM481 237h1v1h-1zM468 238h1v1h-1zM477 238h1v1h-1zM483 238h1v1h-1zM406 239h1v1h-1zM429 239h1v1h-1zM468 239h2v1h-2zM471 239h1v1h-1zM492 239h1v1h-1zM496 239h1v1h-1zM400 240h1v1h-1zM459 240h1v1h-1zM462 240h1v1h-1zM466 240h2v1h-2zM471 240h2v1h-2zM475 240h1v1h-1zM445 241h1v1h-1zM454 241h1v1h-1zM462 241h1v1h-1zM464 241h1v1h-1zM474 241h1v1h-1zM487 241h1v1h-1zM452 242h3v1h-3zM462 242h2v1h-2zM476 242h2v1h-2zM479 242h1v1h-1zM461 243h1v1h-1zM467 243h2v1h-2zM471 243h1v1h-1zM474 243h1v1h-1zM482 243h1v1h-1zM489 243h1v1h-1zM412 244h1v1h-1zM425 244h1v1h-1zM457 244h1v1h-1zM469 244h1v1h-1zM480 244h1v1h-1zM491 244h1v1h-1zM438 245h1v1h-1zM458 245h1v1h-1zM469 245h1v1h-1zM474 245h1v1h-1zM476 245h1v1h-1zM479 245h1v1h-1zM450 246h1v1h-1zM475 246h1v1h-1zM482 246h1v1h-1zM486 246h1v1h-1zM494 246h1v1h-1zM446 247h1v1h-1zM460 247h1v1h-1zM463 247h2v1h-2zM466 247h1v1h-1zM475 247h1v1h-1zM430 248h1v1h-1zM459 248h1v1h-1zM465 248h1v1h-1zM486 248h2v1h-2zM492 248h2v1h-2zM403 249h1v1h-1zM420 249h1v1h-1zM456 249h1v1h-1zM462 249h2v1h-2zM479 249h1v1h-1zM483 249h1v1h-1zM423 250h1v1h-1zM432 250h1v1h-1zM465 250h1v1h-1zM474 250h1v1h-1zM478 250h1v1h-1zM480 250h2v1h-2zM493 250h1v1h-1zM449 251h1v1h-1zM460 251h1v1h-1zM463 251h1v1h-1zM468 251h1v1h-1zM475 251h1v1h-1zM478 251h1v1h-1zM480 251h1v1h-1zM484 251h1v1h-1zM488 251h1v1h-1zM433 252h1v1h-1zM467 252h2v1h-2zM476 252h1v1h-1zM480 252h1v1h-1zM483 252h1v1h-1zM494 252h1v1h-1zM496 252h1v1h-1zM429 253h1v1h-1zM467 253h2v1h-2zM470 253h1v1h-1zM478 253h1v1h-1zM485 253h1v1h-1zM490 253h1v1h-1zM497 253h1v1h-1zM503 253h1v1h-1zM457 254h1v1h-1zM471 254h1v1h-1zM473 254h1v1h-1zM481 254h1v1h-1zM435 255h1v1h-1zM441 255h1v1h-1zM469 255h1v1h-1zM476 255h1v1h-1zM483 255h1v1h-1zM423 256h1v1h-1zM460 256h1v1h-1zM467 256h1v1h-1zM473 256h1v1h-1zM479 256h1v1h-1zM481 256h1v1h-1zM442 257h1v1h-1zM447 257h1v1h-1zM459 257h1v1h-1zM461 257h2v1h-2zM468 257h1v1h-1zM471 257h2v1h-2zM482 257h1v1h-1zM464 258h1v1h-1zM474 258h1v1h-1zM482 258h1v1h-1zM490 258h1v1h-1zM457 259h1v1h-1zM469 259h1v1h-1zM491 259h1v1h-1zM455 260h1v1h-1zM457 260h1v1h-1zM459 260h1v1h-1zM475 260h1v1h-1zM402 261h1v1h-1zM418 261h1v1h-1zM440 261h1v1h-1zM474 261h1v1h-1zM486 261h1v1h-1zM457 262h1v1h-1zM462 262h1v1h-1zM465 262h1v1h-1zM475 262h1v1h-1zM490 262h1v1h-1zM428 263h1v1h-1zM463 263h1v1h-1zM467 263h1v1h-1zM427 264h1v1h-1zM471 264h1v1h-1zM480 264h1v1h-1zM462 265h1v1h-1zM473 265h1v1h-1zM481 265h1v1h-1zM498 265h1v1h-1zM444 266h1v1h-1zM477 266h1v1h-1zM483 266h1v1h-1zM465 267h1v1h-1zM470 267h1v1h-1zM472 267h1v1h-1zM482 267h1v1h-1zM417 268h1v1h-1zM490 268h1v1h-1zM493 268h1v1h-1zM404 269h1v1h-1zM421 269h1v1h-1zM424 269h2v1h-2zM450 269h1v1h-1zM466 269h1v1h-1zM414 270h1v1h-1zM418 270h1v1h-1zM424 270h1v1h-1zM426 270h1v1h-1zM486 270h2v1h-2zM420 271h1v1h-1zM422 271h1v1h-1zM427 271h1v1h-1zM439 271h1v1h-1zM445 271h1v1h-1zM454 271h1v1h-1zM466 271h1v1h-1zM482 271h1v1h-1zM398 272h1v1h-1zM406 272h1v1h-1zM410 272h1v1h-1zM417 272h1v1h-1zM427 272h1v1h-1zM430 272h1v1h-1zM443 272h1v1h-1zM465 272h1v1h-1zM474 272h1v1h-1zM487 272h1v1h-1zM419 273h1v1h-1zM426 273h1v1h-1zM429 273h2v1h-2zM467 273h1v1h-1zM469 273h1v1h-1zM478 273h1v1h-1zM493 273h1v1h-1zM404 274h1v1h-1zM413 274h1v1h-1zM416 274h3v1h-3zM421 274h1v1h-1zM424 274h2v1h-2zM433 274h1v1h-1zM454 274h1v1h-1zM460 274h1v1h-1zM480 274h1v1h-1zM409 275h2v1h-2zM418 275h2v1h-2zM421 275h1v1h-1zM432 275h1v1h-1zM441 275h1v1h-1zM452 275h2v1h-2zM471 275h1v1h-1zM407 276h1v1h-1zM410 276h2v1h-2zM422 276h1v1h-1zM424 276h1v1h-1zM429 276h1v1h-1zM433 276h1v1h-1zM436 276h1v1h-1zM441 276h1v1h-1zM459 276h1v1h-1zM467 276h1v1h-1zM495 276h1v1h-1zM412 277h1v1h-1zM414 277h1v1h-1zM416 277h1v1h-1zM420 277h3v1h-3zM425 277h2v1h-2zM429 277h1v1h-1zM434 277h1v1h-1zM469 277h1v1h-1zM477 277h1v1h-1zM485 277h1v1h-1zM493 277h1v1h-1zM397 278h1v1h-1zM414 278h1v1h-1zM417 278h2v1h-2zM427 278h1v1h-1zM429 278h1v1h-1zM432 278h1v1h-1zM437 278h1v1h-1zM439 278h2v1h-2zM445 278h1v1h-1zM448 278h1v1h-1zM454 278h1v1h-1zM468 278h1v1h-1zM470 278h2v1h-2zM402 279h1v1h-1zM408 279h1v1h-1zM410 279h1v1h-1zM420 279h1v1h-1zM427 279h2v1h-2zM435 279h1v1h-1zM440 279h1v1h-1zM447 279h1v1h-1zM484 279h1v1h-1zM488 279h1v1h-1zM401 280h1v1h-1zM403 280h2v1h-2zM406 280h1v1h-1zM408 280h1v1h-1zM411 280h1v1h-1zM413 280h1v1h-1zM416 280h2v1h-2zM419 280h2v1h-2zM427 280h1v1h-1zM429 280h1v1h-1zM438 280h1v1h-1zM440 280h1v1h-1zM457 280h1v1h-1zM401 281h1v1h-1zM407 281h2v1h-2zM412 281h1v1h-1zM421 281h1v1h-1zM424 281h1v1h-1zM426 281h1v1h-1zM429 281h2v1h-2zM433 281h1v1h-1zM439 281h1v1h-1zM445 281h1v1h-1zM453 281h1v1h-1zM460 281h1v1h-1zM463 281h1v1h-1zM465 281h1v1h-1zM467 281h1v1h-1zM476 281h1v1h-1zM488 281h1v1h-1zM406 282h1v1h-1zM408 282h2v1h-2zM412 282h2v1h-2zM415 282h1v1h-1zM417 282h3v1h-3zM425 282h1v1h-1zM428 282h1v1h-1zM432 282h2v1h-2zM436 282h2v1h-2zM446 282h1v1h-1zM451 282h1v1h-1zM468 282h1v1h-1zM486 282h1v1h-1zM389 283h1v1h-1zM404 283h1v1h-1zM410 283h1v1h-1zM412 283h1v1h-1zM415 283h1v1h-1zM419 283h1v1h-1zM427 283h1v1h-1zM430 283h1v1h-1zM434 283h2v1h-2zM439 283h1v1h-1zM441 283h1v1h-1zM447 283h1v1h-1zM456 283h1v1h-1zM466 283h1v1h-1zM468 283h1v1h-1zM470 283h1v1h-1zM482 283h1v1h-1zM403 284h1v1h-1zM408 284h1v1h-1zM425 284h1v1h-1zM429 284h5v1h-5zM435 284h1v1h-1zM437 284h1v1h-1zM446 284h1v1h-1zM454 284h2v1h-2zM464 284h1v1h-1zM488 284h1v1h-1zM403 285h1v1h-1zM405 285h1v1h-1zM407 285h2v1h-2zM410 285h2v1h-2zM416 285h1v1h-1zM418 285h1v1h-1zM430 285h4v1h-4zM436 285h1v1h-1zM440 285h1v1h-1zM442 285h1v1h-1zM473 285h2v1h-2zM514 285h1v1h-1zM407 286h1v1h-1zM409 286h1v1h-1zM415 286h1v1h-1zM417 286h1v1h-1zM419 286h1v1h-1zM426 286h1v1h-1zM433 286h2v1h-2zM437 286h2v1h-2zM440 286h1v1h-1zM447 286h1v1h-1zM449 286h1v1h-1zM459 286h1v1h-1zM469 286h2v1h-2zM476 286h1v1h-1zM484 286h1v1h-1zM397 287h1v1h-1zM399 287h1v1h-1zM404 287h4v1h-4zM409 287h1v1h-1zM411 287h3v1h-3zM416 287h1v1h-1zM423 287h2v1h-2zM433 287h1v1h-1zM438 287h1v1h-1zM463 287h1v1h-1zM478 287h1v1h-1zM396 288h1v1h-1zM399 288h1v1h-1zM401 288h1v1h-1zM408 288h3v1h-3zM412 288h1v1h-1zM417 288h1v1h-1zM422 288h1v1h-1zM424 288h1v1h-1zM433 288h1v1h-1zM438 288h2v1h-2zM442 288h1v1h-1zM444 288h1v1h-1zM468 288h1v1h-1zM482 288h1v1h-1zM394 289h1v1h-1zM399 289h3v1h-3zM404 289h4v1h-4zM416 289h1v1h-1zM432 289h1v1h-1zM440 289h1v1h-1zM445 289h1v1h-1zM453 289h1v1h-1zM475 289h1v1h-1zM390 290h1v1h-1zM400 290h1v1h-1zM404 290h2v1h-2zM408 290h2v1h-2zM425 290h1v1h-1zM433 290h1v1h-1zM435 290h1v1h-1zM437 290h1v1h-1zM439 290h3v1h-3zM444 290h1v1h-1zM460 290h1v1h-1zM464 290h1v1h-1zM478 290h2v1h-2zM396 291h1v1h-1zM399 291h2v1h-2zM405 291h1v1h-1zM409 291h1v1h-1zM411 291h1v1h-1zM413 291h1v1h-1zM435 291h2v1h-2zM438 291h2v1h-2zM441 291h3v1h-3zM445 291h1v1h-1zM453 291h1v1h-1zM476 291h2v1h-2zM482 291h1v1h-1zM402 292h1v1h-1zM404 292h2v1h-2zM410 292h1v1h-1zM416 292h1v1h-1zM433 292h5v1h-5zM440 292h1v1h-1zM444 292h1v1h-1zM455 292h1v1h-1zM459 292h3v1h-3zM470 292h1v1h-1zM477 292h1v1h-1zM481 292h1v1h-1zM485 292h1v1h-1zM505 292h1v1h-1zM400 293h3v1h-3zM407 293h2v1h-2zM410 293h1v1h-1zM412 293h1v1h-1zM416 293h1v1h-1zM438 293h2v1h-2zM444 293h1v1h-1zM448 293h1v1h-1zM463 293h1v1h-1zM469 293h2v1h-2zM472 293h1v1h-1zM475 293h1v1h-1zM492 293h1v1h-1zM391 294h1v1h-1zM400 294h1v1h-1zM403 294h2v1h-2zM411 294h1v1h-1zM413 294h2v1h-2zM417 294h1v1h-1zM424 294h1v1h-1zM429 294h1v1h-1zM466 294h2v1h-2zM473 294h1v1h-1zM477 294h1v1h-1zM480 294h2v1h-2zM486 294h1v1h-1zM401 295h1v1h-1zM405 295h5v1h-5zM413 295h1v1h-1zM420 295h1v1h-1zM428 295h1v1h-1zM433 295h1v1h-1zM438 295h3v1h-3zM444 295h1v1h-1zM452 295h1v1h-1zM472 295h1v1h-1zM404 296h2v1h-2zM409 296h1v1h-1zM414 296h1v1h-1zM417 296h1v1h-1zM425 296h1v1h-1zM427 296h1v1h-1zM433 296h1v1h-1zM435 296h2v1h-2zM441 296h1v1h-1zM448 296h1v1h-1zM462 296h2v1h-2zM474 296h1v1h-1zM401 297h2v1h-2zM405 297h3v1h-3zM411 297h1v1h-1zM413 297h1v1h-1zM415 297h1v1h-1zM417 297h1v1h-1zM428 297h1v1h-1zM431 297h1v1h-1zM433 297h2v1h-2zM437 297h1v1h-1zM439 297h1v1h-1zM464 297h1v1h-1zM473 297h1v1h-1zM485 297h1v1h-1zM408 298h3v1h-3zM423 298h1v1h-1zM426 298h2v1h-2zM433 298h1v1h-1zM438 298h4v1h-4zM448 298h1v1h-1zM465 298h1v1h-1zM468 298h1v1h-1zM481 298h1v1h-1zM485 298h1v1h-1zM400 299h1v1h-1zM405 299h1v1h-1zM413 299h1v1h-1zM423 299h1v1h-1zM432 299h2v1h-2zM445 299h1v1h-1zM457 299h1v1h-1zM460 299h1v1h-1zM472 299h2v1h-2zM406 300h1v1h-1zM410 300h1v1h-1zM413 300h1v1h-1zM420 300h2v1h-2zM428 300h1v1h-1zM436 300h2v1h-2zM439 300h2v1h-2zM453 300h1v1h-1zM464 300h1v1h-1zM469 300h1v1h-1zM474 300h1v1h-1zM487 300h1v1h-1zM404 301h1v1h-1zM406 301h1v1h-1zM409 301h2v1h-2zM412 301h1v1h-1zM414 301h3v1h-3zM419 301h2v1h-2zM423 301h1v1h-1zM425 301h1v1h-1zM427 301h1v1h-1zM429 301h2v1h-2zM435 301h3v1h-3zM439 301h1v1h-1zM455 301h1v1h-1zM459 301h2v1h-2zM470 301h3v1h-3zM401 302h1v1h-1zM408 302h1v1h-1zM412 302h1v1h-1zM428 302h1v1h-1zM433 302h2v1h-2zM436 302h1v1h-1zM438 302h2v1h-2zM444 302h1v1h-1zM467 302h2v1h-2zM474 302h1v1h-1zM483 302h1v1h-1zM409 303h1v1h-1zM411 303h5v1h-5zM417 303h1v1h-1zM420 303h1v1h-1zM423 303h2v1h-2zM430 303h1v1h-1zM434 303h1v1h-1zM436 303h1v1h-1zM438 303h1v1h-1zM456 303h2v1h-2zM462 303h1v1h-1zM478 303h1v1h-1zM481 303h1v1h-1zM494 303h1v1h-1zM404 304h1v1h-1zM406 304h3v1h-3zM413 304h3v1h-3zM419 304h1v1h-1zM423 304h3v1h-3zM427 304h1v1h-1zM432 304h4v1h-4zM447 304h2v1h-2zM452 304h1v1h-1zM455 304h1v1h-1zM405 305h1v1h-1zM409 305h1v1h-1zM411 305h2v1h-2zM414 305h2v1h-2zM418 305h1v1h-1zM426 305h1v1h-1zM428 305h1v1h-1zM433 305h1v1h-1zM441 305h1v1h-1zM447 305h1v1h-1zM458 305h1v1h-1zM462 305h1v1h-1zM465 305h1v1h-1zM391 306h1v1h-1zM409 306h5v1h-5zM417 306h1v1h-1zM422 306h2v1h-2zM427 306h1v1h-1zM429 306h1v1h-1zM432 306h1v1h-1zM436 306h1v1h-1zM438 306h1v1h-1zM445 306h1v1h-1zM448 306h1v1h-1zM467 306h1v1h-1zM491 306h1v1h-1zM409 307h2v1h-2zM412 307h2v1h-2zM415 307h1v1h-1zM421 307h1v1h-1zM426 307h1v1h-1zM428 307h1v1h-1zM467 307h1v1h-1zM405 308h1v1h-1zM407 308h1v1h-1zM410 308h4v1h-4zM419 308h1v1h-1zM424 308h1v1h-1zM426 308h1v1h-1zM441 308h1v1h-1zM451 308h1v1h-1zM465 308h1v1h-1zM414 309h1v1h-1zM416 309h2v1h-2zM427 309h2v1h-2zM430 309h1v1h-1zM437 309h1v1h-1zM456 309h1v1h-1zM460 309h1v1h-1zM473 309h1v1h-1zM482 309h1v1h-1zM408 310h2v1h-2zM415 310h2v1h-2zM418 310h1v1h-1zM420 310h1v1h-1zM432 310h1v1h-1zM435 310h1v1h-1zM480 310h2v1h-2zM495 310h1v1h-1zM414 311h1v1h-1zM416 311h1v1h-1zM424 311h1v1h-1zM426 311h1v1h-1zM428 311h1v1h-1zM434 311h2v1h-2zM439 311h2v1h-2zM445 311h1v1h-1zM472 311h1v1h-1zM420 312h1v1h-1zM436 312h1v1h-1zM448 312h1v1h-1zM460 312h1v1h-1zM462 312h1v1h-1zM473 312h1v1h-1zM477 312h1v1h-1zM487 312h1v1h-1zM423 313h2v1h-2zM482 314h1v1h-1zM486 314h1v1h-1zM402 315h1v1h-1zM474 315h1v1h-1zM434 316h1v1h-1zM464 316h1v1h-1zM417 317h1v1h-1zM467 317h1v1h-1zM408 318h1v1h-1zM465 318h1v1h-1zM479 318h1v1h-1zM420 319h1v1h-1zM454 319h1v1h-1zM460 319h1v1h-1zM449 320h1v1h-1zM474 320h1v1h-1zM487 320h1v1h-1z"/>
<path fill="#ff0000" fill-opacity="0.85" filter="url(#bl)" d="M461 233h1v1h-1zM474 234h1v1h-1zM464 239h1v1h-1zM480 241h1v1h-1zM455 242h1v1h-1zM464 244h1v1h-1zM466 246h1v1h-1zM468 247h1v1h-1zM460 248h1v1h-1zM476 248h1v1h-1zM460 249h1v1h-1zM481 249h1v1h-1zM477 251h1v1h-1zM482 252h1v1h-1zM477 254h1v1h-1zM470 256h1v1h-1zM421 273h1v1h-1zM408 275h1v1h-1zM417 275h1v1h-1zM425 275h1v1h-1zM413 276h2v1h-2zM420 276h1v1h-1zM435 276h1v1h-1zM424 277h1v1h-1zM428 277h1v1h-1zM430 277h1v1h-1zM436 277h1v1h-1zM404 278h1v1h-1zM419 278h2v1h-2zM422 278h1v1h-1zM428 278h1v1h-1zM430 278h1v1h-1zM433 278h1v1h-1zM436 278h1v1h-1zM462 278h1v1h-1zM415 279h1v1h-1zM421 279h1v1h-1zM423 279h1v1h-1zM426 279h1v1h-1zM430 279h1v1h-1zM433 279h2v1h-2zM436 279h1v1h-1zM418 280h1v1h-1zM424 280h1v1h-1zM410 281h1v1h-1zM413 281h1v1h-1zM417 281h2v1h-2zM427 281h1v1h-1zM441 281h1v1h-1zM405 282h1v1h-1zM416 282h1v1h-1zM422 282h3v1h-3zM426 282h2v1h-2zM431 282h1v1h-1zM434 282h1v1h-1zM440 282h1v1h-1zM413 283h1v1h-1zM416 283h1v1h-1zM421 283h1v1h-1zM423 283h1v1h-1zM425 283h2v1h-2zM428 283h1v1h-1zM431 283h1v1h-1zM409 284h1v1h-1zM412 284h1v1h-1zM416 284h1v1h-1zM426 284h1v1h-1zM436 284h1v1h-1zM409 285h1v1h-1zM415 285h1v1h-1zM417 285h1v1h-1zM419 285h1v1h-1zM421 285h2v1h-2zM429 285h1v1h-1zM434 285h2v1h-2zM439 285h1v1h-1zM405 286h1v1h-1zM408 286h1v1h-1zM411 286h1v1h-1zM414 286h1v1h-1zM418 286h1v1h-1zM421 286h1v1h-1zM425 286h1v1h-1zM430 286h3v1h-3zM435 286h2v1h-2zM439 286h1v1h-1zM410 287h1v1h-1zM415 287h1v1h-1zM422 287h1v1h-1zM431 287h1v1h-1zM437 287h1v1h-1zM439 287h1v1h-1zM441 287h1v1h-1zM413 288h3v1h-3zM428 288h1v1h-1zM430 288h1v1h-1zM432 288h1v1h-1zM434 288h2v1h-2zM408 289h1v1h-1zM411 289h3v1h-3zM417 289h1v1h-1zM421 289h1v1h-1zM428 289h1v1h-1zM430 289h1v1h-1zM434 289h1v1h-1zM439 289h1v1h-1zM448 289h1v1h-1zM410 290h1v1h-1zM423 290h1v1h-1zM431 290h1v1h-1zM438 290h1v1h-1zM403 291h1v1h-1zM410 291h1v1h-1zM414 291h1v1h-1zM417 291h1v1h-1zM422 291h1v1h-1zM424 291h1v1h-1zM440 291h1v1h-1zM406 292h1v1h-1zM409 292h1v1h-1zM412 292h2v1h-2zM417 292h1v1h-1zM426 292h1v1h-1zM403 293h1v1h-1zM406 293h1v1h-1zM409 293h1v1h-1zM414 293h1v1h-1zM422 293h1v1h-1zM427 293h2v1h-2zM434 293h1v1h-1zM437 293h1v1h-1zM410 294h1v1h-1zM418 294h1v1h-1zM420 294h1v1h-1zM423 294h1v1h-1zM439 294h2v1h-2zM410 295h2v1h-2zM415 295h2v1h-2zM426 295h1v1h-1zM434 295h1v1h-1zM437 295h1v1h-1zM455 295h1v1h-1zM406 296h1v1h-1zM413 296h1v1h-1zM419 296h1v1h-1zM421 296h1v1h-1zM424 296h1v1h-1zM440 296h1v1h-1zM409 297h1v1h-1zM425 297h1v1h-1zM429 297h1v1h-1zM438 297h1v1h-1zM444 297h1v1h-1zM414 298h1v1h-1zM416 298h1v1h-1zM431 298h1v1h-1zM434 298h1v1h-1zM436 298h1v1h-1zM406 299h1v1h-1zM412 299h1v1h-1zM421 299h1v1h-1zM426 299h1v1h-1zM428 299h1v1h-1zM430 299h1v1h-1zM440 299h1v1h-1zM443 299h1v1h-1zM407 300h1v1h-1zM414 300h1v1h-1zM429 300h1v1h-1zM433 300h1v1h-1zM435 300h1v1h-1zM432 301h1v1h-1zM415 302h1v1h-1zM417 302h1v1h-1zM421 302h1v1h-1zM425 302h1v1h-1zM427 302h1v1h-1zM430 302h2v1h-2zM418 303h1v1h-1zM429 303h1v1h-1zM433 303h1v1h-1zM417 304h2v1h-2zM426 304h1v1h-1zM430 304h1v1h-1zM413 305h1v1h-1zM417 305h1v1h-1zM420 305h2v1h-2zM424 305h2v1h-2zM430 305h1v1h-1zM441 306h1v1h-1zM482 306h1v1h-1zM411 307h1v1h-1zM425 307h1v1h-1zM437 307h1v1h-1zM432 311h1v1h-1zM424 312h1v1h-1z"/>
<path fill="#ff0000" fill-opacity="1.0" filter="url(#bl)" d="M468 276h1v1h-1zM431 278h1v1h-1zM419 279h1v1h-1zM424 279h1v1h-1zM412 280h1v1h-1zM425 280h1v1h-1zM434 280h1v1h-1zM416 281h1v1h-1zM419 281h2v1h-2zM422 281h1v1h-1zM425 281h1v1h-1zM428 281h1v1h-1zM420 282h2v1h-2zM429 282h1v1h-1zM411 283h1v1h-1zM414 283h1v1h-1zM418 283h1v1h-1zM420 283h1v1h-1zM422 283h1v1h-1zM429 283h1v1h-1zM432 283h1v1h-1zM410 284h1v1h-1zM414 284h1v1h-1zM417 284h8v1h-8zM427 284h2v1h-2zM412 285h2v1h-2zM420 285h1v1h-1zM423 285h5v1h-5zM410 286h1v1h-1zM412 286h2v1h-2zM416 286h1v1h-1zM420 286h1v1h-1zM422 286h3v1h-3zM427 286h2v1h-2zM408 287h1v1h-1zM414 287h1v1h-1zM417 287h5v1h-5zM425 287h6v1h-6zM434 287h3v1h-3zM411 288h1v1h-1zM416 288h1v1h-1zM418 288h4v1h-4zM423 288h1v1h-1zM425 288h3v1h-3zM429 288h1v1h-1zM431 288h1v1h-1zM409 289h1v1h-1zM414 289h2v1h-2zM418 289h3v1h-3zM422 289h4v1h-4zM427 289h1v1h-1zM429 289h1v1h-1zM431 289h1v1h-1zM407 290h1v1h-1zM412 290h11v1h-11zM424 290h1v1h-1zM426 290h5v1h-5zM432 290h1v1h-1zM434 290h1v1h-1zM412 291h1v1h-1zM416 291h1v1h-1zM418 291h4v1h-4zM423 291h1v1h-1zM425 291h9v1h-9zM414 292h2v1h-2zM418 292h8v1h-8zM427 292h6v1h-6zM438 292h1v1h-1zM411 293h1v1h-1zM413 293h1v1h-1zM415 293h1v1h-1zM417 293h5v1h-5zM423 293h4v1h-4zM429 293h1v1h-1zM431 293h3v1h-3zM435 293h2v1h-2zM443 293h1v1h-1zM408 294h1v1h-1zM412 294h1v1h-1zM415 294h2v1h-2zM419 294h1v1h-1zM421 294h2v1h-2zM425 294h4v1h-4zM430 294h5v1h-5zM436 294h1v1h-1zM443 294h1v1h-1zM414 295h1v1h-1zM418 295h2v1h-2zM421 295h5v1h-5zM427 295h1v1h-1zM429 295h2v1h-2zM432 295h1v1h-1zM435 295h1v1h-1zM415 296h2v1h-2zM418 296h1v1h-1zM420 296h1v1h-1zM422 296h2v1h-2zM426 296h1v1h-1zM429 296h3v1h-3zM434 296h1v1h-1zM437 296h1v1h-1zM408 297h1v1h-1zM410 297h1v1h-1zM414 297h1v1h-1zM416 297h1v1h-1zM418 297h5v1h-5zM424 297h1v1h-1zM426 297h2v1h-2zM430 297h1v1h-1zM432 297h1v1h-1zM436 297h1v1h-1zM411 298h1v1h-1zM413 298h1v1h-1zM417 298h6v1h-6zM424 298h2v1h-2zM428 298h3v1h-3zM411 299h1v1h-1zM415 299h1v1h-1zM417 299h1v1h-1zM419 299h2v1h-2zM422 299h1v1h-1zM424 299h2v1h-2zM427 299h1v1h-1zM429 299h1v1h-1zM434 299h2v1h-2zM437 299h1v1h-1zM415 300h1v1h-1zM418 300h1v1h-1zM422 300h4v1h-4zM432 300h1v1h-1zM413 301h1v1h-1zM417 301h1v1h-1zM422 301h1v1h-1zM426 301h1v1h-1zM428 301h1v1h-1zM431 301h1v1h-1zM416 302h1v1h-1zM418 302h1v1h-1zM420 302h1v1h-1zM422 302h1v1h-1zM424 302h1v1h-1zM429 302h1v1h-1zM429 304h1v1h-1zM419 306h1v1h-1z"/>
<path fill="#b8b8b8" fill-opacity="0.55" filter="url(#bl)" d="M418 255h1.4v1.4h-1.4zM508 261h1.4v1.4h-1.4zM408 264h1.4v1.4h-1.4zM401 221h1.4v1.4h-1.4zM392 256h1.4v1.4h-1.4zM476 284h1.4v1.4h-1.4zM468 298h1.4v1.4h-1.4zM432 228h1.4v1.4h-1.4zM396 275h1.4v1.4h-1.4zM503 270h1.4v1.4h-1.4zM413 268h1.4v1.4h-1.4zM466 251h1.4v1.4h-1.4zM492 304h1.4v1.4h-1.4zM419 246h1.4v1.4h-1.4zM405 294h1.4v1.4h-1.4zM417 238h1.4v1.4h-1.4zM452 222h1.4v1.4h-1.4zM479 279h1.4v1.4h-1.4zM460 262h1.4v1.4h-1.4zM392 296h1.4v1.4h-1.4zM502 290h1.4v1.4h-1.4zM416 301h1.4v1.4h-1.4zM416 258h1.4v1.4h-1.4zM412 269h1.4v1.4h-1.4zM512 270h1.4v1.4h-1.4zM399 254h1.4v1.4h-1.4zM439 251h1.4v1.4h-1.4zM474 306h1.4v1.4h-1.4zM406 262h1.4v1.4h-1.4zM441 228h1.4v1.4h-1.4zM417 248h1.4v1.4h-1.4zM490 236h1.4v1.4h-1.4zM493 299h1.4v1.4h-1.4zM495 242h1.4v1.4h-1.4zM441 265h1.4v1.4h-1.4zM395 218h1.4v1.4h-1.4zM432 265h1.4v1.4h-1.4zM499 242h1.4v1.4h-1.4zM450 277h1.4v1.4h-1.4zM462 221h1.4v1.4h-1.4zM416 277h1.4v1.4h-1.4zM416 305h1.4v1.4h-1.4zM480 308h1.4v1.4h-1.4zM438 275h1.4v1.4h-1.4zM409 225h1.4v1.4h-1.4z"/>
<line x1="385.3" y1="263.5" x2="516.0" y2="263.5" stroke="#666" stroke-width="1"/>
<line x1="449.5" y1="199.3" x2="449.5" y2="321.2" stroke="#666" stroke-width="1"/>
<rect x="385.3" y="199.3" width="130.7" height="121.9" fill="none" stroke="#1a1a1a" stroke-width="1.3"/>
<path d="M381.7 199.3H385.3M382.9 203.7H385.3M382.9 208.0H385.3M382.9 212.4H385.3M382.9 216.7H385.3M382.9 221.1H385.3M382.9 225.4H385.3M385.3 321.2v3.0M388.9 321.2v1.9M392.6 321.2v1.9M396.2 321.2v1.9M399.8 321.2v1.9M403.5 321.2v1.9M407.1 321.2v1.9M410.7 321.2v1.9M414.3 321.2v1.9M381.7 229.8H385.3M382.9 234.1H385.3M382.9 238.5H385.3M382.9 242.8H385.3M382.9 247.2H385.3M382.9 251.5H385.3M382.9 255.9H385.3M418.0 321.2v3.0M421.6 321.2v1.9M425.2 321.2v1.9M428.9 321.2v1.9M432.5 321.2v1.9M436.1 321.2v1.9M439.8 321.2v1.9M443.4 321.2v1.9M447.0 321.2v1.9M381.7 260.2H385.3M382.9 264.6H385.3M382.9 269.0H385.3M382.9 273.3H385.3M382.9 277.7H385.3M382.9 282.0H385.3M382.9 286.4H385.3M450.6 321.2v3.0M454.3 321.2v1.9M457.9 321.2v1.9M461.5 321.2v1.9M465.2 321.2v1.9M468.8 321.2v1.9M472.4 321.2v1.9M476.1 321.2v1.9M479.7 321.2v1.9M381.7 290.7H385.3M382.9 295.1H385.3M382.9 299.4H385.3M382.9 303.8H385.3M382.9 308.1H385.3M382.9 312.5H385.3M382.9 316.8H385.3M483.3 321.2v3.0M487.0 321.2v1.9M490.6 321.2v1.9M494.2 321.2v1.9M497.8 321.2v1.9M501.5 321.2v1.9M505.1 321.2v1.9M508.7 321.2v1.9M512.4 321.2v1.9M381.7 321.2H385.3M516.0 321.2v3" stroke="#333" stroke-width="0.9" fill="none"/>
<text x="381.9" y="201.4" font-size="5.9" font-family="Liberation Sans" fill="#3c3c3c" text-anchor="end">10<tspan font-size="3.5" dy="-2.6">4</tspan></text>
<text x="384.3" y="330.4" font-size="5.9" font-family="Liberation Sans" fill="#3c3c3c">10<tspan font-size="3.5" dy="-2.6">0</tspan></text>
<text x="381.9" y="231.9" font-size="5.9" font-family="Liberation Sans" fill="#3c3c3c" text-anchor="end">10<tspan font-size="3.5" dy="-2.6">3</tspan></text>
<text x="417.0" y="330.4" font-size="5.9" font-family="Liberation Sans" fill="#3c3c3c">10<tspan font-size="3.5" dy="-2.6">1</tspan></text>
<text x="381.9" y="262.4" font-size="5.9" font-family="Liberation Sans" fill="#3c3c3c" text-anchor="end">10<tspan font-size="3.5" dy="-2.6">2</tspan></text>
<text x="449.6" y="330.4" font-size="5.9" font-family="Liberation Sans" fill="#3c3c3c">10<tspan font-size="3.5" dy="-2.6">2</tspan></text>
<text x="381.9" y="292.8" font-size="5.9" font-family="Liberation Sans" fill="#3c3c3c" text-anchor="end">10<tspan font-size="3.5" dy="-2.6">1</tspan></text>
<text x="482.3" y="330.4" font-size="5.9" font-family="Liberation Sans" fill="#3c3c3c">10<tspan font-size="3.5" dy="-2.6">3</tspan></text>
<text x="381.9" y="323.3" font-size="5.9" font-family="Liberation Sans" fill="#3c3c3c" text-anchor="end">10<tspan font-size="3.5" dy="-2.6">0</tspan></text>
<text x="515.0" y="330.4" font-size="5.9" font-family="Liberation Sans" fill="#3c3c3c">10<tspan font-size="3.5" dy="-2.6">4</tspan></text>
<text x="388.3" y="208.9" font-size="7.5" font-family="Liberation Sans" font-weight="bold" fill="#333" text-anchor="start" textLength="17.3" lengthAdjust="spacingAndGlyphs" >0.3%</text>
<text x="513.7" y="208.9" font-size="7.5" font-family="Liberation Sans" font-weight="bold" fill="#333" text-anchor="end" textLength="21.5" lengthAdjust="spacingAndGlyphs" >13.7%</text>
<text x="387.3" y="318.3" font-size="7.5" font-family="Liberation Sans" font-weight="bold" fill="#333" text-anchor="start" textLength="21.5" lengthAdjust="spacingAndGlyphs" >74.8%</text>
<text x="513.7" y="318.3" font-size="7.5" font-family="Liberation Sans" font-weight="bold" fill="#333" text-anchor="end" textLength="21.1" lengthAdjust="spacingAndGlyphs" >11.2%</text>
<text x="459.7" y="345.7" font-size="14.2" font-family="Liberation Serif" font-weight="bold" fill="#000" text-anchor="middle" textLength="32.2" lengthAdjust="spacingAndGlyphs" >MAN</text>
<text x="29.8" y="412.2" font-size="17.4" font-family="Liberation Serif" font-weight="bold" fill="#000" text-anchor="middle" textLength="11.8" lengthAdjust="spacingAndGlyphs" >II</text>
<rect x="82.8" y="440.2" width="23.6" height="63.9" fill="#ecccf6" stroke="#3c0a5c" stroke-width="1.6"/>
<rect x="82.8" y="504.1" width="23.6" height="56.1" fill="#770099" stroke="#3c0a5c" stroke-width="1.6"/>
<path d="M94.6 440.2V434.4M89.0 434.4H100.2" stroke="#111" stroke-width="1.6" fill="none"/>
<path d="M94.6 504.1V495.6M89.0 495.6H100.2" stroke="#111" stroke-width="1.6" fill="none"/>
<line x1="94.6" y1="560.2" x2="94.6" y2="563.7" stroke="#4a0a72" stroke-width="1.2"/>
<text x="94.6" y="575.1" font-size="9.6" font-family="Liberation Serif" font-weight="bold" fill="#000" text-anchor="middle" textLength="20.1" lengthAdjust="spacingAndGlyphs" >BAR</text>
<rect x="117.3" y="523.4" width="23.6" height="24.4" fill="#ecccf6" stroke="#3c0a5c" stroke-width="1.6"/>
<rect x="117.3" y="547.8" width="23.6" height="12.4" fill="#770099" stroke="#3c0a5c" stroke-width="1.6"/>
<path d="M129.1 523.4V518.8M123.5 518.8H134.7" stroke="#111" stroke-width="1.6" fill="none"/>
<path d="M129.1 547.8V542.8M123.5 542.8H134.7" stroke="#111" stroke-width="1.6" fill="none"/>
<line x1="129.1" y1="560.2" x2="129.1" y2="563.7" stroke="#4a0a72" stroke-width="1.2"/>
<text x="129.1" y="575.1" font-size="9.6" font-family="Liberation Serif" font-weight="bold" fill="#000" text-anchor="middle" textLength="16.3" lengthAdjust="spacingAndGlyphs" >JEN</text>
<rect x="152.0" y="504.1" width="23.6" height="31.7" fill="#ecccf6" stroke="#3c0a5c" stroke-width="1.6"/>
<rect x="152.0" y="535.8" width="23.6" height="24.4" fill="#770099" stroke="#3c0a5c" stroke-width="1.6"/>
<path d="M163.8 504.1V501.4M158.2 501.4H169.4" stroke="#111" stroke-width="1.6" fill="none"/>
<path d="M163.8 535.8V528.5M158.2 528.5H169.4" stroke="#111" stroke-width="1.6" fill="none"/>
<line x1="163.8" y1="560.2" x2="163.8" y2="563.7" stroke="#4a0a72" stroke-width="1.2"/>
<text x="163.8" y="575.1" font-size="9.6" font-family="Liberation Serif" font-weight="bold" fill="#000" text-anchor="middle" textLength="16.9" lengthAdjust="spacingAndGlyphs" >JUR</text>
<rect x="187.0" y="420.9" width="23.6" height="109.5" fill="#ecccf6" stroke="#3c0a5c" stroke-width="1.6"/>
<rect x="187.0" y="530.4" width="23.6" height="29.8" fill="#770099" stroke="#3c0a5c" stroke-width="1.6"/>
<path d="M198.8 420.9V417.0M193.2 417.0H204.4" stroke="#111" stroke-width="1.6" fill="none"/>
<path d="M198.8 530.4V527.3M193.2 527.3H204.4" stroke="#111" stroke-width="1.6" fill="none"/>
<line x1="198.8" y1="560.2" x2="198.8" y2="563.7" stroke="#4a0a72" stroke-width="1.2"/>
<text x="198.8" y="575.1" font-size="9.6" font-family="Liberation Serif" font-weight="bold" fill="#000" text-anchor="middle" textLength="25.1" lengthAdjust="spacingAndGlyphs" >MAN</text>
<line x1="77.6" y1="404.9" x2="77.6" y2="561.0" stroke="#4a0a72" stroke-width="1.5"/>
<line x1="76.89999999999999" y1="560.2" x2="215.8" y2="560.2" stroke="#4a0a72" stroke-width="1.6"/>
<path d="M74.0 560.2H77.6M75.6 552.5H77.6M75.6 544.7H77.6M75.6 537.0H77.6M75.6 529.2H77.6M74.0 521.5H77.6M75.6 513.8H77.6M75.6 506.0H77.6M75.6 498.3H77.6M75.6 490.5H77.6M74.0 482.8H77.6M75.6 475.1H77.6M75.6 467.3H77.6M75.6 459.6H77.6M75.6 451.8H77.6M74.0 444.1H77.6M75.6 436.4H77.6M75.6 428.6H77.6M75.6 420.9H77.6M75.6 413.1H77.6M74.0 405.4H77.6" stroke="#2a0a40" stroke-width="1.2" fill="none"/>
<text x="72.4" y="563.5" font-size="10.3" font-family="Liberation Serif" font-weight="bold" fill="#000" text-anchor="end" textLength="5.3" lengthAdjust="spacingAndGlyphs" >0</text>
<text x="72.4" y="524.8" font-size="10.3" font-family="Liberation Serif" font-weight="bold" fill="#000" text-anchor="end" textLength="10.3" lengthAdjust="spacingAndGlyphs" >10</text>
<text x="72.4" y="486.1" font-size="10.3" font-family="Liberation Serif" font-weight="bold" fill="#000" text-anchor="end" textLength="10.3" lengthAdjust="spacingAndGlyphs" >20</text>
<text x="72.4" y="447.4" font-size="10.3" font-family="Liberation Serif" font-weight="bold" fill="#000" text-anchor="end" textLength="10.3" lengthAdjust="spacingAndGlyphs" >30</text>
<text x="72.4" y="408.7" font-size="10.3" font-family="Liberation Serif" font-weight="bold" fill="#000" text-anchor="end" textLength="10.3" lengthAdjust="spacingAndGlyphs" >40</text>
<text transform="translate(50.7,480.5) rotate(-90)" x="0" y="0" font-size="10.8" font-family="Liberation Serif" font-weight="bold" fill="#000" text-anchor="middle" textLength="73.4" lengthAdjust="spacingAndGlyphs">Apoptosis (%)</text>
<rect x="393.3" y="428.2" width="26.0" height="66.2" fill="#ecccf6" stroke="#3c0a5c" stroke-width="1.6"/>
<rect x="393.3" y="494.4" width="26.0" height="65.1" fill="#770099" stroke="#3c0a5c" stroke-width="1.6"/>
<path d="M406.3 428.2V418.7M399.5 418.7H413.1" stroke="#111" stroke-width="1.6" fill="none"/>
<path d="M406.3 494.4V488.7M399.5 488.7H413.1" stroke="#111" stroke-width="1.6" fill="none"/>
<line x1="406.3" y1="559.5" x2="406.3" y2="563.0" stroke="#4a0a72" stroke-width="1.2"/>
<text x="406.3" y="575.1" font-size="9.6" font-family="Liberation Serif" font-weight="bold" fill="#000" text-anchor="middle" textLength="22.0" lengthAdjust="spacingAndGlyphs" >JUR</text>
<rect x="440.2" y="464.0" width="26.0" height="52.1" fill="#ecccf6" stroke="#3c0a5c" stroke-width="1.6"/>
<rect x="440.2" y="516.1" width="26.0" height="43.4" fill="#770099" stroke="#3c0a5c" stroke-width="1.6"/>
<path d="M453.2 464.0V461.0M446.4 461.0H460.0" stroke="#111" stroke-width="1.6" fill="none"/>
<path d="M453.2 516.1V508.9M446.4 508.9H460.0" stroke="#111" stroke-width="1.6" fill="none"/>
<line x1="453.2" y1="559.5" x2="453.2" y2="563.0" stroke="#4a0a72" stroke-width="1.2"/>
<text x="453.2" y="575.1" font-size="9.6" font-family="Liberation Serif" font-weight="bold" fill="#000" text-anchor="middle" textLength="26.6" lengthAdjust="spacingAndGlyphs" >MAN</text>
<line x1="382.4" y1="406.8" x2="382.4" y2="560.3" stroke="#4a0a72" stroke-width="1.5"/>
<line x1="381.7" y1="559.5" x2="477.4" y2="559.5" stroke="#4a0a72" stroke-width="1.6"/>
<path d="M378.8 559.5H382.4M380.4 551.9H382.4M380.4 544.3H382.4M380.4 536.7H382.4M380.4 529.1H382.4M378.8 521.5H382.4M380.4 513.8H382.4M380.4 506.2H382.4M380.4 498.6H382.4M380.4 491.0H382.4M378.8 483.4H382.4M380.4 475.8H382.4M380.4 468.2H382.4M380.4 460.6H382.4M380.4 453.0H382.4M378.8 445.4H382.4M380.4 437.7H382.4M380.4 430.1H382.4M380.4 422.5H382.4M380.4 414.9H382.4M378.8 407.3H382.4" stroke="#2a0a40" stroke-width="1.2" fill="none"/>
<text x="378.3" y="562.8" font-size="10.3" font-family="Liberation Serif" font-weight="bold" fill="#000" text-anchor="end" textLength="5.3" lengthAdjust="spacingAndGlyphs" >0</text>
<text x="378.3" y="524.8" font-size="10.3" font-family="Liberation Serif" font-weight="bold" fill="#000" text-anchor="end" textLength="10.3" lengthAdjust="spacingAndGlyphs" >10</text>
<text x="378.3" y="486.7" font-size="10.3" font-family="Liberation Serif" font-weight="bold" fill="#000" text-anchor="end" textLength="10.3" lengthAdjust="spacingAndGlyphs" >20</text>
<text x="378.3" y="448.7" font-size="10.3" font-family="Liberation Serif" font-weight="bold" fill="#000" text-anchor="end" textLength="10.3" lengthAdjust="spacingAndGlyphs" >30</text>
<text x="378.3" y="410.6" font-size="10.3" font-family="Liberation Serif" font-weight="bold" fill="#000" text-anchor="end" textLength="10.3" lengthAdjust="spacingAndGlyphs" >40</text>
<text transform="translate(356.6,481.0) rotate(-90)" x="0" y="0" font-size="10.8" font-family="Liberation Serif" font-weight="bold" fill="#000" text-anchor="middle" textLength="72.9" lengthAdjust="spacingAndGlyphs">Apoptosis (%)</text>
<path d="M114.9 399.2V393.9H209.4V399.2" stroke="#111" stroke-width="1.65" fill="none"/>
<text x="163.5" y="394.6" font-size="9.4" font-family="Liberation Serif" font-weight="bold" fill="#000" text-anchor="middle" textLength="11.1" lengthAdjust="spacingAndGlyphs" >***</text>
<path d="M154.4 411.4V406.0H209.0V411.4" stroke="#111" stroke-width="1.65" fill="none"/>
<text x="183.0" y="406.9" font-size="9.4" font-family="Liberation Serif" font-weight="bold" fill="#000" text-anchor="middle" textLength="11.1" lengthAdjust="spacingAndGlyphs" >***</text>
<path d="M84.7 423.0V417.3H174.4V423.0" stroke="#111" stroke-width="1.65" fill="none"/>
<text x="128.5" y="417.7" font-size="9.4" font-family="Liberation Serif" font-weight="bold" fill="#000" text-anchor="middle" textLength="7.2" lengthAdjust="spacingAndGlyphs" >**</text>
<path d="M84.7 434.2V428.9H137.3V434.2" stroke="#111" stroke-width="1.65" fill="none"/>
<text x="111.0" y="429.1" font-size="9.4" font-family="Liberation Serif" font-weight="bold" fill="#000" text-anchor="middle" textLength="11.1" lengthAdjust="spacingAndGlyphs" >***</text>
<path d="M118.2 499.2V494.7H171.4V499.2" stroke="#111" stroke-width="1.65" fill="none"/>
<text x="141.8" y="495.4" font-size="9.4" font-family="Liberation Serif" font-weight="bold" fill="#000" text-anchor="middle" >*</text>
<path d="M396.0 416.0V411.2H475.3V416.0" stroke="#111" stroke-width="1.65" fill="none"/>
<text x="434.0" y="410.5" font-size="9.4" font-family="Liberation Serif" font-weight="bold" fill="#000" text-anchor="middle" >*</text>
<rect x="232.8" y="459.9" width="13.2" height="11.2" fill="#ecccf6" stroke="#3c0a5c" stroke-width="1.6"/>
<rect x="232.8" y="485.4" width="13.2" height="11.8" fill="#770099" stroke="#3c0a5c" stroke-width="1.6"/>
<text x="253.2" y="470.1" font-size="12.2" font-family="Liberation Serif" font-weight="bold" fill="#000" text-anchor="start" textLength="76.6" lengthAdjust="spacingAndGlyphs" >Late apoptosis</text>
<text x="253.2" y="495.6" font-size="12.2" font-family="Liberation Serif" font-weight="bold" fill="#000" text-anchor="start" textLength="81.4" lengthAdjust="spacingAndGlyphs" >Early apoptosis</text>
<rect x="107" y="585.2" width="85.9" height="20" fill="#fff" stroke="#333" stroke-width="1.5"/>
<text x="150.8" y="599.8" font-size="13.6" font-family="Liberation Serif" font-weight="bold" fill="#118a11" text-anchor="middle" textLength="50.7" lengthAdjust="spacingAndGlyphs" >HCT116</text>
<rect x="385.7" y="584" width="85.8" height="20" fill="#fff" stroke="#333" stroke-width="1.5"/>
<text x="428.4" y="599.1" font-size="13.6" font-family="Liberation Serif" font-weight="bold" fill="#f01010" text-anchor="middle" textLength="32.9" lengthAdjust="spacingAndGlyphs" >HT29</text></svg>
</body></html>
